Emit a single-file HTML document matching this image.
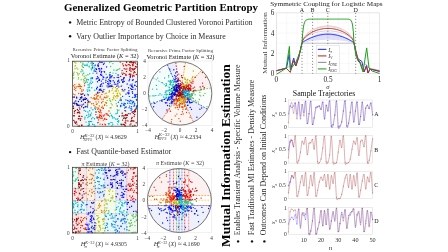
<!DOCTYPE html>
<html><head><meta charset="utf-8"><title>Generalized Geometric Partition Entropy</title>
<style>
html,body{margin:0;padding:0;background:#fff;}
body{width:448px;height:252px;overflow:hidden;}
svg{display:block;font-family:"Liberation Serif","DejaVu Serif",serif;}
</style></head><body>
<svg width="448" height="252" viewBox="0 0 448 252">
<rect width="448" height="252" fill="#fff"/>
<text x="64.00" y="10.60" font-size="9.6" text-anchor="start" font-weight="bold" font-style="normal" fill="#050505" textLength="194" lengthAdjust="spacingAndGlyphs">Generalized Geometric Partition Entropy</text>
<circle cx="70.1" cy="22.4" r="1.2" fill="#111"/>
<text x="76.20" y="24.90" font-size="7.2" text-anchor="start" font-weight="normal" font-style="normal" fill="#2e2e2e" textLength="176.4" lengthAdjust="spacingAndGlyphs">Metric Entropy of Bounded Clustered Voronoi Partition</text>
<circle cx="70.1" cy="36.3" r="1.2" fill="#111"/>
<text x="76.20" y="38.90" font-size="7.2" text-anchor="start" font-weight="normal" font-style="normal" fill="#2e2e2e" textLength="149.5" lengthAdjust="spacingAndGlyphs">Vary Outlier Importance by Choice in Measure</text>
<circle cx="70.1" cy="152.1" r="1.2" fill="#111"/>
<text x="76.20" y="153.80" font-size="7.2" text-anchor="start" font-weight="normal" font-style="normal" fill="#2e2e2e" textLength="95" lengthAdjust="spacingAndGlyphs">Fast Quantile-based Estimator</text>
<path d="M72.50,61.20 L82.50,61.20 L80.26,70.72 L72.50,71.94 Z" fill="#f9fbf1"/>
<path d="M82.50,61.20 L94.90,61.20 L93.65,75.55 L93.30,75.83 L87.15,77.14 L80.26,70.72 Z" fill="#f0fbfa"/>
<path d="M72.50,82.97 L72.50,71.94 L80.26,70.72 L87.15,77.14 L83.36,82.97 Z" fill="#f7fbf3"/>
<path d="M72.50,95.79 L72.50,82.97 L83.36,82.97 L85.35,92.94 Z" fill="#fdf4ef"/>
<path d="M94.90,61.20 L106.62,61.20 L106.62,75.46 L104.97,77.02 L93.65,75.55 Z" fill="#efeffd"/>
<path d="M85.35,92.94 L83.36,82.97 L87.15,77.14 L93.30,75.83 L96.89,92.56 L89.74,96.13 Z" fill="#effafb"/>
<path d="M96.89,92.56 L93.30,75.82 L93.65,75.55 L104.97,77.02 L107.55,87.32 L104.52,93.12 Z" fill="#eff1fd"/>
<path d="M106.62,61.20 L119.75,61.20 L120.69,73.90 L106.62,75.46 Z" fill="#f3fbf7"/>
<path d="M107.55,87.32 L104.97,77.02 L106.62,75.46 L120.69,73.90 L123.18,77.02 L120.73,85.00 Z" fill="#eff1fd"/>
<path d="M119.75,61.20 L137.50,61.20 L137.50,76.51 L123.18,77.02 L120.69,73.90 Z" fill="#faefef"/>
<path d="M106.91,97.09 L104.52,93.12 L107.55,87.32 L120.73,85.00 L124.21,93.89 L118.01,99.74 Z" fill="#fbfaef"/>
<path d="M137.50,76.51 L137.50,96.84 L124.21,93.89 L120.73,85.00 L123.18,77.02 Z" fill="#eff1fd"/>
<path d="M72.50,107.09 L72.50,95.79 L85.35,92.94 L89.74,96.13 L89.03,106.07 L83.88,109.37 Z" fill="#efeff9"/>
<path d="M89.03,106.07 L89.74,96.13 L96.89,92.56 L104.52,93.12 L106.91,97.09 L103.48,108.51 L97.21,110.34 Z" fill="#fdf5ef"/>
<path d="M83.88,126.20 L72.50,126.20 L72.50,107.09 L83.88,109.36 Z" fill="#f8efef"/>
<path d="M96.38,126.20 L83.88,126.20 L83.88,109.36 L89.03,106.07 L97.21,110.34 Z" fill="#eff9fb"/>
<path d="M105.85,126.20 L96.38,126.20 L97.21,110.34 L103.48,108.51 L109.42,112.80 Z" fill="#fdf1ef"/>
<path d="M109.42,112.80 L103.48,108.51 L106.91,97.09 L118.01,99.74 L119.66,111.87 Z" fill="#f7fbf3"/>
<path d="M121.25,126.20 L105.85,126.20 L109.42,112.80 L119.66,111.87 L121.25,113.14 Z" fill="#effafb"/>
<path d="M137.50,96.84 L137.50,109.24 L121.25,113.14 L119.66,111.87 L118.01,99.74 L124.21,93.89 Z" fill="#eff4fd"/>
<path d="M137.50,109.23 L137.50,126.20 L121.25,126.20 L121.25,113.14 Z" fill="#f8efef"/>
<circle cx="80.9" cy="93.7" r="0.68" fill="#e25600"/>
<circle cx="132.8" cy="65.8" r="0.68" fill="#b80000"/>
<circle cx="96.5" cy="94.4" r="0.68" fill="#de6600"/>
<circle cx="123.7" cy="104.8" r="0.68" fill="#0056e2"/>
<circle cx="136.3" cy="74.5" r="0.68" fill="#b80000"/>
<circle cx="111.0" cy="76.5" r="0.68" fill="#39bf85"/>
<circle cx="102.9" cy="79.2" r="0.68" fill="#0017ed"/>
<circle cx="82.1" cy="105.0" r="0.68" fill="#0000a6"/>
<circle cx="117.8" cy="83.3" r="0.68" fill="#0017ed"/>
<circle cx="102.4" cy="106.1" r="0.68" fill="#de6600"/>
<circle cx="110.7" cy="81.3" r="0.68" fill="#0017ed"/>
<circle cx="74.1" cy="115.7" r="0.68" fill="#930000"/>
<circle cx="85.2" cy="65.2" r="0.68" fill="#13bfac"/>
<circle cx="124.8" cy="73.6" r="0.68" fill="#b80000"/>
<circle cx="119.8" cy="93.3" r="0.68" fill="#c4b100"/>
<circle cx="89.3" cy="124.8" r="0.68" fill="#00a5c9"/>
<circle cx="92.9" cy="109.7" r="0.68" fill="#00a5c9"/>
<circle cx="88.4" cy="116.1" r="0.68" fill="#00a5c9"/>
<circle cx="117.5" cy="112.0" r="0.68" fill="#00b7c2"/>
<circle cx="81.8" cy="90.0" r="0.68" fill="#e25600"/>
<circle cx="74.8" cy="84.6" r="0.68" fill="#e25600"/>
<circle cx="82.9" cy="93.6" r="0.68" fill="#0000a6"/>
<circle cx="75.0" cy="68.7" r="0.68" fill="#9cbf22"/>
<circle cx="114.3" cy="84.1" r="0.68" fill="#0017ed"/>
<circle cx="131.8" cy="68.7" r="0.68" fill="#b80000"/>
<circle cx="131.5" cy="106.7" r="0.68" fill="#0056e2"/>
<circle cx="81.9" cy="91.4" r="0.68" fill="#e25600"/>
<circle cx="124.8" cy="110.6" r="0.68" fill="#0056e2"/>
<circle cx="81.5" cy="86.6" r="0.68" fill="#e25600"/>
<circle cx="111.7" cy="76.8" r="0.68" fill="#0017ed"/>
<circle cx="91.4" cy="113.1" r="0.68" fill="#00a5c9"/>
<circle cx="106.2" cy="77.9" r="0.68" fill="#0017ed"/>
<circle cx="131.1" cy="110.3" r="0.68" fill="#0056e2"/>
<circle cx="121.2" cy="86.2" r="0.68" fill="#0017ed"/>
<circle cx="120.9" cy="97.6" r="0.68" fill="#c4b100"/>
<circle cx="76.6" cy="97.3" r="0.68" fill="#0000a6"/>
<circle cx="104.7" cy="118.5" r="0.68" fill="#ed2100"/>
<circle cx="78.4" cy="101.5" r="0.68" fill="#0000a6"/>
<circle cx="81.5" cy="101.3" r="0.68" fill="#0000a6"/>
<circle cx="81.2" cy="94.5" r="0.68" fill="#0000a6"/>
<circle cx="102.4" cy="124.5" r="0.68" fill="#ed2100"/>
<circle cx="80.3" cy="88.4" r="0.68" fill="#e25600"/>
<circle cx="91.2" cy="77.8" r="0.68" fill="#00b1c4"/>
<circle cx="98.9" cy="109.1" r="0.68" fill="#de6600"/>
<circle cx="96.1" cy="94.2" r="0.68" fill="#de6600"/>
<circle cx="97.6" cy="109.3" r="0.68" fill="#de6600"/>
<circle cx="101.9" cy="118.1" r="0.68" fill="#ed2100"/>
<circle cx="132.9" cy="87.6" r="0.68" fill="#0017ed"/>
<circle cx="101.6" cy="68.8" r="0.68" fill="#0004ed"/>
<circle cx="96.8" cy="73.1" r="0.68" fill="#0004ed"/>
<circle cx="117.5" cy="93.8" r="0.68" fill="#c4b100"/>
<circle cx="104.2" cy="71.6" r="0.68" fill="#0004ed"/>
<circle cx="83.4" cy="99.8" r="0.68" fill="#0000a6"/>
<circle cx="97.9" cy="99.1" r="0.68" fill="#de6600"/>
<circle cx="133.4" cy="113.2" r="0.68" fill="#930000"/>
<circle cx="98.5" cy="63.9" r="0.68" fill="#0004ed"/>
<circle cx="102.8" cy="107.9" r="0.68" fill="#de6600"/>
<circle cx="99.5" cy="112.3" r="0.68" fill="#ed2100"/>
<circle cx="87.2" cy="65.6" r="0.68" fill="#13bfac"/>
<circle cx="130.2" cy="85.0" r="0.68" fill="#0017ed"/>
<circle cx="97.5" cy="81.8" r="0.68" fill="#0017ed"/>
<circle cx="101.2" cy="75.2" r="0.68" fill="#0017ed"/>
<circle cx="125.9" cy="120.8" r="0.68" fill="#930000"/>
<circle cx="99.3" cy="105.9" r="0.68" fill="#de6600"/>
<circle cx="77.1" cy="105.3" r="0.68" fill="#0000a6"/>
<circle cx="98.8" cy="80.3" r="0.68" fill="#0017ed"/>
<circle cx="86.3" cy="81.1" r="0.68" fill="#85bf39"/>
<circle cx="79.3" cy="86.5" r="0.68" fill="#e25600"/>
<circle cx="90.8" cy="78.8" r="0.68" fill="#00b1c4"/>
<circle cx="97.0" cy="107.7" r="0.68" fill="#de6600"/>
<circle cx="84.2" cy="110.5" r="0.68" fill="#00a5c9"/>
<circle cx="99.9" cy="69.9" r="0.68" fill="#0004ed"/>
<circle cx="116.8" cy="86.2" r="0.68" fill="#0017ed"/>
<circle cx="118.6" cy="122.0" r="0.68" fill="#00b7c2"/>
<circle cx="132.7" cy="86.9" r="0.68" fill="#0017ed"/>
<circle cx="106.1" cy="113.8" r="0.68" fill="#ed2100"/>
<circle cx="84.6" cy="95.3" r="0.68" fill="#0000a6"/>
<circle cx="105.8" cy="82.3" r="0.68" fill="#0017ed"/>
<circle cx="102.5" cy="92.1" r="0.68" fill="#0017ed"/>
<circle cx="92.9" cy="117.6" r="0.68" fill="#00a5c9"/>
<circle cx="133.7" cy="111.4" r="0.68" fill="#930000"/>
<circle cx="101.6" cy="102.4" r="0.68" fill="#de6600"/>
<circle cx="103.3" cy="120.1" r="0.68" fill="#ed2100"/>
<circle cx="130.9" cy="123.9" r="0.68" fill="#930000"/>
<circle cx="96.0" cy="68.7" r="0.68" fill="#0004ed"/>
<circle cx="96.0" cy="101.9" r="0.68" fill="#de6600"/>
<circle cx="97.4" cy="96.0" r="0.68" fill="#de6600"/>
<circle cx="92.6" cy="82.3" r="0.68" fill="#00b1c4"/>
<circle cx="126.5" cy="62.0" r="0.68" fill="#b80000"/>
<circle cx="88.3" cy="94.9" r="0.68" fill="#0000a6"/>
<circle cx="103.5" cy="64.2" r="0.68" fill="#0004ed"/>
<circle cx="101.7" cy="71.5" r="0.68" fill="#0004ed"/>
<circle cx="135.9" cy="94.4" r="0.68" fill="#0017ed"/>
<circle cx="100.9" cy="118.2" r="0.68" fill="#ed2100"/>
<circle cx="112.8" cy="124.3" r="0.68" fill="#00b7c2"/>
<circle cx="134.6" cy="105.8" r="0.68" fill="#0056e2"/>
<circle cx="103.7" cy="91.6" r="0.68" fill="#c4b100"/>
<circle cx="91.2" cy="68.2" r="0.68" fill="#13bfac"/>
<circle cx="90.5" cy="121.4" r="0.68" fill="#00a5c9"/>
<circle cx="130.3" cy="76.6" r="0.68" fill="#0017ed"/>
<circle cx="134.9" cy="110.1" r="0.68" fill="#930000"/>
<circle cx="81.9" cy="116.4" r="0.68" fill="#930000"/>
<circle cx="74.8" cy="62.4" r="0.68" fill="#9cbf22"/>
<circle cx="134.7" cy="114.4" r="0.68" fill="#930000"/>
<circle cx="110.7" cy="66.5" r="0.68" fill="#39bf85"/>
<circle cx="123.8" cy="91.4" r="0.68" fill="#c4b100"/>
<circle cx="83.4" cy="90.0" r="0.68" fill="#e25600"/>
<circle cx="77.7" cy="73.7" r="0.68" fill="#85bf39"/>
<circle cx="86.1" cy="75.7" r="0.68" fill="#85bf39"/>
<circle cx="83.4" cy="67.4" r="0.68" fill="#13bfac"/>
<circle cx="129.1" cy="107.8" r="0.68" fill="#0056e2"/>
<circle cx="100.8" cy="84.8" r="0.68" fill="#0017ed"/>
<circle cx="117.1" cy="98.1" r="0.68" fill="#c4b100"/>
<circle cx="85.2" cy="98.0" r="0.68" fill="#0000a6"/>
<circle cx="119.1" cy="110.1" r="0.68" fill="#85bf39"/>
<circle cx="111.6" cy="115.7" r="0.68" fill="#00b7c2"/>
<circle cx="118.1" cy="69.4" r="0.68" fill="#39bf85"/>
<circle cx="107.7" cy="83.8" r="0.68" fill="#0017ed"/>
<circle cx="99.0" cy="68.5" r="0.68" fill="#0004ed"/>
<circle cx="96.8" cy="117.8" r="0.68" fill="#00a5c9"/>
<circle cx="117.7" cy="81.1" r="0.68" fill="#0017ed"/>
<circle cx="118.5" cy="75.1" r="0.68" fill="#39bf85"/>
<circle cx="75.8" cy="90.6" r="0.68" fill="#e25600"/>
<circle cx="89.9" cy="116.3" r="0.68" fill="#00a5c9"/>
<circle cx="101.6" cy="84.0" r="0.68" fill="#0017ed"/>
<circle cx="111.9" cy="86.6" r="0.68" fill="#0017ed"/>
<circle cx="131.9" cy="101.0" r="0.68" fill="#0056e2"/>
<circle cx="122.2" cy="113.2" r="0.68" fill="#930000"/>
<circle cx="88.5" cy="114.1" r="0.68" fill="#00a5c9"/>
<circle cx="77.5" cy="104.9" r="0.68" fill="#0000a6"/>
<circle cx="122.5" cy="74.2" r="0.68" fill="#b80000"/>
<circle cx="80.4" cy="120.3" r="0.68" fill="#930000"/>
<circle cx="110.4" cy="86.6" r="0.68" fill="#c4b100"/>
<circle cx="88.5" cy="102.5" r="0.68" fill="#de6600"/>
<circle cx="78.7" cy="86.5" r="0.68" fill="#e25600"/>
<circle cx="76.8" cy="68.0" r="0.68" fill="#9cbf22"/>
<circle cx="120.7" cy="76.4" r="0.68" fill="#b80000"/>
<circle cx="101.7" cy="99.1" r="0.68" fill="#de6600"/>
<circle cx="109.5" cy="98.8" r="0.68" fill="#85bf39"/>
<circle cx="108.0" cy="96.2" r="0.68" fill="#c4b100"/>
<circle cx="87.6" cy="104.2" r="0.68" fill="#de6600"/>
<circle cx="108.3" cy="83.1" r="0.68" fill="#0017ed"/>
<circle cx="101.9" cy="75.1" r="0.68" fill="#0004ed"/>
<circle cx="91.8" cy="65.2" r="0.68" fill="#13bfac"/>
<circle cx="101.6" cy="90.6" r="0.68" fill="#0017ed"/>
<circle cx="112.1" cy="75.6" r="0.68" fill="#0017ed"/>
<circle cx="103.3" cy="99.3" r="0.68" fill="#de6600"/>
<circle cx="78.5" cy="77.7" r="0.68" fill="#85bf39"/>
<circle cx="92.7" cy="67.6" r="0.68" fill="#0004ed"/>
<circle cx="78.4" cy="105.3" r="0.68" fill="#0000a6"/>
<circle cx="80.5" cy="97.8" r="0.68" fill="#0000a6"/>
<circle cx="96.8" cy="96.1" r="0.68" fill="#de6600"/>
<circle cx="91.8" cy="87.7" r="0.68" fill="#00b1c4"/>
<circle cx="73.3" cy="103.3" r="0.68" fill="#0000a6"/>
<circle cx="101.4" cy="81.1" r="0.68" fill="#0017ed"/>
<circle cx="98.1" cy="122.4" r="0.68" fill="#ed2100"/>
<circle cx="132.1" cy="117.5" r="0.68" fill="#930000"/>
<circle cx="116.7" cy="89.0" r="0.68" fill="#c4b100"/>
<circle cx="135.4" cy="82.1" r="0.68" fill="#0017ed"/>
<circle cx="137.2" cy="64.3" r="0.68" fill="#b80000"/>
<circle cx="100.4" cy="110.7" r="0.68" fill="#ed2100"/>
<circle cx="74.1" cy="96.7" r="0.68" fill="#e25600"/>
<circle cx="120.7" cy="105.5" r="0.68" fill="#0056e2"/>
<circle cx="128.6" cy="87.8" r="0.68" fill="#0017ed"/>
<circle cx="79.0" cy="84.2" r="0.68" fill="#e25600"/>
<circle cx="80.5" cy="86.2" r="0.68" fill="#e25600"/>
<circle cx="117.9" cy="118.6" r="0.68" fill="#00b7c2"/>
<circle cx="94.9" cy="98.4" r="0.68" fill="#de6600"/>
<circle cx="133.9" cy="62.4" r="0.68" fill="#b80000"/>
<circle cx="121.7" cy="73.0" r="0.68" fill="#39bf85"/>
<circle cx="89.6" cy="121.7" r="0.68" fill="#00a5c9"/>
<circle cx="132.9" cy="75.3" r="0.68" fill="#b80000"/>
<circle cx="117.1" cy="105.7" r="0.68" fill="#85bf39"/>
<circle cx="124.7" cy="108.1" r="0.68" fill="#0056e2"/>
<circle cx="77.8" cy="69.1" r="0.68" fill="#9cbf22"/>
<circle cx="85.7" cy="111.2" r="0.68" fill="#00a5c9"/>
<circle cx="127.7" cy="103.2" r="0.68" fill="#0056e2"/>
<circle cx="95.5" cy="109.3" r="0.68" fill="#00a5c9"/>
<circle cx="121.8" cy="124.2" r="0.68" fill="#930000"/>
<circle cx="87.7" cy="91.3" r="0.68" fill="#00b1c4"/>
<circle cx="112.0" cy="125.9" r="0.68" fill="#00b7c2"/>
<circle cx="98.5" cy="77.9" r="0.68" fill="#0017ed"/>
<circle cx="105.4" cy="102.5" r="0.68" fill="#85bf39"/>
<circle cx="135.0" cy="72.4" r="0.68" fill="#b80000"/>
<circle cx="91.4" cy="69.8" r="0.68" fill="#13bfac"/>
<circle cx="95.9" cy="111.7" r="0.68" fill="#00a5c9"/>
<circle cx="89.7" cy="84.0" r="0.68" fill="#00b1c4"/>
<circle cx="84.7" cy="78.3" r="0.68" fill="#85bf39"/>
<circle cx="95.2" cy="108.1" r="0.68" fill="#de6600"/>
<circle cx="87.9" cy="112.0" r="0.68" fill="#00a5c9"/>
<circle cx="74.7" cy="102.1" r="0.68" fill="#0000a6"/>
<circle cx="133.5" cy="63.1" r="0.68" fill="#b80000"/>
<circle cx="97.5" cy="117.8" r="0.68" fill="#ed2100"/>
<circle cx="73.7" cy="78.0" r="0.68" fill="#85bf39"/>
<circle cx="74.7" cy="103.8" r="0.68" fill="#0000a6"/>
<circle cx="87.9" cy="117.6" r="0.68" fill="#00a5c9"/>
<circle cx="122.0" cy="116.6" r="0.68" fill="#00b7c2"/>
<circle cx="73.6" cy="73.6" r="0.68" fill="#85bf39"/>
<circle cx="132.1" cy="103.7" r="0.68" fill="#0056e2"/>
<circle cx="133.7" cy="73.0" r="0.68" fill="#b80000"/>
<circle cx="122.2" cy="115.4" r="0.68" fill="#930000"/>
<circle cx="129.7" cy="68.9" r="0.68" fill="#b80000"/>
<circle cx="99.7" cy="71.3" r="0.68" fill="#0004ed"/>
<circle cx="124.7" cy="103.6" r="0.68" fill="#0056e2"/>
<circle cx="76.3" cy="86.9" r="0.68" fill="#e25600"/>
<circle cx="135.7" cy="109.3" r="0.68" fill="#930000"/>
<circle cx="132.5" cy="76.7" r="0.68" fill="#b80000"/>
<circle cx="74.4" cy="113.1" r="0.68" fill="#930000"/>
<circle cx="117.4" cy="88.8" r="0.68" fill="#c4b100"/>
<circle cx="129.7" cy="101.7" r="0.68" fill="#0056e2"/>
<circle cx="91.6" cy="118.8" r="0.68" fill="#00a5c9"/>
<circle cx="94.5" cy="118.7" r="0.68" fill="#00a5c9"/>
<circle cx="79.2" cy="107.1" r="0.68" fill="#930000"/>
<circle cx="88.4" cy="79.7" r="0.68" fill="#00b1c4"/>
<circle cx="107.8" cy="81.4" r="0.68" fill="#0017ed"/>
<circle cx="117.2" cy="109.8" r="0.68" fill="#85bf39"/>
<circle cx="122.1" cy="79.8" r="0.68" fill="#0017ed"/>
<circle cx="86.6" cy="115.4" r="0.68" fill="#00a5c9"/>
<circle cx="101.6" cy="107.5" r="0.68" fill="#de6600"/>
<circle cx="120.6" cy="106.5" r="0.68" fill="#0056e2"/>
<circle cx="137.2" cy="94.8" r="0.68" fill="#0017ed"/>
<circle cx="134.8" cy="110.2" r="0.68" fill="#930000"/>
<circle cx="132.2" cy="112.6" r="0.68" fill="#930000"/>
<circle cx="128.8" cy="92.2" r="0.68" fill="#0017ed"/>
<circle cx="74.6" cy="122.0" r="0.68" fill="#930000"/>
<circle cx="116.1" cy="91.3" r="0.68" fill="#c4b100"/>
<circle cx="110.3" cy="80.8" r="0.68" fill="#0017ed"/>
<circle cx="133.0" cy="75.6" r="0.68" fill="#b80000"/>
<circle cx="104.7" cy="97.1" r="0.68" fill="#de6600"/>
<circle cx="82.0" cy="125.1" r="0.68" fill="#930000"/>
<circle cx="89.2" cy="85.9" r="0.68" fill="#00b1c4"/>
<circle cx="99.5" cy="89.5" r="0.68" fill="#0017ed"/>
<circle cx="126.7" cy="65.7" r="0.68" fill="#b80000"/>
<circle cx="84.8" cy="118.9" r="0.68" fill="#00a5c9"/>
<circle cx="83.3" cy="99.3" r="0.68" fill="#0000a6"/>
<circle cx="100.0" cy="124.1" r="0.68" fill="#ed2100"/>
<circle cx="89.2" cy="87.4" r="0.68" fill="#00b1c4"/>
<circle cx="81.8" cy="97.3" r="0.68" fill="#0000a6"/>
<circle cx="99.0" cy="68.8" r="0.68" fill="#0004ed"/>
<circle cx="136.2" cy="122.7" r="0.68" fill="#930000"/>
<circle cx="116.3" cy="103.7" r="0.68" fill="#85bf39"/>
<circle cx="124.8" cy="89.8" r="0.68" fill="#0017ed"/>
<circle cx="136.8" cy="86.4" r="0.68" fill="#0017ed"/>
<circle cx="100.3" cy="86.1" r="0.68" fill="#0017ed"/>
<circle cx="131.9" cy="109.1" r="0.68" fill="#0056e2"/>
<circle cx="130.8" cy="88.5" r="0.68" fill="#0017ed"/>
<circle cx="128.4" cy="113.6" r="0.68" fill="#0056e2"/>
<circle cx="77.4" cy="109.5" r="0.68" fill="#930000"/>
<circle cx="127.9" cy="120.9" r="0.68" fill="#930000"/>
<circle cx="118.7" cy="77.5" r="0.68" fill="#0017ed"/>
<circle cx="85.4" cy="99.4" r="0.68" fill="#0000a6"/>
<circle cx="89.2" cy="66.2" r="0.68" fill="#13bfac"/>
<circle cx="119.7" cy="68.7" r="0.68" fill="#39bf85"/>
<circle cx="103.9" cy="89.6" r="0.68" fill="#0017ed"/>
<circle cx="131.1" cy="61.8" r="0.68" fill="#b80000"/>
<circle cx="88.9" cy="125.4" r="0.68" fill="#00a5c9"/>
<circle cx="75.9" cy="63.0" r="0.68" fill="#9cbf22"/>
<circle cx="135.4" cy="111.6" r="0.68" fill="#930000"/>
<circle cx="118.6" cy="80.2" r="0.68" fill="#0017ed"/>
<circle cx="126.0" cy="75.5" r="0.68" fill="#b80000"/>
<circle cx="83.8" cy="81.9" r="0.68" fill="#85bf39"/>
<circle cx="132.3" cy="91.8" r="0.68" fill="#0017ed"/>
<circle cx="123.6" cy="79.9" r="0.68" fill="#0017ed"/>
<circle cx="102.9" cy="101.5" r="0.68" fill="#de6600"/>
<circle cx="128.8" cy="93.5" r="0.68" fill="#0017ed"/>
<circle cx="92.0" cy="61.7" r="0.68" fill="#13bfac"/>
<circle cx="111.2" cy="103.8" r="0.68" fill="#85bf39"/>
<circle cx="120.4" cy="94.8" r="0.68" fill="#c4b100"/>
<circle cx="128.2" cy="64.6" r="0.68" fill="#b80000"/>
<circle cx="103.6" cy="116.0" r="0.68" fill="#ed2100"/>
<circle cx="117.7" cy="124.1" r="0.68" fill="#00b7c2"/>
<circle cx="97.4" cy="87.2" r="0.68" fill="#0017ed"/>
<circle cx="97.1" cy="103.8" r="0.68" fill="#de6600"/>
<circle cx="112.0" cy="86.4" r="0.68" fill="#0017ed"/>
<circle cx="126.0" cy="94.3" r="0.68" fill="#0056e2"/>
<circle cx="91.2" cy="97.7" r="0.68" fill="#de6600"/>
<circle cx="113.5" cy="97.8" r="0.68" fill="#c4b100"/>
<circle cx="110.8" cy="85.7" r="0.68" fill="#0017ed"/>
<circle cx="132.1" cy="84.1" r="0.68" fill="#0017ed"/>
<circle cx="130.0" cy="124.9" r="0.68" fill="#930000"/>
<circle cx="115.6" cy="96.7" r="0.68" fill="#c4b100"/>
<circle cx="101.9" cy="94.4" r="0.68" fill="#de6600"/>
<circle cx="87.0" cy="79.2" r="0.68" fill="#00b1c4"/>
<circle cx="125.7" cy="69.1" r="0.68" fill="#b80000"/>
<circle cx="125.6" cy="110.9" r="0.68" fill="#930000"/>
<circle cx="98.1" cy="66.0" r="0.68" fill="#0004ed"/>
<circle cx="125.6" cy="65.0" r="0.68" fill="#b80000"/>
<circle cx="106.7" cy="96.0" r="0.68" fill="#c4b100"/>
<circle cx="110.1" cy="83.3" r="0.68" fill="#0017ed"/>
<circle cx="91.3" cy="83.6" r="0.68" fill="#00b1c4"/>
<circle cx="96.6" cy="89.3" r="0.68" fill="#00b1c4"/>
<circle cx="131.6" cy="89.4" r="0.68" fill="#0017ed"/>
<circle cx="109.4" cy="90.4" r="0.68" fill="#c4b100"/>
<circle cx="78.4" cy="118.8" r="0.68" fill="#930000"/>
<circle cx="115.4" cy="87.5" r="0.68" fill="#c4b100"/>
<circle cx="117.2" cy="113.2" r="0.68" fill="#00b7c2"/>
<circle cx="109.0" cy="111.0" r="0.68" fill="#ed2100"/>
<circle cx="90.2" cy="114.4" r="0.68" fill="#00a5c9"/>
<circle cx="81.2" cy="79.8" r="0.68" fill="#85bf39"/>
<circle cx="94.0" cy="97.6" r="0.68" fill="#de6600"/>
<circle cx="73.5" cy="94.1" r="0.68" fill="#e25600"/>
<circle cx="106.6" cy="103.1" r="0.68" fill="#de6600"/>
<circle cx="94.8" cy="90.2" r="0.68" fill="#00b1c4"/>
<circle cx="130.9" cy="62.2" r="0.68" fill="#b80000"/>
<circle cx="121.6" cy="80.0" r="0.68" fill="#0017ed"/>
<circle cx="122.2" cy="89.5" r="0.68" fill="#0017ed"/>
<circle cx="112.9" cy="63.6" r="0.68" fill="#39bf85"/>
<circle cx="73.6" cy="108.2" r="0.68" fill="#930000"/>
<circle cx="131.0" cy="71.3" r="0.68" fill="#b80000"/>
<circle cx="86.6" cy="80.0" r="0.68" fill="#00b1c4"/>
<circle cx="131.6" cy="118.8" r="0.68" fill="#930000"/>
<circle cx="99.4" cy="62.0" r="0.68" fill="#0004ed"/>
<circle cx="130.2" cy="65.6" r="0.68" fill="#b80000"/>
<circle cx="99.4" cy="80.4" r="0.68" fill="#0017ed"/>
<circle cx="111.4" cy="115.2" r="0.68" fill="#00b7c2"/>
<circle cx="125.7" cy="107.4" r="0.68" fill="#0056e2"/>
<circle cx="124.9" cy="115.6" r="0.68" fill="#930000"/>
<circle cx="89.7" cy="73.7" r="0.68" fill="#13bfac"/>
<circle cx="100.4" cy="86.1" r="0.68" fill="#0017ed"/>
<circle cx="133.4" cy="101.4" r="0.68" fill="#0056e2"/>
<circle cx="73.6" cy="75.0" r="0.68" fill="#85bf39"/>
<circle cx="114.4" cy="82.2" r="0.68" fill="#0017ed"/>
<circle cx="83.7" cy="79.9" r="0.68" fill="#85bf39"/>
<circle cx="82.0" cy="65.6" r="0.68" fill="#9cbf22"/>
<circle cx="125.3" cy="125.9" r="0.68" fill="#930000"/>
<circle cx="78.3" cy="110.6" r="0.68" fill="#930000"/>
<circle cx="110.3" cy="113.3" r="0.68" fill="#85bf39"/>
<circle cx="106.9" cy="97.5" r="0.68" fill="#de6600"/>
<circle cx="100.1" cy="97.7" r="0.68" fill="#de6600"/>
<circle cx="109.7" cy="62.5" r="0.68" fill="#39bf85"/>
<circle cx="106.2" cy="74.2" r="0.68" fill="#39bf85"/>
<circle cx="98.5" cy="119.9" r="0.68" fill="#ed2100"/>
<circle cx="97.0" cy="116.7" r="0.68" fill="#00a5c9"/>
<circle cx="79.9" cy="105.2" r="0.68" fill="#0000a6"/>
<circle cx="117.1" cy="84.6" r="0.68" fill="#c4b100"/>
<circle cx="107.2" cy="100.5" r="0.68" fill="#85bf39"/>
<circle cx="135.4" cy="95.7" r="0.68" fill="#0056e2"/>
<circle cx="93.2" cy="98.5" r="0.68" fill="#de6600"/>
<circle cx="113.5" cy="97.2" r="0.68" fill="#c4b100"/>
<circle cx="117.3" cy="69.9" r="0.68" fill="#39bf85"/>
<circle cx="116.0" cy="113.7" r="0.68" fill="#00b7c2"/>
<circle cx="136.7" cy="100.3" r="0.68" fill="#0056e2"/>
<circle cx="135.5" cy="66.5" r="0.68" fill="#b80000"/>
<circle cx="109.5" cy="75.0" r="0.68" fill="#0017ed"/>
<circle cx="73.3" cy="106.2" r="0.68" fill="#930000"/>
<circle cx="132.0" cy="62.7" r="0.68" fill="#b80000"/>
<circle cx="136.7" cy="67.0" r="0.68" fill="#b80000"/>
<circle cx="126.9" cy="68.9" r="0.68" fill="#b80000"/>
<circle cx="82.5" cy="66.8" r="0.68" fill="#9cbf22"/>
<circle cx="123.0" cy="90.6" r="0.68" fill="#0017ed"/>
<circle cx="101.6" cy="102.9" r="0.68" fill="#de6600"/>
<circle cx="74.4" cy="111.2" r="0.68" fill="#930000"/>
<circle cx="130.1" cy="67.5" r="0.68" fill="#b80000"/>
<circle cx="76.9" cy="124.1" r="0.68" fill="#930000"/>
<circle cx="109.7" cy="72.8" r="0.68" fill="#39bf85"/>
<circle cx="101.4" cy="68.4" r="0.68" fill="#0004ed"/>
<circle cx="86.8" cy="65.5" r="0.68" fill="#13bfac"/>
<circle cx="123.8" cy="77.9" r="0.68" fill="#0017ed"/>
<circle cx="75.8" cy="101.0" r="0.68" fill="#0000a6"/>
<circle cx="74.9" cy="94.7" r="0.68" fill="#e25600"/>
<circle cx="122.8" cy="82.3" r="0.68" fill="#0017ed"/>
<circle cx="130.9" cy="74.1" r="0.68" fill="#b80000"/>
<circle cx="93.3" cy="103.4" r="0.68" fill="#de6600"/>
<circle cx="84.6" cy="65.2" r="0.68" fill="#13bfac"/>
<circle cx="123.4" cy="124.6" r="0.68" fill="#930000"/>
<circle cx="92.6" cy="66.2" r="0.68" fill="#13bfac"/>
<circle cx="109.6" cy="80.8" r="0.68" fill="#0017ed"/>
<circle cx="84.6" cy="80.6" r="0.68" fill="#85bf39"/>
<circle cx="115.8" cy="84.3" r="0.68" fill="#0017ed"/>
<circle cx="120.4" cy="98.2" r="0.68" fill="#c4b100"/>
<circle cx="100.2" cy="89.5" r="0.68" fill="#0017ed"/>
<circle cx="81.2" cy="98.0" r="0.68" fill="#0000a6"/>
<circle cx="98.2" cy="95.8" r="0.68" fill="#de6600"/>
<circle cx="94.1" cy="65.5" r="0.68" fill="#13bfac"/>
<circle cx="81.6" cy="125.6" r="0.68" fill="#930000"/>
<circle cx="133.8" cy="102.3" r="0.68" fill="#0056e2"/>
<circle cx="103.0" cy="91.2" r="0.68" fill="#0017ed"/>
<circle cx="131.5" cy="120.8" r="0.68" fill="#930000"/>
<circle cx="81.6" cy="106.8" r="0.68" fill="#930000"/>
<circle cx="93.9" cy="105.2" r="0.68" fill="#de6600"/>
<circle cx="83.6" cy="107.7" r="0.68" fill="#0000a6"/>
<circle cx="123.3" cy="105.1" r="0.68" fill="#0056e2"/>
<circle cx="84.5" cy="85.8" r="0.68" fill="#e25600"/>
<circle cx="97.9" cy="117.7" r="0.68" fill="#ed2100"/>
<circle cx="123.2" cy="81.9" r="0.68" fill="#0017ed"/>
<circle cx="133.8" cy="62.4" r="0.68" fill="#b80000"/>
<circle cx="130.9" cy="121.5" r="0.68" fill="#930000"/>
<circle cx="115.7" cy="119.0" r="0.68" fill="#00b7c2"/>
<circle cx="73.9" cy="115.8" r="0.68" fill="#930000"/>
<circle cx="125.1" cy="107.1" r="0.68" fill="#0056e2"/>
<circle cx="107.1" cy="113.9" r="0.68" fill="#ed2100"/>
<circle cx="109.0" cy="86.0" r="0.68" fill="#0017ed"/>
<circle cx="77.4" cy="112.7" r="0.68" fill="#930000"/>
<circle cx="98.4" cy="111.6" r="0.68" fill="#ed2100"/>
<circle cx="90.3" cy="82.6" r="0.68" fill="#00b1c4"/>
<circle cx="95.1" cy="99.2" r="0.68" fill="#de6600"/>
<circle cx="112.5" cy="88.7" r="0.68" fill="#c4b100"/>
<circle cx="108.9" cy="123.9" r="0.68" fill="#00b7c2"/>
<circle cx="114.2" cy="95.7" r="0.68" fill="#c4b100"/>
<circle cx="95.0" cy="126.2" r="0.68" fill="#00a5c9"/>
<circle cx="108.4" cy="123.8" r="0.68" fill="#00b7c2"/>
<circle cx="77.9" cy="112.4" r="0.68" fill="#930000"/>
<circle cx="118.0" cy="85.1" r="0.68" fill="#0017ed"/>
<circle cx="136.7" cy="106.5" r="0.68" fill="#0056e2"/>
<circle cx="74.9" cy="66.1" r="0.68" fill="#9cbf22"/>
<circle cx="132.5" cy="80.3" r="0.68" fill="#0017ed"/>
<circle cx="135.4" cy="96.2" r="0.68" fill="#0017ed"/>
<circle cx="79.2" cy="112.0" r="0.68" fill="#930000"/>
<circle cx="101.3" cy="72.7" r="0.68" fill="#0004ed"/>
<circle cx="129.8" cy="70.4" r="0.68" fill="#b80000"/>
<circle cx="110.9" cy="122.4" r="0.68" fill="#00b7c2"/>
<circle cx="129.4" cy="96.4" r="0.68" fill="#0056e2"/>
<circle cx="78.1" cy="75.0" r="0.68" fill="#85bf39"/>
<circle cx="118.8" cy="86.9" r="0.68" fill="#0017ed"/>
<circle cx="94.3" cy="69.2" r="0.68" fill="#13bfac"/>
<circle cx="92.6" cy="68.5" r="0.68" fill="#13bfac"/>
<circle cx="136.3" cy="108.6" r="0.68" fill="#0056e2"/>
<circle cx="134.4" cy="68.9" r="0.68" fill="#b80000"/>
<circle cx="134.3" cy="97.4" r="0.68" fill="#0056e2"/>
<circle cx="134.9" cy="85.5" r="0.68" fill="#0017ed"/>
<circle cx="100.7" cy="110.8" r="0.68" fill="#ed2100"/>
<circle cx="110.0" cy="100.4" r="0.68" fill="#85bf39"/>
<circle cx="134.4" cy="71.7" r="0.68" fill="#b80000"/>
<circle cx="87.4" cy="106.9" r="0.68" fill="#0000a6"/>
<circle cx="130.7" cy="100.4" r="0.68" fill="#0056e2"/>
<circle cx="128.3" cy="100.9" r="0.68" fill="#0056e2"/>
<circle cx="98.3" cy="93.0" r="0.68" fill="#de6600"/>
<circle cx="85.3" cy="102.5" r="0.68" fill="#0000a6"/>
<circle cx="133.2" cy="79.7" r="0.68" fill="#0017ed"/>
<circle cx="125.9" cy="74.5" r="0.68" fill="#b80000"/>
<circle cx="75.7" cy="88.6" r="0.68" fill="#e25600"/>
<circle cx="96.6" cy="88.5" r="0.68" fill="#0017ed"/>
<circle cx="107.3" cy="77.2" r="0.68" fill="#0017ed"/>
<circle cx="113.8" cy="98.9" r="0.68" fill="#c4b100"/>
<circle cx="106.8" cy="105.6" r="0.68" fill="#85bf39"/>
<circle cx="130.3" cy="77.3" r="0.68" fill="#0017ed"/>
<circle cx="119.3" cy="116.3" r="0.68" fill="#930000"/>
<circle cx="87.1" cy="64.2" r="0.68" fill="#13bfac"/>
<circle cx="85.1" cy="106.9" r="0.68" fill="#0000a6"/>
<circle cx="100.6" cy="74.5" r="0.68" fill="#0004ed"/>
<circle cx="120.2" cy="62.1" r="0.68" fill="#b80000"/>
<circle cx="73.8" cy="120.4" r="0.68" fill="#930000"/>
<circle cx="123.6" cy="78.5" r="0.68" fill="#0017ed"/>
<circle cx="97.6" cy="65.1" r="0.68" fill="#0004ed"/>
<circle cx="112.8" cy="118.0" r="0.68" fill="#00b7c2"/>
<circle cx="109.7" cy="78.0" r="0.68" fill="#0017ed"/>
<circle cx="88.1" cy="84.8" r="0.68" fill="#00b1c4"/>
<circle cx="120.8" cy="105.9" r="0.68" fill="#0056e2"/>
<circle cx="96.4" cy="98.8" r="0.68" fill="#de6600"/>
<circle cx="94.7" cy="67.1" r="0.68" fill="#13bfac"/>
<circle cx="82.6" cy="75.0" r="0.68" fill="#85bf39"/>
<circle cx="92.0" cy="78.8" r="0.68" fill="#00b1c4"/>
<circle cx="109.2" cy="86.1" r="0.68" fill="#0017ed"/>
<circle cx="113.3" cy="93.2" r="0.68" fill="#c4b100"/>
<circle cx="86.5" cy="98.7" r="0.68" fill="#0000a6"/>
<circle cx="105.5" cy="124.7" r="0.68" fill="#ed2100"/>
<circle cx="88.3" cy="101.6" r="0.68" fill="#0000a6"/>
<circle cx="115.9" cy="73.4" r="0.68" fill="#39bf85"/>
<circle cx="122.1" cy="70.6" r="0.68" fill="#b80000"/>
<circle cx="127.2" cy="84.0" r="0.68" fill="#0017ed"/>
<circle cx="79.6" cy="116.2" r="0.68" fill="#930000"/>
<circle cx="80.8" cy="118.7" r="0.68" fill="#930000"/>
<circle cx="89.7" cy="90.8" r="0.68" fill="#00b1c4"/>
<circle cx="106.6" cy="66.9" r="0.68" fill="#0004ed"/>
<circle cx="124.3" cy="105.3" r="0.68" fill="#0056e2"/>
<circle cx="80.7" cy="62.4" r="0.68" fill="#9cbf22"/>
<circle cx="91.1" cy="63.4" r="0.68" fill="#13bfac"/>
<circle cx="134.6" cy="112.1" r="0.68" fill="#930000"/>
<circle cx="124.2" cy="68.8" r="0.68" fill="#b80000"/>
<circle cx="129.2" cy="64.7" r="0.68" fill="#b80000"/>
<circle cx="126.6" cy="62.2" r="0.68" fill="#b80000"/>
<circle cx="134.4" cy="104.1" r="0.68" fill="#0056e2"/>
<circle cx="97.5" cy="76.7" r="0.68" fill="#0017ed"/>
<circle cx="109.5" cy="91.4" r="0.68" fill="#c4b100"/>
<circle cx="79.8" cy="109.0" r="0.68" fill="#0000a6"/>
<circle cx="132.5" cy="97.4" r="0.68" fill="#0056e2"/>
<circle cx="117.4" cy="95.8" r="0.68" fill="#c4b100"/>
<circle cx="114.1" cy="77.8" r="0.68" fill="#0017ed"/>
<circle cx="121.8" cy="103.5" r="0.68" fill="#0056e2"/>
<circle cx="74.3" cy="89.2" r="0.68" fill="#e25600"/>
<circle cx="75.6" cy="65.6" r="0.68" fill="#9cbf22"/>
<circle cx="84.2" cy="76.3" r="0.68" fill="#85bf39"/>
<circle cx="76.0" cy="122.3" r="0.68" fill="#930000"/>
<circle cx="104.5" cy="72.1" r="0.68" fill="#0004ed"/>
<circle cx="131.9" cy="86.5" r="0.68" fill="#0017ed"/>
<circle cx="87.5" cy="94.2" r="0.68" fill="#00b1c4"/>
<circle cx="89.1" cy="123.6" r="0.68" fill="#00a5c9"/>
<circle cx="133.2" cy="64.9" r="0.68" fill="#b80000"/>
<circle cx="137.2" cy="105.8" r="0.68" fill="#0056e2"/>
<circle cx="131.8" cy="85.4" r="0.68" fill="#0017ed"/>
<circle cx="102.2" cy="118.1" r="0.68" fill="#ed2100"/>
<circle cx="84.4" cy="99.3" r="0.68" fill="#0000a6"/>
<circle cx="132.5" cy="64.8" r="0.68" fill="#b80000"/>
<circle cx="116.3" cy="90.8" r="0.68" fill="#c4b100"/>
<circle cx="130.0" cy="100.1" r="0.68" fill="#0056e2"/>
<circle cx="98.4" cy="66.0" r="0.68" fill="#0004ed"/>
<circle cx="125.7" cy="123.1" r="0.68" fill="#930000"/>
<circle cx="118.5" cy="96.1" r="0.68" fill="#c4b100"/>
<circle cx="105.1" cy="93.7" r="0.68" fill="#c4b100"/>
<circle cx="124.6" cy="117.9" r="0.68" fill="#930000"/>
<circle cx="75.4" cy="123.2" r="0.68" fill="#930000"/>
<circle cx="127.3" cy="115.4" r="0.68" fill="#930000"/>
<circle cx="117.7" cy="95.8" r="0.68" fill="#c4b100"/>
<circle cx="123.7" cy="115.9" r="0.68" fill="#930000"/>
<circle cx="110.9" cy="107.9" r="0.68" fill="#85bf39"/>
<circle cx="124.0" cy="124.2" r="0.68" fill="#930000"/>
<circle cx="129.7" cy="62.2" r="0.68" fill="#b80000"/>
<circle cx="99.6" cy="92.5" r="0.68" fill="#de6600"/>
<circle cx="130.2" cy="69.0" r="0.68" fill="#b80000"/>
<circle cx="79.2" cy="73.7" r="0.68" fill="#9cbf22"/>
<circle cx="100.2" cy="109.7" r="0.68" fill="#de6600"/>
<circle cx="130.1" cy="113.7" r="0.68" fill="#930000"/>
<circle cx="133.0" cy="62.8" r="0.68" fill="#b80000"/>
<circle cx="118.4" cy="90.9" r="0.68" fill="#c4b100"/>
<circle cx="92.6" cy="124.3" r="0.68" fill="#00a5c9"/>
<circle cx="110.1" cy="76.7" r="0.68" fill="#0017ed"/>
<circle cx="94.6" cy="95.3" r="0.68" fill="#de6600"/>
<circle cx="100.8" cy="90.2" r="0.68" fill="#0017ed"/>
<circle cx="128.7" cy="93.8" r="0.68" fill="#0017ed"/>
<circle cx="104.8" cy="124.1" r="0.68" fill="#ed2100"/>
<circle cx="97.8" cy="92.3" r="0.68" fill="#0017ed"/>
<circle cx="122.6" cy="120.1" r="0.68" fill="#930000"/>
<circle cx="113.2" cy="80.8" r="0.68" fill="#0017ed"/>
<circle cx="133.1" cy="70.1" r="0.68" fill="#b80000"/>
<circle cx="95.3" cy="65.1" r="0.68" fill="#0004ed"/>
<circle cx="136.4" cy="107.8" r="0.68" fill="#0056e2"/>
<circle cx="134.9" cy="125.5" r="0.68" fill="#930000"/>
<circle cx="98.1" cy="99.6" r="0.68" fill="#de6600"/>
<circle cx="116.8" cy="95.5" r="0.68" fill="#c4b100"/>
<circle cx="96.1" cy="112.3" r="0.68" fill="#ed2100"/>
<circle cx="104.3" cy="97.5" r="0.68" fill="#de6600"/>
<circle cx="79.7" cy="113.0" r="0.68" fill="#930000"/>
<circle cx="109.5" cy="116.3" r="0.68" fill="#00b7c2"/>
<circle cx="89.1" cy="89.9" r="0.68" fill="#00b1c4"/>
<circle cx="104.7" cy="104.6" r="0.68" fill="#de6600"/>
<circle cx="125.1" cy="122.2" r="0.68" fill="#930000"/>
<circle cx="111.3" cy="86.4" r="0.68" fill="#0017ed"/>
<circle cx="74.1" cy="97.3" r="0.68" fill="#0000a6"/>
<circle cx="96.5" cy="69.4" r="0.68" fill="#0004ed"/>
<circle cx="95.8" cy="114.6" r="0.68" fill="#ed2100"/>
<circle cx="104.6" cy="105.4" r="0.68" fill="#de6600"/>
<circle cx="135.1" cy="97.3" r="0.68" fill="#0056e2"/>
<circle cx="122.6" cy="96.4" r="0.68" fill="#0056e2"/>
<circle cx="73.7" cy="85.7" r="0.68" fill="#e25600"/>
<circle cx="107.5" cy="87.6" r="0.68" fill="#c4b100"/>
<circle cx="112.4" cy="116.7" r="0.68" fill="#00b7c2"/>
<circle cx="82.9" cy="63.3" r="0.68" fill="#13bfac"/>
<circle cx="76.8" cy="104.0" r="0.68" fill="#0000a6"/>
<circle cx="130.1" cy="103.5" r="0.68" fill="#0056e2"/>
<circle cx="123.3" cy="73.1" r="0.68" fill="#b80000"/>
<circle cx="108.8" cy="86.9" r="0.68" fill="#0017ed"/>
<circle cx="122.7" cy="81.8" r="0.68" fill="#0017ed"/>
<circle cx="99.7" cy="114.9" r="0.68" fill="#ed2100"/>
<circle cx="130.2" cy="76.1" r="0.68" fill="#b80000"/>
<circle cx="127.5" cy="100.4" r="0.68" fill="#0056e2"/>
<circle cx="110.3" cy="74.9" r="0.68" fill="#0017ed"/>
<circle cx="79.1" cy="118.8" r="0.68" fill="#930000"/>
<circle cx="116.3" cy="70.5" r="0.68" fill="#39bf85"/>
<circle cx="134.6" cy="95.0" r="0.68" fill="#0017ed"/>
<circle cx="89.9" cy="101.9" r="0.68" fill="#0000a6"/>
<circle cx="85.0" cy="117.2" r="0.68" fill="#00a5c9"/>
<circle cx="91.1" cy="107.9" r="0.68" fill="#00a5c9"/>
<circle cx="104.3" cy="63.1" r="0.68" fill="#0004ed"/>
<circle cx="129.7" cy="106.1" r="0.68" fill="#0056e2"/>
<circle cx="121.2" cy="100.5" r="0.68" fill="#0056e2"/>
<circle cx="115.1" cy="91.1" r="0.68" fill="#c4b100"/>
<circle cx="82.6" cy="94.4" r="0.68" fill="#e25600"/>
<circle cx="73.4" cy="108.4" r="0.68" fill="#930000"/>
<circle cx="103.0" cy="76.8" r="0.68" fill="#0017ed"/>
<circle cx="124.2" cy="81.4" r="0.68" fill="#0017ed"/>
<circle cx="93.2" cy="63.4" r="0.68" fill="#0004ed"/>
<circle cx="87.2" cy="82.3" r="0.68" fill="#00b1c4"/>
<circle cx="117.2" cy="77.4" r="0.68" fill="#0017ed"/>
<circle cx="100.2" cy="96.3" r="0.68" fill="#de6600"/>
<circle cx="127.4" cy="92.9" r="0.68" fill="#0017ed"/>
<circle cx="81.6" cy="69.8" r="0.68" fill="#9cbf22"/>
<circle cx="81.7" cy="96.9" r="0.68" fill="#0000a6"/>
<circle cx="126.2" cy="107.0" r="0.68" fill="#0056e2"/>
<circle cx="97.4" cy="93.0" r="0.68" fill="#0017ed"/>
<circle cx="118.7" cy="120.7" r="0.68" fill="#00b7c2"/>
<circle cx="117.3" cy="93.2" r="0.68" fill="#c4b100"/>
<circle cx="126.8" cy="117.4" r="0.68" fill="#930000"/>
<circle cx="110.4" cy="72.4" r="0.68" fill="#39bf85"/>
<circle cx="106.6" cy="119.4" r="0.68" fill="#ed2100"/>
<circle cx="113.9" cy="70.0" r="0.68" fill="#39bf85"/>
<circle cx="96.4" cy="78.9" r="0.68" fill="#0017ed"/>
<circle cx="78.3" cy="112.6" r="0.68" fill="#930000"/>
<circle cx="82.0" cy="69.6" r="0.68" fill="#9cbf22"/>
<circle cx="92.5" cy="64.6" r="0.68" fill="#13bfac"/>
<circle cx="103.2" cy="83.2" r="0.68" fill="#0017ed"/>
<circle cx="128.9" cy="90.6" r="0.68" fill="#0017ed"/>
<circle cx="124.1" cy="103.2" r="0.68" fill="#0056e2"/>
<circle cx="74.6" cy="87.3" r="0.68" fill="#e25600"/>
<circle cx="122.3" cy="90.9" r="0.68" fill="#c4b100"/>
<circle cx="101.9" cy="115.1" r="0.68" fill="#ed2100"/>
<circle cx="102.8" cy="92.2" r="0.68" fill="#de6600"/>
<circle cx="88.1" cy="87.7" r="0.68" fill="#00b1c4"/>
<circle cx="82.9" cy="64.5" r="0.68" fill="#13bfac"/>
<circle cx="102.1" cy="86.1" r="0.68" fill="#0017ed"/>
<circle cx="106.2" cy="93.1" r="0.68" fill="#de6600"/>
<circle cx="74.1" cy="72.2" r="0.68" fill="#85bf39"/>
<circle cx="130.3" cy="74.8" r="0.68" fill="#b80000"/>
<circle cx="75.5" cy="110.6" r="0.68" fill="#930000"/>
<circle cx="121.8" cy="124.8" r="0.68" fill="#930000"/>
<circle cx="134.2" cy="116.3" r="0.68" fill="#930000"/>
<circle cx="94.2" cy="70.9" r="0.68" fill="#0004ed"/>
<circle cx="129.8" cy="73.9" r="0.68" fill="#b80000"/>
<circle cx="123.6" cy="118.3" r="0.68" fill="#930000"/>
<circle cx="79.9" cy="99.5" r="0.68" fill="#0000a6"/>
<circle cx="117.9" cy="110.5" r="0.68" fill="#00b7c2"/>
<circle cx="110.0" cy="86.6" r="0.68" fill="#0017ed"/>
<circle cx="117.1" cy="96.1" r="0.68" fill="#c4b100"/>
<circle cx="88.7" cy="121.7" r="0.68" fill="#00a5c9"/>
<circle cx="100.3" cy="115.4" r="0.68" fill="#ed2100"/>
<circle cx="96.4" cy="104.5" r="0.68" fill="#de6600"/>
<circle cx="135.6" cy="63.0" r="0.68" fill="#b80000"/>
<circle cx="132.9" cy="69.0" r="0.68" fill="#b80000"/>
<circle cx="88.4" cy="62.1" r="0.68" fill="#13bfac"/>
<circle cx="112.4" cy="99.8" r="0.68" fill="#85bf39"/>
<circle cx="130.6" cy="75.6" r="0.68" fill="#b80000"/>
<circle cx="97.6" cy="122.8" r="0.68" fill="#00a5c9"/>
<circle cx="81.6" cy="125.3" r="0.68" fill="#930000"/>
<circle cx="90.8" cy="115.2" r="0.68" fill="#00a5c9"/>
<circle cx="83.6" cy="104.1" r="0.68" fill="#0000a6"/>
<circle cx="89.2" cy="66.9" r="0.68" fill="#13bfac"/>
<circle cx="112.3" cy="104.9" r="0.68" fill="#85bf39"/>
<circle cx="82.6" cy="74.1" r="0.68" fill="#85bf39"/>
<circle cx="120.6" cy="124.2" r="0.68" fill="#00b7c2"/>
<circle cx="102.1" cy="62.4" r="0.68" fill="#0004ed"/>
<circle cx="100.8" cy="89.1" r="0.68" fill="#0017ed"/>
<circle cx="91.0" cy="80.9" r="0.68" fill="#00b1c4"/>
<circle cx="106.1" cy="102.8" r="0.68" fill="#de6600"/>
<circle cx="117.2" cy="119.4" r="0.68" fill="#00b7c2"/>
<circle cx="114.2" cy="117.7" r="0.68" fill="#00b7c2"/>
<circle cx="121.0" cy="99.5" r="0.68" fill="#0056e2"/>
<circle cx="110.2" cy="107.7" r="0.68" fill="#85bf39"/>
<circle cx="110.8" cy="107.6" r="0.68" fill="#85bf39"/>
<circle cx="94.1" cy="124.8" r="0.68" fill="#00a5c9"/>
<circle cx="108.8" cy="79.6" r="0.68" fill="#0017ed"/>
<circle cx="87.9" cy="74.8" r="0.68" fill="#13bfac"/>
<circle cx="103.7" cy="77.5" r="0.68" fill="#0017ed"/>
<circle cx="96.7" cy="97.7" r="0.68" fill="#de6600"/>
<circle cx="99.2" cy="90.3" r="0.68" fill="#0017ed"/>
<circle cx="132.5" cy="102.4" r="0.68" fill="#0056e2"/>
<circle cx="94.3" cy="71.0" r="0.68" fill="#13bfac"/>
<circle cx="91.7" cy="121.6" r="0.68" fill="#00a5c9"/>
<circle cx="110.8" cy="77.8" r="0.68" fill="#0017ed"/>
<circle cx="78.0" cy="86.5" r="0.68" fill="#e25600"/>
<circle cx="135.3" cy="89.1" r="0.68" fill="#0017ed"/>
<circle cx="125.7" cy="118.3" r="0.68" fill="#930000"/>
<circle cx="76.3" cy="103.5" r="0.68" fill="#0000a6"/>
<circle cx="88.2" cy="125.4" r="0.68" fill="#00a5c9"/>
<circle cx="83.7" cy="73.2" r="0.68" fill="#13bfac"/>
<circle cx="78.7" cy="93.5" r="0.68" fill="#e25600"/>
<circle cx="84.7" cy="83.7" r="0.68" fill="#e25600"/>
<circle cx="126.5" cy="71.5" r="0.68" fill="#b80000"/>
<circle cx="94.6" cy="108.1" r="0.68" fill="#00a5c9"/>
<circle cx="132.6" cy="93.2" r="0.68" fill="#0017ed"/>
<circle cx="129.2" cy="74.4" r="0.68" fill="#b80000"/>
<circle cx="81.0" cy="71.8" r="0.68" fill="#13bfac"/>
<circle cx="100.3" cy="86.2" r="0.68" fill="#0017ed"/>
<circle cx="105.9" cy="80.3" r="0.68" fill="#0017ed"/>
<circle cx="125.9" cy="99.9" r="0.68" fill="#0056e2"/>
<circle cx="78.3" cy="79.1" r="0.68" fill="#85bf39"/>
<circle cx="80.3" cy="86.5" r="0.68" fill="#e25600"/>
<circle cx="111.2" cy="61.6" r="0.68" fill="#39bf85"/>
<circle cx="78.1" cy="126.1" r="0.68" fill="#930000"/>
<circle cx="100.1" cy="115.9" r="0.68" fill="#ed2100"/>
<circle cx="95.8" cy="71.2" r="0.68" fill="#0004ed"/>
<circle cx="85.4" cy="82.2" r="0.68" fill="#00b1c4"/>
<circle cx="112.1" cy="122.6" r="0.68" fill="#00b7c2"/>
<circle cx="117.3" cy="106.1" r="0.68" fill="#0056e2"/>
<circle cx="105.7" cy="97.7" r="0.68" fill="#de6600"/>
<circle cx="118.0" cy="74.9" r="0.68" fill="#0017ed"/>
<circle cx="112.0" cy="90.6" r="0.68" fill="#c4b100"/>
<circle cx="109.0" cy="92.2" r="0.68" fill="#c4b100"/>
<circle cx="99.3" cy="116.6" r="0.68" fill="#ed2100"/>
<circle cx="125.3" cy="103.8" r="0.68" fill="#0056e2"/>
<circle cx="87.6" cy="102.8" r="0.68" fill="#de6600"/>
<circle cx="92.4" cy="62.7" r="0.68" fill="#13bfac"/>
<circle cx="99.5" cy="79.4" r="0.68" fill="#0017ed"/>
<circle cx="133.2" cy="121.0" r="0.68" fill="#930000"/>
<circle cx="101.0" cy="112.7" r="0.68" fill="#ed2100"/>
<circle cx="132.9" cy="69.2" r="0.68" fill="#b80000"/>
<circle cx="127.0" cy="114.6" r="0.68" fill="#930000"/>
<circle cx="86.0" cy="122.1" r="0.68" fill="#00a5c9"/>
<circle cx="72.6" cy="97.1" r="0.68" fill="#0000a6"/>
<circle cx="103.4" cy="108.2" r="0.68" fill="#ed2100"/>
<circle cx="77.0" cy="72.6" r="0.68" fill="#85bf39"/>
<circle cx="129.1" cy="80.8" r="0.68" fill="#0017ed"/>
<circle cx="98.7" cy="101.9" r="0.68" fill="#de6600"/>
<circle cx="91.2" cy="61.9" r="0.68" fill="#13bfac"/>
<circle cx="122.7" cy="63.9" r="0.68" fill="#b80000"/>
<circle cx="97.2" cy="78.4" r="0.68" fill="#0017ed"/>
<circle cx="79.3" cy="126.0" r="0.68" fill="#930000"/>
<circle cx="132.3" cy="111.7" r="0.68" fill="#0056e2"/>
<circle cx="99.6" cy="117.8" r="0.68" fill="#ed2100"/>
<circle cx="107.1" cy="86.0" r="0.68" fill="#0017ed"/>
<circle cx="137.1" cy="96.8" r="0.68" fill="#0056e2"/>
<circle cx="91.6" cy="103.7" r="0.68" fill="#de6600"/>
<circle cx="76.9" cy="104.1" r="0.68" fill="#0000a6"/>
<circle cx="98.6" cy="108.1" r="0.68" fill="#ed2100"/>
<circle cx="73.8" cy="61.4" r="0.68" fill="#9cbf22"/>
<circle cx="117.6" cy="121.4" r="0.68" fill="#00b7c2"/>
<circle cx="113.0" cy="73.1" r="0.68" fill="#39bf85"/>
<circle cx="135.2" cy="68.2" r="0.68" fill="#b80000"/>
<circle cx="79.7" cy="84.9" r="0.68" fill="#e25600"/>
<circle cx="93.0" cy="73.3" r="0.68" fill="#13bfac"/>
<circle cx="131.7" cy="86.2" r="0.68" fill="#0017ed"/>
<circle cx="94.7" cy="99.2" r="0.68" fill="#de6600"/>
<circle cx="76.5" cy="121.9" r="0.68" fill="#930000"/>
<circle cx="115.6" cy="100.4" r="0.68" fill="#85bf39"/>
<circle cx="132.8" cy="89.4" r="0.68" fill="#0017ed"/>
<circle cx="104.9" cy="119.4" r="0.68" fill="#ed2100"/>
<circle cx="78.9" cy="116.2" r="0.68" fill="#930000"/>
<circle cx="119.2" cy="82.2" r="0.68" fill="#0017ed"/>
<circle cx="132.2" cy="120.8" r="0.68" fill="#930000"/>
<circle cx="108.8" cy="84.3" r="0.68" fill="#0017ed"/>
<circle cx="113.3" cy="86.9" r="0.68" fill="#c4b100"/>
<circle cx="130.9" cy="61.8" r="0.68" fill="#b80000"/>
<circle cx="136.4" cy="81.6" r="0.68" fill="#0017ed"/>
<circle cx="95.2" cy="106.8" r="0.68" fill="#de6600"/>
<circle cx="121.6" cy="85.5" r="0.68" fill="#c4b100"/>
<circle cx="134.1" cy="76.0" r="0.68" fill="#b80000"/>
<circle cx="89.7" cy="110.8" r="0.68" fill="#00a5c9"/>
<circle cx="132.8" cy="126.0" r="0.68" fill="#930000"/>
<circle cx="87.2" cy="89.9" r="0.68" fill="#00b1c4"/>
<circle cx="129.6" cy="79.2" r="0.68" fill="#0017ed"/>
<circle cx="134.7" cy="103.7" r="0.68" fill="#0056e2"/>
<circle cx="94.3" cy="98.1" r="0.68" fill="#de6600"/>
<circle cx="125.7" cy="118.7" r="0.68" fill="#930000"/>
<circle cx="85.3" cy="78.0" r="0.68" fill="#85bf39"/>
<circle cx="101.5" cy="116.4" r="0.68" fill="#ed2100"/>
<circle cx="110.6" cy="101.4" r="0.68" fill="#85bf39"/>
<circle cx="107.2" cy="114.9" r="0.68" fill="#ed2100"/>
<circle cx="104.3" cy="115.0" r="0.68" fill="#ed2100"/>
<circle cx="108.5" cy="115.2" r="0.68" fill="#ed2100"/>
<circle cx="134.2" cy="69.3" r="0.68" fill="#b80000"/>
<circle cx="133.8" cy="106.1" r="0.68" fill="#0056e2"/>
<circle cx="126.1" cy="115.4" r="0.68" fill="#930000"/>
<circle cx="85.9" cy="106.5" r="0.68" fill="#0000a6"/>
<circle cx="98.8" cy="117.6" r="0.68" fill="#ed2100"/>
<circle cx="135.0" cy="111.3" r="0.68" fill="#930000"/>
<circle cx="72.8" cy="75.5" r="0.68" fill="#85bf39"/>
<circle cx="134.8" cy="85.2" r="0.68" fill="#0017ed"/>
<circle cx="125.6" cy="114.8" r="0.68" fill="#930000"/>
<circle cx="83.4" cy="79.6" r="0.68" fill="#85bf39"/>
<circle cx="109.1" cy="123.7" r="0.68" fill="#00b7c2"/>
<circle cx="76.8" cy="98.1" r="0.68" fill="#0000a6"/>
<circle cx="111.9" cy="85.1" r="0.68" fill="#0017ed"/>
<circle cx="87.8" cy="100.3" r="0.68" fill="#0000a6"/>
<circle cx="123.5" cy="65.8" r="0.68" fill="#b80000"/>
<circle cx="87.6" cy="105.7" r="0.68" fill="#00a5c9"/>
<circle cx="136.4" cy="99.5" r="0.68" fill="#0056e2"/>
<circle cx="117.9" cy="81.4" r="0.68" fill="#0017ed"/>
<circle cx="131.0" cy="108.5" r="0.68" fill="#0056e2"/>
<circle cx="120.0" cy="100.2" r="0.68" fill="#0056e2"/>
<circle cx="124.3" cy="77.6" r="0.68" fill="#0017ed"/>
<circle cx="137.0" cy="106.1" r="0.68" fill="#0056e2"/>
<circle cx="134.0" cy="121.1" r="0.68" fill="#930000"/>
<circle cx="83.3" cy="100.1" r="0.68" fill="#0000a6"/>
<circle cx="100.9" cy="62.3" r="0.68" fill="#0004ed"/>
<circle cx="124.6" cy="125.0" r="0.68" fill="#930000"/>
<circle cx="92.5" cy="78.0" r="0.68" fill="#0017ed"/>
<circle cx="82.8" cy="71.0" r="0.68" fill="#13bfac"/>
<circle cx="118.3" cy="102.3" r="0.68" fill="#0056e2"/>
<rect x="72.5" y="61.2" width="65" height="65" fill="none" stroke="#333" stroke-width="0.7"/>
<text x="68.50" y="62.40" font-size="5.2" text-anchor="middle" font-weight="normal" font-style="normal" fill="#333" >1</text>
<text x="68.20" y="127.80" font-size="5.2" text-anchor="middle" font-weight="normal" font-style="normal" fill="#333" >0</text>
<text x="72.50" y="132.70" font-size="5.2" text-anchor="middle" font-weight="normal" font-style="normal" fill="#333" >0</text>
<text x="137.50" y="132.70" font-size="5.2" text-anchor="middle" font-weight="normal" font-style="normal" fill="#333" >1</text>
<text x="105.00" y="51.40" font-size="4.0" text-anchor="middle" font-weight="normal" font-style="normal" fill="#444" textLength="65" lengthAdjust="spacingAndGlyphs">Recursive Prime Factor Splitting</text>
<text x="104.70" y="58.20" font-size="6.6" text-anchor="middle" font-weight="normal" font-style="normal" fill="#222" textLength="68" lengthAdjust="spacingAndGlyphs">Voronoi Estimate (<tspan font-style="italic">K</tspan> = 32)</text>
<rect x="72.50" y="167.30" width="5.85" height="21.35" fill="#edf9f4" stroke="#a5e2c8" stroke-width="0.5" stroke-dasharray="1.5,1.2"/>
<rect x="78.35" y="167.30" width="8.32" height="21.35" fill="#f4e8e8" stroke="#c98c8c" stroke-width="0.5" stroke-dasharray="1.5,1.2"/>
<rect x="86.67" y="167.30" width="8.32" height="21.35" fill="#fbf1e8" stroke="#eebd8c" stroke-width="0.5" stroke-dasharray="1.5,1.2"/>
<rect x="94.99" y="167.30" width="9.75" height="21.35" fill="#e8f5fa" stroke="#8ccde9" stroke-width="0.5" stroke-dasharray="1.5,1.2"/>
<rect x="104.74" y="167.30" width="11.12" height="21.35" fill="#e8e8fc" stroke="#8c8cf4" stroke-width="0.5" stroke-dasharray="1.5,1.2"/>
<rect x="115.86" y="167.30" width="11.11" height="21.35" fill="#e8e8f9" stroke="#8c8ce3" stroke-width="0.5" stroke-dasharray="1.5,1.2"/>
<rect x="126.97" y="167.30" width="10.53" height="21.35" fill="#fbe8e8" stroke="#ec8c8c" stroke-width="0.5" stroke-dasharray="1.5,1.2"/>
<rect x="72.50" y="188.65" width="5.85" height="11.89" fill="#fce8e8" stroke="#f48c8c" stroke-width="0.5" stroke-dasharray="1.5,1.2"/>
<rect x="78.35" y="188.65" width="8.32" height="11.89" fill="#f6e8e8" stroke="#d28c8c" stroke-width="0.5" stroke-dasharray="1.5,1.2"/>
<rect x="86.67" y="188.65" width="8.32" height="11.89" fill="#fbf1e8" stroke="#eebd8c" stroke-width="0.5" stroke-dasharray="1.5,1.2"/>
<rect x="94.99" y="188.65" width="9.75" height="11.89" fill="#e8eefc" stroke="#8cabf4" stroke-width="0.5" stroke-dasharray="1.5,1.2"/>
<rect x="104.74" y="188.65" width="11.12" height="11.89" fill="#f7f9e9" stroke="#d9e294" stroke-width="0.5" stroke-dasharray="1.5,1.2"/>
<rect x="115.86" y="188.65" width="11.11" height="11.89" fill="#e8e8fc" stroke="#8c8cf4" stroke-width="0.5" stroke-dasharray="1.5,1.2"/>
<rect x="126.97" y="188.65" width="10.53" height="11.89" fill="#fce8e8" stroke="#f48c8c" stroke-width="0.5" stroke-dasharray="1.5,1.2"/>
<rect x="72.50" y="200.54" width="5.85" height="13.07" fill="#e8f7f9" stroke="#8cdbe4" stroke-width="0.5" stroke-dasharray="1.5,1.2"/>
<rect x="78.35" y="200.54" width="8.32" height="13.07" fill="#e8f5fa" stroke="#8ccde9" stroke-width="0.5" stroke-dasharray="1.5,1.2"/>
<rect x="86.67" y="200.54" width="8.32" height="13.07" fill="#e8e8f7" stroke="#8c8cdb" stroke-width="0.5" stroke-dasharray="1.5,1.2"/>
<rect x="94.99" y="200.54" width="9.75" height="13.07" fill="#faf5e8" stroke="#e9cd8c" stroke-width="0.5" stroke-dasharray="1.5,1.2"/>
<rect x="104.74" y="200.54" width="11.12" height="13.07" fill="#f4f9ed" stroke="#c8e2a5" stroke-width="0.5" stroke-dasharray="1.5,1.2"/>
<rect x="115.86" y="200.54" width="11.11" height="13.07" fill="#e8f7f9" stroke="#8cdbe4" stroke-width="0.5" stroke-dasharray="1.5,1.2"/>
<rect x="126.97" y="200.54" width="10.53" height="13.07" fill="#e8e8fc" stroke="#8c8cf4" stroke-width="0.5" stroke-dasharray="1.5,1.2"/>
<rect x="72.50" y="213.62" width="5.85" height="19.38" fill="#f6e8e8" stroke="#d68c8c" stroke-width="0.5" stroke-dasharray="1.5,1.2"/>
<rect x="78.35" y="213.62" width="8.32" height="19.38" fill="#fdeae8" stroke="#f6968c" stroke-width="0.5" stroke-dasharray="1.5,1.2"/>
<rect x="86.67" y="213.62" width="8.32" height="19.38" fill="#e8e8fc" stroke="#8c8cf4" stroke-width="0.5" stroke-dasharray="1.5,1.2"/>
<rect x="94.99" y="213.62" width="9.75" height="19.38" fill="#f7f9e9" stroke="#d9e294" stroke-width="0.5" stroke-dasharray="1.5,1.2"/>
<rect x="104.74" y="213.62" width="11.12" height="19.38" fill="#e8f5fa" stroke="#8ccde9" stroke-width="0.5" stroke-dasharray="1.5,1.2"/>
<rect x="115.86" y="213.62" width="11.11" height="19.38" fill="#e8f1fb" stroke="#8cbdee" stroke-width="0.5" stroke-dasharray="1.5,1.2"/>
<rect x="126.97" y="213.62" width="10.53" height="19.38" fill="#f0f9f0" stroke="#b7e2b7" stroke-width="0.5" stroke-dasharray="1.5,1.2"/>
<circle cx="88.8" cy="229.5" r="0.68" fill="#0000e8"/>
<circle cx="84.8" cy="179.1" r="0.68" fill="#890000"/>
<circle cx="95.2" cy="182.4" r="0.68" fill="#0091d0"/>
<circle cx="116.1" cy="174.9" r="0.68" fill="#0000c2"/>
<circle cx="130.8" cy="223.7" r="0.68" fill="#5fbf5f"/>
<circle cx="72.7" cy="202.9" r="0.68" fill="#00b1c4"/>
<circle cx="79.4" cy="184.2" r="0.68" fill="#890000"/>
<circle cx="99.6" cy="197.1" r="0.68" fill="#0045e7"/>
<circle cx="102.9" cy="228.2" r="0.68" fill="#acbf13"/>
<circle cx="89.3" cy="179.6" r="0.68" fill="#db6d00"/>
<circle cx="116.1" cy="229.5" r="0.68" fill="#006ddb"/>
<circle cx="132.5" cy="225.1" r="0.68" fill="#5fbf5f"/>
<circle cx="76.7" cy="228.8" r="0.68" fill="#a60000"/>
<circle cx="114.7" cy="224.6" r="0.68" fill="#0091d0"/>
<circle cx="99.0" cy="181.7" r="0.68" fill="#0091d0"/>
<circle cx="124.0" cy="210.8" r="0.68" fill="#00b1c4"/>
<circle cx="123.1" cy="180.5" r="0.68" fill="#0000c2"/>
<circle cx="81.2" cy="217.5" r="0.68" fill="#ed1700"/>
<circle cx="73.8" cy="229.4" r="0.68" fill="#a60000"/>
<circle cx="81.3" cy="206.7" r="0.68" fill="#0091d0"/>
<circle cx="99.7" cy="188.6" r="0.68" fill="#0091d0"/>
<circle cx="83.6" cy="218.6" r="0.68" fill="#ed1700"/>
<circle cx="131.9" cy="215.2" r="0.68" fill="#5fbf5f"/>
<circle cx="111.5" cy="214.0" r="0.68" fill="#0091d0"/>
<circle cx="107.3" cy="204.0" r="0.68" fill="#85bf39"/>
<circle cx="131.4" cy="185.9" r="0.68" fill="#d50000"/>
<circle cx="86.9" cy="229.5" r="0.68" fill="#0000e8"/>
<circle cx="133.8" cy="198.6" r="0.68" fill="#e80000"/>
<circle cx="124.6" cy="216.1" r="0.68" fill="#006ddb"/>
<circle cx="134.2" cy="172.7" r="0.68" fill="#d50000"/>
<circle cx="130.9" cy="200.2" r="0.68" fill="#e80000"/>
<circle cx="101.7" cy="212.4" r="0.68" fill="#d09100"/>
<circle cx="112.6" cy="196.0" r="0.68" fill="#acbf13"/>
<circle cx="91.4" cy="227.7" r="0.68" fill="#0000e8"/>
<circle cx="125.7" cy="174.0" r="0.68" fill="#0000c2"/>
<circle cx="98.8" cy="217.5" r="0.68" fill="#acbf13"/>
<circle cx="129.6" cy="230.5" r="0.68" fill="#5fbf5f"/>
<circle cx="88.1" cy="225.9" r="0.68" fill="#0000e8"/>
<circle cx="117.7" cy="171.8" r="0.68" fill="#0000c2"/>
<circle cx="86.2" cy="179.7" r="0.68" fill="#890000"/>
<circle cx="77.5" cy="212.5" r="0.68" fill="#00b1c4"/>
<circle cx="92.7" cy="212.7" r="0.68" fill="#0000af"/>
<circle cx="77.8" cy="224.5" r="0.68" fill="#a60000"/>
<circle cx="117.7" cy="218.7" r="0.68" fill="#006ddb"/>
<circle cx="111.9" cy="197.4" r="0.68" fill="#acbf13"/>
<circle cx="85.0" cy="229.2" r="0.68" fill="#ed1700"/>
<circle cx="82.0" cy="201.6" r="0.68" fill="#0091d0"/>
<circle cx="80.4" cy="174.4" r="0.68" fill="#890000"/>
<circle cx="117.8" cy="225.7" r="0.68" fill="#006ddb"/>
<circle cx="102.5" cy="219.5" r="0.68" fill="#acbf13"/>
<circle cx="128.4" cy="202.5" r="0.68" fill="#0000e8"/>
<circle cx="122.9" cy="186.5" r="0.68" fill="#0000c2"/>
<circle cx="82.3" cy="179.7" r="0.68" fill="#890000"/>
<circle cx="73.0" cy="172.0" r="0.68" fill="#39bf85"/>
<circle cx="121.3" cy="226.6" r="0.68" fill="#006ddb"/>
<circle cx="76.2" cy="214.7" r="0.68" fill="#a60000"/>
<circle cx="123.0" cy="212.1" r="0.68" fill="#00b1c4"/>
<circle cx="104.9" cy="199.2" r="0.68" fill="#acbf13"/>
<circle cx="117.7" cy="183.4" r="0.68" fill="#0000c2"/>
<circle cx="121.4" cy="179.9" r="0.68" fill="#0000c2"/>
<circle cx="74.8" cy="228.6" r="0.68" fill="#a60000"/>
<circle cx="78.4" cy="180.2" r="0.68" fill="#890000"/>
<circle cx="76.1" cy="168.0" r="0.68" fill="#39bf85"/>
<circle cx="80.6" cy="227.8" r="0.68" fill="#ed1700"/>
<circle cx="117.7" cy="193.9" r="0.68" fill="#0000e8"/>
<circle cx="72.9" cy="221.7" r="0.68" fill="#a60000"/>
<circle cx="104.0" cy="223.4" r="0.68" fill="#acbf13"/>
<circle cx="105.3" cy="172.4" r="0.68" fill="#0000e8"/>
<circle cx="77.3" cy="219.2" r="0.68" fill="#a60000"/>
<circle cx="87.0" cy="177.2" r="0.68" fill="#db6d00"/>
<circle cx="99.1" cy="184.5" r="0.68" fill="#0091d0"/>
<circle cx="90.5" cy="219.4" r="0.68" fill="#0000e8"/>
<circle cx="103.0" cy="232.7" r="0.68" fill="#acbf13"/>
<circle cx="78.9" cy="186.6" r="0.68" fill="#890000"/>
<circle cx="129.8" cy="195.9" r="0.68" fill="#e80000"/>
<circle cx="122.5" cy="195.8" r="0.68" fill="#0000e8"/>
<circle cx="98.9" cy="225.5" r="0.68" fill="#acbf13"/>
<circle cx="92.9" cy="203.2" r="0.68" fill="#0000af"/>
<circle cx="109.2" cy="170.1" r="0.68" fill="#0000e8"/>
<circle cx="78.9" cy="182.8" r="0.68" fill="#890000"/>
<circle cx="72.7" cy="212.2" r="0.68" fill="#00b1c4"/>
<circle cx="110.1" cy="189.8" r="0.68" fill="#acbf13"/>
<circle cx="99.7" cy="170.0" r="0.68" fill="#0091d0"/>
<circle cx="98.6" cy="222.6" r="0.68" fill="#acbf13"/>
<circle cx="75.0" cy="210.2" r="0.68" fill="#00b1c4"/>
<circle cx="117.4" cy="181.7" r="0.68" fill="#0000c2"/>
<circle cx="91.7" cy="179.1" r="0.68" fill="#db6d00"/>
<circle cx="109.3" cy="191.6" r="0.68" fill="#acbf13"/>
<circle cx="81.0" cy="186.3" r="0.68" fill="#890000"/>
<circle cx="88.4" cy="232.1" r="0.68" fill="#0000e8"/>
<circle cx="112.2" cy="198.7" r="0.68" fill="#acbf13"/>
<circle cx="104.3" cy="205.1" r="0.68" fill="#d09100"/>
<circle cx="136.3" cy="192.6" r="0.68" fill="#e80000"/>
<circle cx="76.2" cy="179.4" r="0.68" fill="#39bf85"/>
<circle cx="73.0" cy="180.6" r="0.68" fill="#39bf85"/>
<circle cx="111.7" cy="184.2" r="0.68" fill="#0000e8"/>
<circle cx="126.9" cy="229.8" r="0.68" fill="#006ddb"/>
<circle cx="80.5" cy="220.3" r="0.68" fill="#ed1700"/>
<circle cx="115.5" cy="232.5" r="0.68" fill="#0091d0"/>
<circle cx="84.8" cy="217.6" r="0.68" fill="#ed1700"/>
<circle cx="94.1" cy="180.4" r="0.68" fill="#db6d00"/>
<circle cx="89.4" cy="228.9" r="0.68" fill="#0000e8"/>
<circle cx="103.6" cy="195.9" r="0.68" fill="#0045e7"/>
<circle cx="129.2" cy="223.6" r="0.68" fill="#5fbf5f"/>
<circle cx="130.8" cy="168.8" r="0.68" fill="#d50000"/>
<circle cx="137.2" cy="212.4" r="0.68" fill="#0000e8"/>
<circle cx="131.2" cy="220.1" r="0.68" fill="#5fbf5f"/>
<circle cx="130.9" cy="225.5" r="0.68" fill="#5fbf5f"/>
<circle cx="114.6" cy="175.7" r="0.68" fill="#0000e8"/>
<circle cx="116.7" cy="169.6" r="0.68" fill="#0000c2"/>
<circle cx="95.3" cy="185.9" r="0.68" fill="#0091d0"/>
<circle cx="91.7" cy="220.3" r="0.68" fill="#0000e8"/>
<circle cx="129.8" cy="226.5" r="0.68" fill="#5fbf5f"/>
<circle cx="112.8" cy="218.0" r="0.68" fill="#0091d0"/>
<circle cx="80.7" cy="190.1" r="0.68" fill="#9c0000"/>
<circle cx="123.6" cy="197.2" r="0.68" fill="#0000e8"/>
<circle cx="104.6" cy="218.9" r="0.68" fill="#acbf13"/>
<circle cx="87.0" cy="224.2" r="0.68" fill="#0000e8"/>
<circle cx="120.6" cy="172.3" r="0.68" fill="#0000c2"/>
<circle cx="100.1" cy="227.5" r="0.68" fill="#acbf13"/>
<circle cx="90.1" cy="168.1" r="0.68" fill="#db6d00"/>
<circle cx="83.6" cy="203.0" r="0.68" fill="#0091d0"/>
<circle cx="79.1" cy="170.8" r="0.68" fill="#890000"/>
<circle cx="81.4" cy="221.5" r="0.68" fill="#ed1700"/>
<circle cx="135.4" cy="176.2" r="0.68" fill="#d50000"/>
<circle cx="108.8" cy="212.0" r="0.68" fill="#85bf39"/>
<circle cx="77.1" cy="225.1" r="0.68" fill="#a60000"/>
<circle cx="121.1" cy="212.0" r="0.68" fill="#00b1c4"/>
<circle cx="103.7" cy="219.2" r="0.68" fill="#acbf13"/>
<circle cx="126.1" cy="186.1" r="0.68" fill="#0000c2"/>
<circle cx="87.9" cy="231.9" r="0.68" fill="#0000e8"/>
<circle cx="104.0" cy="194.4" r="0.68" fill="#0045e7"/>
<circle cx="133.3" cy="214.7" r="0.68" fill="#5fbf5f"/>
<circle cx="121.0" cy="220.1" r="0.68" fill="#006ddb"/>
<circle cx="126.8" cy="212.2" r="0.68" fill="#00b1c4"/>
<circle cx="137.2" cy="219.3" r="0.68" fill="#5fbf5f"/>
<circle cx="126.3" cy="221.9" r="0.68" fill="#006ddb"/>
<circle cx="75.5" cy="232.3" r="0.68" fill="#a60000"/>
<circle cx="122.2" cy="172.9" r="0.68" fill="#0000c2"/>
<circle cx="119.4" cy="213.9" r="0.68" fill="#006ddb"/>
<circle cx="104.9" cy="187.2" r="0.68" fill="#0000e8"/>
<circle cx="107.5" cy="178.0" r="0.68" fill="#0000e8"/>
<circle cx="98.1" cy="208.3" r="0.68" fill="#d09100"/>
<circle cx="119.0" cy="203.0" r="0.68" fill="#00b1c4"/>
<circle cx="130.3" cy="226.0" r="0.68" fill="#5fbf5f"/>
<circle cx="131.6" cy="206.2" r="0.68" fill="#0000e8"/>
<circle cx="88.7" cy="170.3" r="0.68" fill="#db6d00"/>
<circle cx="110.2" cy="201.2" r="0.68" fill="#85bf39"/>
<circle cx="72.6" cy="176.7" r="0.68" fill="#39bf85"/>
<circle cx="135.4" cy="216.7" r="0.68" fill="#5fbf5f"/>
<circle cx="131.3" cy="188.6" r="0.68" fill="#d50000"/>
<circle cx="100.6" cy="205.7" r="0.68" fill="#d09100"/>
<circle cx="98.6" cy="169.4" r="0.68" fill="#0091d0"/>
<circle cx="103.0" cy="211.1" r="0.68" fill="#d09100"/>
<circle cx="95.8" cy="228.0" r="0.68" fill="#acbf13"/>
<circle cx="133.1" cy="169.2" r="0.68" fill="#d50000"/>
<circle cx="99.5" cy="207.0" r="0.68" fill="#d09100"/>
<circle cx="99.0" cy="231.6" r="0.68" fill="#acbf13"/>
<circle cx="92.1" cy="226.3" r="0.68" fill="#0000e8"/>
<circle cx="94.9" cy="225.6" r="0.68" fill="#0000e8"/>
<circle cx="79.1" cy="223.2" r="0.68" fill="#ed1700"/>
<circle cx="127.2" cy="204.3" r="0.68" fill="#0000e8"/>
<circle cx="92.3" cy="192.9" r="0.68" fill="#db6d00"/>
<circle cx="80.8" cy="185.7" r="0.68" fill="#890000"/>
<circle cx="106.0" cy="201.6" r="0.68" fill="#85bf39"/>
<circle cx="103.1" cy="224.6" r="0.68" fill="#acbf13"/>
<circle cx="86.4" cy="218.8" r="0.68" fill="#ed1700"/>
<circle cx="128.6" cy="190.6" r="0.68" fill="#e80000"/>
<circle cx="76.2" cy="221.2" r="0.68" fill="#a60000"/>
<circle cx="119.9" cy="199.1" r="0.68" fill="#0000e8"/>
<circle cx="132.7" cy="184.4" r="0.68" fill="#d50000"/>
<circle cx="119.7" cy="209.9" r="0.68" fill="#00b1c4"/>
<circle cx="97.7" cy="218.5" r="0.68" fill="#acbf13"/>
<circle cx="79.4" cy="187.6" r="0.68" fill="#890000"/>
<circle cx="104.6" cy="230.7" r="0.68" fill="#acbf13"/>
<circle cx="122.1" cy="171.0" r="0.68" fill="#0000c2"/>
<circle cx="113.2" cy="176.3" r="0.68" fill="#0000e8"/>
<circle cx="97.9" cy="230.6" r="0.68" fill="#acbf13"/>
<circle cx="90.3" cy="174.1" r="0.68" fill="#db6d00"/>
<circle cx="132.8" cy="181.3" r="0.68" fill="#d50000"/>
<circle cx="110.8" cy="184.5" r="0.68" fill="#0000e8"/>
<circle cx="133.9" cy="216.7" r="0.68" fill="#5fbf5f"/>
<circle cx="124.5" cy="174.0" r="0.68" fill="#0000c2"/>
<circle cx="96.0" cy="223.5" r="0.68" fill="#acbf13"/>
<circle cx="91.6" cy="174.4" r="0.68" fill="#db6d00"/>
<circle cx="128.1" cy="185.0" r="0.68" fill="#d50000"/>
<circle cx="110.9" cy="179.8" r="0.68" fill="#0000e8"/>
<circle cx="80.4" cy="199.7" r="0.68" fill="#9c0000"/>
<circle cx="114.0" cy="217.9" r="0.68" fill="#0091d0"/>
<circle cx="133.1" cy="201.5" r="0.68" fill="#0000e8"/>
<circle cx="117.2" cy="187.8" r="0.68" fill="#0000c2"/>
<circle cx="130.5" cy="189.9" r="0.68" fill="#e80000"/>
<circle cx="74.9" cy="181.1" r="0.68" fill="#39bf85"/>
<circle cx="81.9" cy="209.3" r="0.68" fill="#0091d0"/>
<circle cx="82.8" cy="197.2" r="0.68" fill="#9c0000"/>
<circle cx="93.9" cy="219.5" r="0.68" fill="#0000e8"/>
<circle cx="91.4" cy="182.9" r="0.68" fill="#db6d00"/>
<circle cx="91.2" cy="179.8" r="0.68" fill="#db6d00"/>
<circle cx="115.1" cy="201.6" r="0.68" fill="#85bf39"/>
<circle cx="117.7" cy="175.0" r="0.68" fill="#0000c2"/>
<circle cx="124.6" cy="203.0" r="0.68" fill="#00b1c4"/>
<circle cx="135.8" cy="232.2" r="0.68" fill="#5fbf5f"/>
<circle cx="73.5" cy="206.8" r="0.68" fill="#00b1c4"/>
<circle cx="89.0" cy="212.9" r="0.68" fill="#0000af"/>
<circle cx="81.4" cy="204.6" r="0.68" fill="#0091d0"/>
<circle cx="122.0" cy="204.7" r="0.68" fill="#00b1c4"/>
<circle cx="92.1" cy="216.2" r="0.68" fill="#0000e8"/>
<circle cx="133.2" cy="185.4" r="0.68" fill="#d50000"/>
<circle cx="79.6" cy="193.2" r="0.68" fill="#9c0000"/>
<circle cx="99.1" cy="193.1" r="0.68" fill="#0045e7"/>
<circle cx="134.2" cy="183.1" r="0.68" fill="#d50000"/>
<circle cx="76.2" cy="168.3" r="0.68" fill="#39bf85"/>
<circle cx="103.8" cy="185.0" r="0.68" fill="#0091d0"/>
<circle cx="104.3" cy="212.8" r="0.68" fill="#d09100"/>
<circle cx="93.4" cy="175.8" r="0.68" fill="#db6d00"/>
<circle cx="131.8" cy="179.5" r="0.68" fill="#d50000"/>
<circle cx="92.7" cy="168.8" r="0.68" fill="#db6d00"/>
<circle cx="112.2" cy="183.0" r="0.68" fill="#0000e8"/>
<circle cx="121.1" cy="195.5" r="0.68" fill="#0000e8"/>
<circle cx="126.3" cy="189.3" r="0.68" fill="#0000e8"/>
<circle cx="123.2" cy="172.0" r="0.68" fill="#0000c2"/>
<circle cx="95.5" cy="188.5" r="0.68" fill="#0091d0"/>
<circle cx="99.0" cy="181.6" r="0.68" fill="#0091d0"/>
<circle cx="91.5" cy="231.2" r="0.68" fill="#0000e8"/>
<circle cx="77.8" cy="199.9" r="0.68" fill="#e80000"/>
<circle cx="131.3" cy="197.7" r="0.68" fill="#e80000"/>
<circle cx="101.5" cy="201.6" r="0.68" fill="#d09100"/>
<circle cx="81.2" cy="180.4" r="0.68" fill="#890000"/>
<circle cx="118.1" cy="206.6" r="0.68" fill="#00b1c4"/>
<circle cx="87.4" cy="198.9" r="0.68" fill="#db6d00"/>
<circle cx="136.6" cy="180.7" r="0.68" fill="#d50000"/>
<circle cx="124.5" cy="228.9" r="0.68" fill="#006ddb"/>
<circle cx="107.7" cy="177.9" r="0.68" fill="#0000e8"/>
<circle cx="103.2" cy="218.8" r="0.68" fill="#acbf13"/>
<circle cx="115.4" cy="222.6" r="0.68" fill="#0091d0"/>
<circle cx="105.2" cy="167.7" r="0.68" fill="#0000e8"/>
<circle cx="74.6" cy="219.7" r="0.68" fill="#a60000"/>
<circle cx="107.4" cy="227.1" r="0.68" fill="#0091d0"/>
<circle cx="127.5" cy="209.5" r="0.68" fill="#0000e8"/>
<circle cx="111.1" cy="218.2" r="0.68" fill="#0091d0"/>
<circle cx="83.6" cy="191.6" r="0.68" fill="#9c0000"/>
<circle cx="114.2" cy="201.6" r="0.68" fill="#85bf39"/>
<circle cx="83.3" cy="188.6" r="0.68" fill="#890000"/>
<circle cx="81.4" cy="222.2" r="0.68" fill="#ed1700"/>
<circle cx="84.3" cy="209.9" r="0.68" fill="#0091d0"/>
<circle cx="83.5" cy="175.7" r="0.68" fill="#890000"/>
<circle cx="75.2" cy="191.0" r="0.68" fill="#e80000"/>
<circle cx="126.9" cy="227.0" r="0.68" fill="#006ddb"/>
<circle cx="107.5" cy="224.1" r="0.68" fill="#0091d0"/>
<circle cx="115.0" cy="230.2" r="0.68" fill="#0091d0"/>
<circle cx="86.1" cy="184.1" r="0.68" fill="#890000"/>
<circle cx="90.0" cy="221.1" r="0.68" fill="#0000e8"/>
<circle cx="133.3" cy="218.2" r="0.68" fill="#5fbf5f"/>
<circle cx="135.0" cy="167.8" r="0.68" fill="#d50000"/>
<circle cx="83.0" cy="177.3" r="0.68" fill="#890000"/>
<circle cx="93.9" cy="191.5" r="0.68" fill="#db6d00"/>
<circle cx="98.6" cy="177.6" r="0.68" fill="#0091d0"/>
<circle cx="106.6" cy="210.5" r="0.68" fill="#85bf39"/>
<circle cx="125.4" cy="177.2" r="0.68" fill="#0000c2"/>
<circle cx="136.5" cy="184.3" r="0.68" fill="#d50000"/>
<circle cx="99.7" cy="226.5" r="0.68" fill="#acbf13"/>
<circle cx="82.2" cy="195.1" r="0.68" fill="#9c0000"/>
<circle cx="95.4" cy="173.1" r="0.68" fill="#0091d0"/>
<circle cx="75.4" cy="180.9" r="0.68" fill="#39bf85"/>
<circle cx="105.9" cy="170.3" r="0.68" fill="#0000e8"/>
<circle cx="85.5" cy="229.3" r="0.68" fill="#ed1700"/>
<circle cx="104.0" cy="185.4" r="0.68" fill="#0091d0"/>
<circle cx="136.2" cy="214.3" r="0.68" fill="#5fbf5f"/>
<circle cx="95.0" cy="222.8" r="0.68" fill="#0000e8"/>
<circle cx="74.9" cy="188.2" r="0.68" fill="#39bf85"/>
<circle cx="134.4" cy="201.9" r="0.68" fill="#0000e8"/>
<circle cx="78.7" cy="173.1" r="0.68" fill="#890000"/>
<circle cx="133.7" cy="192.3" r="0.68" fill="#e80000"/>
<circle cx="130.2" cy="184.0" r="0.68" fill="#d50000"/>
<circle cx="110.5" cy="182.9" r="0.68" fill="#0000e8"/>
<circle cx="127.7" cy="219.5" r="0.68" fill="#5fbf5f"/>
<circle cx="135.7" cy="199.6" r="0.68" fill="#e80000"/>
<circle cx="122.1" cy="173.4" r="0.68" fill="#0000c2"/>
<circle cx="112.3" cy="216.1" r="0.68" fill="#0091d0"/>
<circle cx="121.0" cy="185.5" r="0.68" fill="#0000c2"/>
<circle cx="73.6" cy="207.8" r="0.68" fill="#00b1c4"/>
<circle cx="121.8" cy="202.6" r="0.68" fill="#00b1c4"/>
<circle cx="84.1" cy="193.9" r="0.68" fill="#9c0000"/>
<circle cx="87.1" cy="225.0" r="0.68" fill="#0000e8"/>
<circle cx="116.7" cy="207.4" r="0.68" fill="#00b1c4"/>
<circle cx="119.3" cy="231.9" r="0.68" fill="#006ddb"/>
<circle cx="135.0" cy="168.2" r="0.68" fill="#d50000"/>
<circle cx="75.5" cy="232.7" r="0.68" fill="#a60000"/>
<circle cx="96.7" cy="215.6" r="0.68" fill="#acbf13"/>
<circle cx="97.1" cy="219.6" r="0.68" fill="#acbf13"/>
<circle cx="121.3" cy="186.7" r="0.68" fill="#0000c2"/>
<circle cx="119.7" cy="168.9" r="0.68" fill="#0000c2"/>
<circle cx="75.5" cy="201.0" r="0.68" fill="#00b1c4"/>
<circle cx="132.2" cy="232.7" r="0.68" fill="#5fbf5f"/>
<circle cx="75.6" cy="188.8" r="0.68" fill="#e80000"/>
<circle cx="81.1" cy="225.5" r="0.68" fill="#ed1700"/>
<circle cx="98.3" cy="188.1" r="0.68" fill="#0091d0"/>
<circle cx="100.9" cy="192.6" r="0.68" fill="#0045e7"/>
<circle cx="106.6" cy="172.7" r="0.68" fill="#0000e8"/>
<circle cx="78.7" cy="184.8" r="0.68" fill="#890000"/>
<circle cx="80.4" cy="230.9" r="0.68" fill="#ed1700"/>
<circle cx="82.5" cy="225.8" r="0.68" fill="#ed1700"/>
<circle cx="92.1" cy="232.5" r="0.68" fill="#0000e8"/>
<circle cx="82.1" cy="205.2" r="0.68" fill="#0091d0"/>
<circle cx="118.2" cy="169.1" r="0.68" fill="#0000c2"/>
<circle cx="108.2" cy="200.0" r="0.68" fill="#acbf13"/>
<circle cx="124.8" cy="191.4" r="0.68" fill="#0000e8"/>
<circle cx="104.6" cy="169.0" r="0.68" fill="#0091d0"/>
<circle cx="117.5" cy="230.8" r="0.68" fill="#006ddb"/>
<circle cx="123.2" cy="219.8" r="0.68" fill="#006ddb"/>
<circle cx="121.5" cy="182.5" r="0.68" fill="#0000c2"/>
<circle cx="133.7" cy="172.7" r="0.68" fill="#d50000"/>
<circle cx="103.3" cy="221.3" r="0.68" fill="#acbf13"/>
<circle cx="120.0" cy="183.3" r="0.68" fill="#0000c2"/>
<circle cx="91.6" cy="202.8" r="0.68" fill="#0000af"/>
<circle cx="97.3" cy="176.8" r="0.68" fill="#0091d0"/>
<circle cx="90.4" cy="216.1" r="0.68" fill="#0000e8"/>
<circle cx="102.2" cy="200.8" r="0.68" fill="#d09100"/>
<circle cx="80.3" cy="168.9" r="0.68" fill="#890000"/>
<circle cx="131.6" cy="222.8" r="0.68" fill="#5fbf5f"/>
<circle cx="104.5" cy="210.2" r="0.68" fill="#d09100"/>
<circle cx="116.2" cy="196.8" r="0.68" fill="#0000e8"/>
<circle cx="79.0" cy="168.8" r="0.68" fill="#890000"/>
<circle cx="120.9" cy="221.2" r="0.68" fill="#006ddb"/>
<circle cx="76.8" cy="220.7" r="0.68" fill="#a60000"/>
<circle cx="73.7" cy="225.1" r="0.68" fill="#a60000"/>
<circle cx="105.2" cy="199.9" r="0.68" fill="#acbf13"/>
<circle cx="137.2" cy="215.9" r="0.68" fill="#5fbf5f"/>
<circle cx="106.9" cy="223.1" r="0.68" fill="#0091d0"/>
<circle cx="101.7" cy="185.9" r="0.68" fill="#0091d0"/>
<circle cx="124.7" cy="221.2" r="0.68" fill="#006ddb"/>
<circle cx="112.5" cy="185.3" r="0.68" fill="#0000e8"/>
<circle cx="136.5" cy="220.6" r="0.68" fill="#5fbf5f"/>
<circle cx="83.5" cy="210.1" r="0.68" fill="#0091d0"/>
<circle cx="110.3" cy="170.2" r="0.68" fill="#0000e8"/>
<circle cx="116.6" cy="172.8" r="0.68" fill="#0000c2"/>
<circle cx="116.4" cy="209.3" r="0.68" fill="#00b1c4"/>
<circle cx="129.9" cy="186.3" r="0.68" fill="#d50000"/>
<circle cx="110.0" cy="215.3" r="0.68" fill="#0091d0"/>
<circle cx="75.6" cy="180.2" r="0.68" fill="#39bf85"/>
<circle cx="111.6" cy="223.8" r="0.68" fill="#0091d0"/>
<circle cx="100.2" cy="230.1" r="0.68" fill="#acbf13"/>
<circle cx="137.2" cy="193.2" r="0.68" fill="#e80000"/>
<circle cx="96.3" cy="210.3" r="0.68" fill="#d09100"/>
<circle cx="114.8" cy="227.3" r="0.68" fill="#0091d0"/>
<circle cx="85.5" cy="227.9" r="0.68" fill="#ed1700"/>
<circle cx="103.3" cy="186.9" r="0.68" fill="#0091d0"/>
<circle cx="97.7" cy="181.4" r="0.68" fill="#0091d0"/>
<circle cx="91.6" cy="217.6" r="0.68" fill="#0000e8"/>
<circle cx="95.9" cy="225.7" r="0.68" fill="#acbf13"/>
<circle cx="115.9" cy="193.8" r="0.68" fill="#acbf13"/>
<circle cx="98.5" cy="205.6" r="0.68" fill="#d09100"/>
<circle cx="111.8" cy="187.5" r="0.68" fill="#0000e8"/>
<circle cx="73.9" cy="204.6" r="0.68" fill="#00b1c4"/>
<circle cx="93.5" cy="218.3" r="0.68" fill="#0000e8"/>
<circle cx="130.2" cy="190.0" r="0.68" fill="#e80000"/>
<circle cx="95.8" cy="232.1" r="0.68" fill="#acbf13"/>
<circle cx="123.8" cy="218.8" r="0.68" fill="#006ddb"/>
<circle cx="88.2" cy="228.0" r="0.68" fill="#0000e8"/>
<circle cx="110.9" cy="198.1" r="0.68" fill="#acbf13"/>
<circle cx="88.3" cy="213.1" r="0.68" fill="#0000af"/>
<circle cx="124.0" cy="194.5" r="0.68" fill="#0000e8"/>
<circle cx="122.1" cy="212.9" r="0.68" fill="#00b1c4"/>
<circle cx="90.6" cy="212.2" r="0.68" fill="#0000af"/>
<circle cx="79.9" cy="200.2" r="0.68" fill="#9c0000"/>
<circle cx="105.8" cy="216.2" r="0.68" fill="#0091d0"/>
<circle cx="121.8" cy="205.2" r="0.68" fill="#00b1c4"/>
<circle cx="73.6" cy="175.8" r="0.68" fill="#39bf85"/>
<circle cx="112.8" cy="224.4" r="0.68" fill="#0091d0"/>
<circle cx="76.5" cy="219.8" r="0.68" fill="#a60000"/>
<circle cx="105.2" cy="211.7" r="0.68" fill="#85bf39"/>
<circle cx="74.2" cy="193.8" r="0.68" fill="#e80000"/>
<circle cx="133.0" cy="176.7" r="0.68" fill="#d50000"/>
<circle cx="86.0" cy="193.1" r="0.68" fill="#9c0000"/>
<circle cx="103.8" cy="170.2" r="0.68" fill="#0091d0"/>
<circle cx="77.5" cy="206.5" r="0.68" fill="#00b1c4"/>
<circle cx="72.8" cy="183.1" r="0.68" fill="#39bf85"/>
<circle cx="89.8" cy="183.4" r="0.68" fill="#db6d00"/>
<circle cx="132.6" cy="181.1" r="0.68" fill="#d50000"/>
<circle cx="114.8" cy="179.8" r="0.68" fill="#0000e8"/>
<circle cx="132.5" cy="216.0" r="0.68" fill="#5fbf5f"/>
<circle cx="86.0" cy="204.9" r="0.68" fill="#0091d0"/>
<circle cx="108.6" cy="167.7" r="0.68" fill="#0000e8"/>
<circle cx="128.8" cy="184.0" r="0.68" fill="#d50000"/>
<circle cx="117.9" cy="173.4" r="0.68" fill="#0000c2"/>
<circle cx="102.7" cy="191.8" r="0.68" fill="#0045e7"/>
<circle cx="118.9" cy="185.4" r="0.68" fill="#0000c2"/>
<circle cx="79.3" cy="184.6" r="0.68" fill="#890000"/>
<circle cx="76.1" cy="232.3" r="0.68" fill="#a60000"/>
<circle cx="94.8" cy="225.8" r="0.68" fill="#0000e8"/>
<circle cx="105.3" cy="228.6" r="0.68" fill="#0091d0"/>
<circle cx="104.1" cy="179.1" r="0.68" fill="#0091d0"/>
<circle cx="88.2" cy="194.5" r="0.68" fill="#db6d00"/>
<circle cx="80.0" cy="210.1" r="0.68" fill="#0091d0"/>
<circle cx="76.7" cy="198.4" r="0.68" fill="#e80000"/>
<circle cx="107.9" cy="230.4" r="0.68" fill="#0091d0"/>
<circle cx="99.9" cy="225.4" r="0.68" fill="#acbf13"/>
<circle cx="105.0" cy="207.9" r="0.68" fill="#85bf39"/>
<circle cx="127.2" cy="202.8" r="0.68" fill="#0000e8"/>
<circle cx="135.0" cy="225.6" r="0.68" fill="#5fbf5f"/>
<circle cx="97.9" cy="215.7" r="0.68" fill="#acbf13"/>
<circle cx="83.0" cy="182.9" r="0.68" fill="#890000"/>
<circle cx="129.5" cy="186.2" r="0.68" fill="#d50000"/>
<circle cx="133.0" cy="178.3" r="0.68" fill="#d50000"/>
<circle cx="103.7" cy="179.5" r="0.68" fill="#0091d0"/>
<circle cx="119.8" cy="211.4" r="0.68" fill="#00b1c4"/>
<circle cx="92.5" cy="178.3" r="0.68" fill="#db6d00"/>
<circle cx="133.7" cy="211.4" r="0.68" fill="#0000e8"/>
<circle cx="111.7" cy="213.8" r="0.68" fill="#0091d0"/>
<circle cx="73.1" cy="174.1" r="0.68" fill="#39bf85"/>
<circle cx="127.9" cy="190.1" r="0.68" fill="#e80000"/>
<circle cx="121.1" cy="226.1" r="0.68" fill="#006ddb"/>
<circle cx="133.9" cy="232.2" r="0.68" fill="#5fbf5f"/>
<circle cx="130.0" cy="186.2" r="0.68" fill="#d50000"/>
<circle cx="123.2" cy="215.0" r="0.68" fill="#006ddb"/>
<circle cx="99.3" cy="221.8" r="0.68" fill="#acbf13"/>
<circle cx="100.5" cy="178.3" r="0.68" fill="#0091d0"/>
<circle cx="110.7" cy="175.8" r="0.68" fill="#0000e8"/>
<circle cx="133.8" cy="173.6" r="0.68" fill="#d50000"/>
<circle cx="92.0" cy="192.2" r="0.68" fill="#db6d00"/>
<circle cx="79.9" cy="193.9" r="0.68" fill="#9c0000"/>
<circle cx="102.1" cy="168.7" r="0.68" fill="#0091d0"/>
<circle cx="77.6" cy="200.2" r="0.68" fill="#e80000"/>
<circle cx="92.0" cy="222.8" r="0.68" fill="#0000e8"/>
<circle cx="74.9" cy="228.1" r="0.68" fill="#a60000"/>
<circle cx="80.1" cy="170.5" r="0.68" fill="#890000"/>
<circle cx="105.7" cy="227.5" r="0.68" fill="#0091d0"/>
<circle cx="112.0" cy="179.8" r="0.68" fill="#0000e8"/>
<circle cx="110.6" cy="200.7" r="0.68" fill="#85bf39"/>
<circle cx="75.8" cy="203.3" r="0.68" fill="#00b1c4"/>
<circle cx="124.7" cy="218.4" r="0.68" fill="#006ddb"/>
<circle cx="93.8" cy="186.5" r="0.68" fill="#db6d00"/>
<circle cx="99.4" cy="203.6" r="0.68" fill="#d09100"/>
<circle cx="77.5" cy="177.8" r="0.68" fill="#39bf85"/>
<circle cx="80.7" cy="209.5" r="0.68" fill="#0091d0"/>
<circle cx="111.9" cy="225.9" r="0.68" fill="#0091d0"/>
<circle cx="89.6" cy="191.0" r="0.68" fill="#db6d00"/>
<circle cx="137.0" cy="188.3" r="0.68" fill="#d50000"/>
<circle cx="113.7" cy="179.4" r="0.68" fill="#0000e8"/>
<circle cx="123.0" cy="175.3" r="0.68" fill="#0000c2"/>
<circle cx="125.9" cy="189.4" r="0.68" fill="#0000e8"/>
<circle cx="116.3" cy="215.4" r="0.68" fill="#006ddb"/>
<circle cx="87.4" cy="185.3" r="0.68" fill="#db6d00"/>
<circle cx="74.8" cy="195.1" r="0.68" fill="#e80000"/>
<circle cx="99.4" cy="204.9" r="0.68" fill="#d09100"/>
<circle cx="81.0" cy="184.5" r="0.68" fill="#890000"/>
<circle cx="94.3" cy="210.1" r="0.68" fill="#0000af"/>
<circle cx="91.7" cy="215.7" r="0.68" fill="#0000e8"/>
<circle cx="106.3" cy="216.5" r="0.68" fill="#0091d0"/>
<circle cx="121.4" cy="183.4" r="0.68" fill="#0000c2"/>
<circle cx="123.6" cy="193.7" r="0.68" fill="#0000e8"/>
<circle cx="125.8" cy="202.0" r="0.68" fill="#00b1c4"/>
<circle cx="124.9" cy="202.5" r="0.68" fill="#00b1c4"/>
<circle cx="78.6" cy="199.0" r="0.68" fill="#9c0000"/>
<circle cx="76.6" cy="218.5" r="0.68" fill="#a60000"/>
<circle cx="127.1" cy="172.6" r="0.68" fill="#d50000"/>
<circle cx="122.1" cy="197.4" r="0.68" fill="#0000e8"/>
<circle cx="115.1" cy="210.1" r="0.68" fill="#85bf39"/>
<circle cx="90.9" cy="221.5" r="0.68" fill="#0000e8"/>
<circle cx="73.4" cy="232.4" r="0.68" fill="#a60000"/>
<circle cx="100.5" cy="229.0" r="0.68" fill="#acbf13"/>
<circle cx="85.5" cy="224.3" r="0.68" fill="#ed1700"/>
<circle cx="89.0" cy="224.1" r="0.68" fill="#0000e8"/>
<circle cx="120.9" cy="226.3" r="0.68" fill="#006ddb"/>
<circle cx="116.7" cy="174.4" r="0.68" fill="#0000c2"/>
<circle cx="77.9" cy="211.6" r="0.68" fill="#00b1c4"/>
<circle cx="122.7" cy="223.5" r="0.68" fill="#006ddb"/>
<circle cx="117.3" cy="231.2" r="0.68" fill="#006ddb"/>
<circle cx="91.8" cy="189.7" r="0.68" fill="#db6d00"/>
<circle cx="76.2" cy="223.1" r="0.68" fill="#a60000"/>
<circle cx="88.1" cy="214.6" r="0.68" fill="#0000e8"/>
<circle cx="115.1" cy="215.9" r="0.68" fill="#0091d0"/>
<circle cx="105.9" cy="173.2" r="0.68" fill="#0000e8"/>
<circle cx="128.8" cy="230.5" r="0.68" fill="#5fbf5f"/>
<circle cx="79.3" cy="232.0" r="0.68" fill="#ed1700"/>
<circle cx="113.3" cy="221.1" r="0.68" fill="#0091d0"/>
<circle cx="130.6" cy="220.4" r="0.68" fill="#5fbf5f"/>
<circle cx="101.7" cy="212.1" r="0.68" fill="#d09100"/>
<circle cx="76.1" cy="192.5" r="0.68" fill="#e80000"/>
<circle cx="101.2" cy="167.9" r="0.68" fill="#0091d0"/>
<circle cx="125.2" cy="219.0" r="0.68" fill="#006ddb"/>
<circle cx="101.8" cy="185.6" r="0.68" fill="#0091d0"/>
<circle cx="78.2" cy="231.2" r="0.68" fill="#a60000"/>
<circle cx="79.6" cy="170.5" r="0.68" fill="#890000"/>
<circle cx="95.1" cy="230.0" r="0.68" fill="#acbf13"/>
<circle cx="75.2" cy="171.8" r="0.68" fill="#39bf85"/>
<circle cx="91.4" cy="196.0" r="0.68" fill="#db6d00"/>
<circle cx="121.4" cy="184.0" r="0.68" fill="#0000c2"/>
<circle cx="98.5" cy="221.2" r="0.68" fill="#acbf13"/>
<circle cx="87.3" cy="182.5" r="0.68" fill="#db6d00"/>
<circle cx="126.7" cy="215.2" r="0.68" fill="#006ddb"/>
<circle cx="134.8" cy="221.8" r="0.68" fill="#5fbf5f"/>
<circle cx="116.6" cy="172.0" r="0.68" fill="#0000c2"/>
<circle cx="79.1" cy="183.4" r="0.68" fill="#890000"/>
<circle cx="123.3" cy="189.6" r="0.68" fill="#0000e8"/>
<circle cx="76.0" cy="231.9" r="0.68" fill="#a60000"/>
<circle cx="97.0" cy="170.3" r="0.68" fill="#0091d0"/>
<circle cx="122.6" cy="214.7" r="0.68" fill="#006ddb"/>
<circle cx="92.5" cy="174.9" r="0.68" fill="#db6d00"/>
<circle cx="121.2" cy="171.3" r="0.68" fill="#0000c2"/>
<circle cx="120.5" cy="201.1" r="0.68" fill="#00b1c4"/>
<circle cx="132.2" cy="190.1" r="0.68" fill="#e80000"/>
<circle cx="129.7" cy="207.2" r="0.68" fill="#0000e8"/>
<circle cx="93.4" cy="211.7" r="0.68" fill="#0000af"/>
<circle cx="97.6" cy="192.0" r="0.68" fill="#0045e7"/>
<circle cx="87.0" cy="204.5" r="0.68" fill="#0000af"/>
<circle cx="100.2" cy="191.9" r="0.68" fill="#0045e7"/>
<circle cx="74.7" cy="227.1" r="0.68" fill="#a60000"/>
<circle cx="90.0" cy="231.7" r="0.68" fill="#0000e8"/>
<circle cx="86.2" cy="167.8" r="0.68" fill="#890000"/>
<circle cx="136.0" cy="211.2" r="0.68" fill="#0000e8"/>
<circle cx="122.9" cy="194.1" r="0.68" fill="#0000e8"/>
<circle cx="72.5" cy="219.0" r="0.68" fill="#a60000"/>
<circle cx="132.6" cy="196.2" r="0.68" fill="#e80000"/>
<circle cx="78.2" cy="188.3" r="0.68" fill="#39bf85"/>
<circle cx="134.0" cy="168.0" r="0.68" fill="#d50000"/>
<circle cx="97.1" cy="177.9" r="0.68" fill="#0091d0"/>
<circle cx="121.7" cy="220.3" r="0.68" fill="#006ddb"/>
<circle cx="105.2" cy="215.1" r="0.68" fill="#0091d0"/>
<circle cx="136.2" cy="186.6" r="0.68" fill="#d50000"/>
<circle cx="107.3" cy="223.6" r="0.68" fill="#0091d0"/>
<circle cx="78.3" cy="218.3" r="0.68" fill="#a60000"/>
<circle cx="91.5" cy="183.0" r="0.68" fill="#db6d00"/>
<circle cx="82.0" cy="198.3" r="0.68" fill="#9c0000"/>
<circle cx="112.6" cy="186.7" r="0.68" fill="#0000e8"/>
<circle cx="106.9" cy="175.7" r="0.68" fill="#0000e8"/>
<circle cx="113.0" cy="197.6" r="0.68" fill="#acbf13"/>
<circle cx="77.2" cy="202.4" r="0.68" fill="#00b1c4"/>
<circle cx="112.7" cy="191.1" r="0.68" fill="#acbf13"/>
<circle cx="106.1" cy="203.7" r="0.68" fill="#85bf39"/>
<circle cx="103.1" cy="173.9" r="0.68" fill="#0091d0"/>
<circle cx="74.6" cy="191.4" r="0.68" fill="#e80000"/>
<circle cx="116.2" cy="221.4" r="0.68" fill="#006ddb"/>
<circle cx="106.1" cy="200.1" r="0.68" fill="#acbf13"/>
<circle cx="117.4" cy="188.2" r="0.68" fill="#0000c2"/>
<circle cx="132.7" cy="199.3" r="0.68" fill="#e80000"/>
<circle cx="94.0" cy="227.5" r="0.68" fill="#0000e8"/>
<circle cx="90.7" cy="206.9" r="0.68" fill="#0000af"/>
<circle cx="94.7" cy="229.3" r="0.68" fill="#0000e8"/>
<circle cx="115.6" cy="170.4" r="0.68" fill="#0000e8"/>
<circle cx="119.8" cy="180.4" r="0.68" fill="#0000c2"/>
<circle cx="108.8" cy="210.7" r="0.68" fill="#85bf39"/>
<circle cx="118.1" cy="219.0" r="0.68" fill="#006ddb"/>
<circle cx="108.0" cy="213.6" r="0.68" fill="#0091d0"/>
<circle cx="73.8" cy="205.1" r="0.68" fill="#00b1c4"/>
<circle cx="113.3" cy="226.9" r="0.68" fill="#0091d0"/>
<circle cx="98.9" cy="173.0" r="0.68" fill="#0091d0"/>
<circle cx="109.3" cy="194.4" r="0.68" fill="#acbf13"/>
<circle cx="109.3" cy="170.9" r="0.68" fill="#0000e8"/>
<circle cx="77.9" cy="205.0" r="0.68" fill="#00b1c4"/>
<circle cx="120.6" cy="207.8" r="0.68" fill="#00b1c4"/>
<circle cx="93.0" cy="208.6" r="0.68" fill="#0000af"/>
<circle cx="129.1" cy="222.7" r="0.68" fill="#5fbf5f"/>
<circle cx="127.4" cy="199.8" r="0.68" fill="#e80000"/>
<circle cx="134.4" cy="190.6" r="0.68" fill="#e80000"/>
<circle cx="136.9" cy="176.0" r="0.68" fill="#d50000"/>
<circle cx="76.1" cy="178.9" r="0.68" fill="#39bf85"/>
<circle cx="112.0" cy="224.8" r="0.68" fill="#0091d0"/>
<circle cx="82.6" cy="202.6" r="0.68" fill="#0091d0"/>
<circle cx="74.5" cy="193.4" r="0.68" fill="#e80000"/>
<circle cx="122.0" cy="219.0" r="0.68" fill="#006ddb"/>
<circle cx="122.8" cy="203.3" r="0.68" fill="#00b1c4"/>
<circle cx="75.0" cy="212.5" r="0.68" fill="#00b1c4"/>
<circle cx="121.9" cy="192.4" r="0.68" fill="#0000e8"/>
<circle cx="136.2" cy="215.6" r="0.68" fill="#5fbf5f"/>
<circle cx="108.6" cy="170.6" r="0.68" fill="#0000e8"/>
<circle cx="74.0" cy="201.0" r="0.68" fill="#00b1c4"/>
<circle cx="106.9" cy="208.0" r="0.68" fill="#85bf39"/>
<circle cx="114.8" cy="221.6" r="0.68" fill="#0091d0"/>
<circle cx="116.3" cy="182.4" r="0.68" fill="#0000c2"/>
<circle cx="94.7" cy="193.6" r="0.68" fill="#db6d00"/>
<circle cx="93.1" cy="228.8" r="0.68" fill="#0000e8"/>
<circle cx="83.3" cy="180.4" r="0.68" fill="#890000"/>
<circle cx="111.0" cy="184.6" r="0.68" fill="#0000e8"/>
<circle cx="93.8" cy="202.4" r="0.68" fill="#0000af"/>
<circle cx="125.1" cy="222.9" r="0.68" fill="#006ddb"/>
<circle cx="106.4" cy="225.4" r="0.68" fill="#0091d0"/>
<circle cx="97.0" cy="178.3" r="0.68" fill="#0091d0"/>
<circle cx="108.3" cy="219.3" r="0.68" fill="#0091d0"/>
<circle cx="73.6" cy="203.7" r="0.68" fill="#00b1c4"/>
<circle cx="81.4" cy="212.3" r="0.68" fill="#0091d0"/>
<circle cx="136.3" cy="220.1" r="0.68" fill="#5fbf5f"/>
<circle cx="120.3" cy="208.6" r="0.68" fill="#00b1c4"/>
<circle cx="128.2" cy="214.4" r="0.68" fill="#5fbf5f"/>
<circle cx="104.9" cy="190.6" r="0.68" fill="#acbf13"/>
<circle cx="91.1" cy="218.6" r="0.68" fill="#0000e8"/>
<circle cx="77.9" cy="197.9" r="0.68" fill="#e80000"/>
<circle cx="94.5" cy="199.5" r="0.68" fill="#db6d00"/>
<circle cx="101.1" cy="185.6" r="0.68" fill="#0091d0"/>
<circle cx="83.9" cy="228.4" r="0.68" fill="#ed1700"/>
<circle cx="82.0" cy="189.1" r="0.68" fill="#9c0000"/>
<circle cx="80.9" cy="180.8" r="0.68" fill="#890000"/>
<circle cx="107.9" cy="185.3" r="0.68" fill="#0000e8"/>
<circle cx="82.7" cy="220.3" r="0.68" fill="#ed1700"/>
<circle cx="101.4" cy="210.5" r="0.68" fill="#d09100"/>
<circle cx="108.8" cy="190.6" r="0.68" fill="#acbf13"/>
<circle cx="128.4" cy="170.1" r="0.68" fill="#d50000"/>
<circle cx="101.7" cy="170.4" r="0.68" fill="#0091d0"/>
<circle cx="122.8" cy="205.9" r="0.68" fill="#00b1c4"/>
<circle cx="119.3" cy="228.2" r="0.68" fill="#006ddb"/>
<rect x="72.5" y="167.3" width="65" height="65.7" fill="none" stroke="#333" stroke-width="0.7"/>
<text x="68.50" y="168.50" font-size="5.2" text-anchor="middle" font-weight="normal" font-style="normal" fill="#333" >1</text>
<text x="68.20" y="234.60" font-size="5.2" text-anchor="middle" font-weight="normal" font-style="normal" fill="#333" >0</text>
<text x="72.50" y="239.50" font-size="5.2" text-anchor="middle" font-weight="normal" font-style="normal" fill="#333" >0</text>
<text x="137.50" y="239.50" font-size="5.2" text-anchor="middle" font-weight="normal" font-style="normal" fill="#333" >1</text>
<text x="105.50" y="165.90" font-size="5.2" text-anchor="middle" font-weight="normal" font-style="normal" fill="#444" textLength="48" lengthAdjust="spacingAndGlyphs"><tspan font-style="italic">π</tspan> Estimate (<tspan font-style="italic">K</tspan> = 32)</text>
<rect x="148" y="61" width="64" height="64.3" fill="none" stroke="#e0e0e0" stroke-width="0.5"/>
<clipPath id="clipc21"><circle cx="180.1" cy="93.4" r="31.7"/></clipPath>
<g clip-path="url(#clipc21)">
<path d="M180.10,93.40 L142.51,107.08 L143.42,109.35 L144.46,111.56 L145.63,113.70 L146.94,115.77 L148.37,117.75 L149.91,119.64 L151.57,121.44 L153.33,123.13 L155.20,124.70 L157.16,126.17 Z" fill="#edeefd"/>
<path d="M180.10,93.40 L157.16,126.17 L160.71,128.38 L164.47,130.22 L168.41,131.65 L172.47,132.67 L176.61,133.25 L180.80,133.39 L184.97,133.10 L189.10,132.37 L193.12,131.22 L197.00,129.65 Z" fill="#fdf5f2"/>
<path d="M180.10,93.40 L197.00,129.65 L199.19,128.55 L201.30,127.32 L203.33,125.96 L205.27,124.49 L207.12,122.89 L208.87,121.19 L210.52,119.38 L212.05,117.47 L213.46,115.48 L214.74,113.40 Z" fill="#edeefd"/>
<path d="M180.10,93.40 L214.74,113.40 L216.05,110.93 L217.19,108.38 L218.14,105.76 L218.91,103.08 L219.49,100.35 L219.88,97.58 L220.08,94.80 L220.08,92.00 L219.88,89.22 L219.49,86.45 Z" fill="#fafdfa"/>
<path d="M180.10,93.40 L219.49,86.45 L218.96,83.93 L218.27,81.44 L217.42,79.00 L216.41,76.62 L215.25,74.31 L213.95,72.08 L212.50,69.95 L210.92,67.90 L209.21,65.97 L207.38,64.15 Z" fill="#fcefef"/>
<path d="M180.10,93.40 L207.38,64.15 L205.65,62.62 L203.84,61.20 L201.94,59.89 L199.98,58.69 L197.95,57.60 L195.86,56.63 L193.72,55.79 L191.53,55.07 L189.30,54.47 L187.05,54.01 Z" fill="#fcfbf4"/>
<path d="M180.10,93.40 L187.05,54.01 L185.81,53.81 L184.56,53.65 L183.31,53.53 L182.05,53.45 L180.80,53.41 L179.54,53.40 L178.29,53.44 L177.03,53.52 L175.78,53.63 L174.53,53.79 Z" fill="#fef7f7"/>
<path d="M180.10,93.40 L174.53,53.79 L173.43,53.96 L172.33,54.16 L171.24,54.39 L170.15,54.66 L169.07,54.95 L168.01,55.27 L166.95,55.62 L165.90,56.01 L164.86,56.42 L163.83,56.86 Z" fill="#edeefd"/>
<path d="M180.10,93.40 L163.83,56.86 L161.57,57.95 L159.38,59.19 L157.27,60.55 L155.25,62.05 L153.33,63.67 L151.52,65.41 L149.82,67.26 L148.24,69.22 L146.78,71.26 L145.46,73.40 Z" fill="#f5fcfb"/>
<path d="M180.10,93.40 L145.46,73.40 L143.85,76.50 L142.51,79.72 L141.46,83.05 L140.71,86.45 L140.25,89.91 L140.10,93.40 L140.25,96.89 L140.71,100.35 L141.46,103.75 L142.51,107.08 Z" fill="#f3fcfb"/>
<line x1="174.84" y1="95.32" x2="148.53" y2="104.89" stroke="#0045e7" stroke-width="0.8" stroke-dasharray="1.8,1.2" opacity="0.95"/>
<line x1="176.89" y1="97.99" x2="160.83" y2="120.92" stroke="#e74500" stroke-width="0.8" stroke-dasharray="1.8,1.2" opacity="0.95"/>
<line x1="182.47" y1="98.48" x2="194.30" y2="123.85" stroke="#e25600" stroke-width="0.8" stroke-dasharray="1.8,1.2" opacity="0.95"/>
<line x1="184.95" y1="96.20" x2="209.20" y2="110.20" stroke="#0017ed" stroke-width="0.8" stroke-dasharray="1.8,1.2" opacity="0.95"/>
<line x1="185.61" y1="92.43" x2="213.19" y2="87.57" stroke="#5fbf5f" stroke-width="0.8" stroke-dasharray="1.8,1.2" opacity="0.95"/>
<line x1="183.92" y1="89.30" x2="203.02" y2="68.83" stroke="#db6d00" stroke-width="0.8" stroke-dasharray="1.8,1.2" opacity="0.95"/>
<line x1="181.07" y1="87.89" x2="185.93" y2="60.31" stroke="#cb9f00" stroke-width="0.8" stroke-dasharray="1.8,1.2" opacity="0.95"/>
<line x1="179.32" y1="87.85" x2="175.42" y2="60.13" stroke="#d50000" stroke-width="0.8" stroke-dasharray="1.8,1.2" opacity="0.95"/>
<line x1="177.82" y1="88.28" x2="166.43" y2="62.70" stroke="#0017ed" stroke-width="0.8" stroke-dasharray="1.8,1.2" opacity="0.95"/>
<line x1="175.25" y1="90.60" x2="151.00" y2="76.60" stroke="#22bf9c" stroke-width="0.8" stroke-dasharray="1.8,1.2" opacity="0.95"/>
<line x1="174.52" y1="93.89" x2="146.63" y2="96.33" stroke="#00b7c2" stroke-width="0.8" stroke-dasharray="1.8,1.2" opacity="0.95"/>
<circle cx="186.3" cy="108.7" r="0.68" fill="#e74500"/>
<circle cx="177.4" cy="94.7" r="0.68" fill="#930000"/>
<circle cx="177.5" cy="100.4" r="0.68" fill="#ed1700"/>
<circle cx="185.2" cy="101.0" r="0.68" fill="#00a5c9"/>
<circle cx="175.8" cy="93.1" r="0.68" fill="#0000d5"/>
<circle cx="167.3" cy="100.4" r="0.68" fill="#0017ed"/>
<circle cx="185.7" cy="92.4" r="0.68" fill="#00a5c9"/>
<circle cx="182.0" cy="95.9" r="0.68" fill="#930000"/>
<circle cx="167.3" cy="111.9" r="0.68" fill="#e74500"/>
<circle cx="186.1" cy="85.8" r="0.68" fill="#cb9f00"/>
<circle cx="176.2" cy="89.4" r="0.68" fill="#0000a6"/>
<circle cx="188.8" cy="99.0" r="0.68" fill="#0017ed"/>
<circle cx="180.3" cy="121.2" r="0.68" fill="#e74500"/>
<circle cx="178.2" cy="109.6" r="0.68" fill="#e74500"/>
<circle cx="170.2" cy="111.1" r="0.68" fill="#e74500"/>
<circle cx="183.1" cy="88.6" r="0.68" fill="#d50000"/>
<circle cx="179.9" cy="88.8" r="0.68" fill="#930000"/>
<circle cx="193.9" cy="92.9" r="0.68" fill="#5fbf5f"/>
<circle cx="179.8" cy="92.5" r="0.68" fill="#0000a6"/>
<circle cx="170.5" cy="111.2" r="0.68" fill="#e74500"/>
<circle cx="195.1" cy="90.9" r="0.68" fill="#5fbf5f"/>
<circle cx="153.5" cy="102.3" r="0.68" fill="#03bfbb"/>
<circle cx="192.1" cy="95.4" r="0.68" fill="#0084d5"/>
<circle cx="174.0" cy="100.2" r="0.68" fill="#ed1700"/>
<circle cx="190.2" cy="107.5" r="0.68" fill="#0017ed"/>
<circle cx="178.9" cy="88.2" r="0.68" fill="#0000a6"/>
<circle cx="187.5" cy="88.7" r="0.68" fill="#d50000"/>
<circle cx="180.4" cy="101.0" r="0.68" fill="#c4b100"/>
<circle cx="179.4" cy="104.3" r="0.68" fill="#c4b100"/>
<circle cx="184.0" cy="97.9" r="0.68" fill="#930000"/>
<circle cx="171.8" cy="82.4" r="0.68" fill="#13bfac"/>
<circle cx="183.7" cy="89.7" r="0.68" fill="#c20000"/>
<circle cx="166.0" cy="92.9" r="0.68" fill="#03bfbb"/>
<circle cx="174.9" cy="87.1" r="0.68" fill="#0000a6"/>
<circle cx="176.5" cy="91.1" r="0.68" fill="#0000a6"/>
<circle cx="179.5" cy="100.2" r="0.68" fill="#c4b100"/>
<circle cx="188.9" cy="89.0" r="0.68" fill="#d50000"/>
<circle cx="174.2" cy="94.0" r="0.68" fill="#0000d5"/>
<circle cx="174.0" cy="99.3" r="0.68" fill="#ed1700"/>
<circle cx="172.1" cy="85.6" r="0.68" fill="#13bfac"/>
<circle cx="177.2" cy="90.5" r="0.68" fill="#d50000"/>
<circle cx="184.2" cy="103.6" r="0.68" fill="#e74500"/>
<circle cx="170.4" cy="83.8" r="0.68" fill="#13bfac"/>
<circle cx="176.3" cy="91.1" r="0.68" fill="#0000a6"/>
<circle cx="175.9" cy="96.1" r="0.68" fill="#ed1700"/>
<circle cx="180.8" cy="96.7" r="0.68" fill="#930000"/>
<circle cx="153.6" cy="106.8" r="0.68" fill="#0017ed"/>
<circle cx="184.4" cy="103.8" r="0.68" fill="#c4b100"/>
<circle cx="186.8" cy="91.6" r="0.68" fill="#d50000"/>
<circle cx="174.1" cy="90.2" r="0.68" fill="#0000a6"/>
<circle cx="179.6" cy="95.9" r="0.68" fill="#930000"/>
<circle cx="168.2" cy="90.3" r="0.68" fill="#03bfbb"/>
<circle cx="193.4" cy="98.5" r="0.68" fill="#5fbf5f"/>
<circle cx="184.7" cy="96.0" r="0.68" fill="#930000"/>
<circle cx="201.0" cy="90.0" r="0.68" fill="#5fbf5f"/>
<circle cx="178.7" cy="90.1" r="0.68" fill="#0000a6"/>
<circle cx="168.7" cy="75.4" r="0.68" fill="#13bfac"/>
<circle cx="176.7" cy="96.8" r="0.68" fill="#930000"/>
<circle cx="171.1" cy="91.1" r="0.68" fill="#22bf9c"/>
<circle cx="181.7" cy="94.7" r="0.68" fill="#930000"/>
<circle cx="182.4" cy="92.0" r="0.68" fill="#930000"/>
<circle cx="192.5" cy="77.6" r="0.68" fill="#cb9f00"/>
<circle cx="183.1" cy="90.7" r="0.68" fill="#00a5c9"/>
<circle cx="174.8" cy="103.6" r="0.68" fill="#e74500"/>
<circle cx="189.5" cy="96.7" r="0.68" fill="#0084d5"/>
<circle cx="184.4" cy="97.6" r="0.68" fill="#db6d00"/>
<circle cx="186.2" cy="95.3" r="0.68" fill="#00a5c9"/>
<circle cx="171.8" cy="98.1" r="0.68" fill="#0017ed"/>
<circle cx="169.3" cy="99.9" r="0.68" fill="#0000d5"/>
<circle cx="175.6" cy="94.7" r="0.68" fill="#930000"/>
<circle cx="177.4" cy="91.3" r="0.68" fill="#0000a6"/>
<circle cx="164.5" cy="99.4" r="0.68" fill="#0017ed"/>
<circle cx="188.9" cy="93.0" r="0.68" fill="#00a5c9"/>
<circle cx="178.8" cy="93.2" r="0.68" fill="#0000a6"/>
<circle cx="191.6" cy="82.9" r="0.68" fill="#d50000"/>
<circle cx="190.7" cy="90.4" r="0.68" fill="#d50000"/>
<circle cx="200.2" cy="87.0" r="0.68" fill="#d50000"/>
<circle cx="184.5" cy="91.6" r="0.68" fill="#00a5c9"/>
<circle cx="185.5" cy="79.1" r="0.68" fill="#cb9f00"/>
<circle cx="175.0" cy="94.4" r="0.68" fill="#0000a6"/>
<circle cx="181.3" cy="103.9" r="0.68" fill="#e74500"/>
<circle cx="203.8" cy="89.2" r="0.68" fill="#5fbf5f"/>
<circle cx="167.7" cy="100.3" r="0.68" fill="#0000d5"/>
<circle cx="171.4" cy="121.9" r="0.68" fill="#e74500"/>
<circle cx="184.4" cy="87.7" r="0.68" fill="#d50000"/>
<circle cx="192.1" cy="93.9" r="0.68" fill="#5fbf5f"/>
<circle cx="172.6" cy="92.3" r="0.68" fill="#0000a6"/>
<circle cx="174.9" cy="88.1" r="0.68" fill="#0000a6"/>
<circle cx="182.9" cy="96.1" r="0.68" fill="#00a5c9"/>
<circle cx="202.9" cy="86.2" r="0.68" fill="#d50000"/>
<circle cx="169.5" cy="93.1" r="0.68" fill="#22bf9c"/>
<circle cx="179.4" cy="95.8" r="0.68" fill="#930000"/>
<circle cx="185.9" cy="93.5" r="0.68" fill="#00a5c9"/>
<circle cx="171.7" cy="119.6" r="0.68" fill="#e74500"/>
<circle cx="186.1" cy="87.5" r="0.68" fill="#c20000"/>
<circle cx="186.5" cy="112.5" r="0.68" fill="#e74500"/>
<circle cx="176.3" cy="89.0" r="0.68" fill="#0000a6"/>
<circle cx="183.2" cy="94.6" r="0.68" fill="#930000"/>
<circle cx="193.1" cy="93.2" r="0.68" fill="#5fbf5f"/>
<circle cx="182.8" cy="104.2" r="0.68" fill="#c4b100"/>
<circle cx="175.6" cy="73.0" r="0.68" fill="#0017ed"/>
<circle cx="175.3" cy="107.7" r="0.68" fill="#e74500"/>
<circle cx="184.3" cy="95.7" r="0.68" fill="#00a5c9"/>
<circle cx="188.2" cy="99.9" r="0.68" fill="#0084d5"/>
<circle cx="183.2" cy="114.0" r="0.68" fill="#e74500"/>
<circle cx="183.0" cy="83.9" r="0.68" fill="#c20000"/>
<circle cx="199.8" cy="92.4" r="0.68" fill="#5fbf5f"/>
<circle cx="175.3" cy="77.1" r="0.68" fill="#0017ed"/>
<circle cx="173.0" cy="88.4" r="0.68" fill="#13bfac"/>
<circle cx="182.7" cy="90.3" r="0.68" fill="#d50000"/>
<circle cx="178.5" cy="86.9" r="0.68" fill="#d50000"/>
<circle cx="184.9" cy="102.5" r="0.68" fill="#db6d00"/>
<circle cx="189.7" cy="102.7" r="0.68" fill="#0017ed"/>
<circle cx="183.3" cy="83.9" r="0.68" fill="#cb9f00"/>
<circle cx="178.7" cy="83.7" r="0.68" fill="#d50000"/>
<circle cx="184.5" cy="98.7" r="0.68" fill="#db6d00"/>
<circle cx="184.3" cy="92.9" r="0.68" fill="#00a5c9"/>
<circle cx="180.1" cy="92.5" r="0.68" fill="#930000"/>
<circle cx="176.6" cy="85.3" r="0.68" fill="#0000a6"/>
<circle cx="190.1" cy="89.4" r="0.68" fill="#c20000"/>
<circle cx="179.3" cy="98.3" r="0.68" fill="#930000"/>
<circle cx="166.2" cy="83.5" r="0.68" fill="#13bfac"/>
<circle cx="185.7" cy="97.2" r="0.68" fill="#00a5c9"/>
<circle cx="177.0" cy="89.6" r="0.68" fill="#0000a6"/>
<circle cx="174.2" cy="100.9" r="0.68" fill="#ed1700"/>
<circle cx="170.9" cy="73.3" r="0.68" fill="#13bfac"/>
<circle cx="179.5" cy="99.8" r="0.68" fill="#c4b100"/>
<circle cx="168.3" cy="81.0" r="0.68" fill="#13bfac"/>
<circle cx="169.7" cy="89.1" r="0.68" fill="#22bf9c"/>
<circle cx="182.8" cy="97.0" r="0.68" fill="#db6d00"/>
<circle cx="201.7" cy="108.0" r="0.68" fill="#0017ed"/>
<circle cx="169.7" cy="69.3" r="0.68" fill="#0017ed"/>
<circle cx="189.0" cy="91.8" r="0.68" fill="#0084d5"/>
<circle cx="195.2" cy="77.2" r="0.68" fill="#d50000"/>
<circle cx="201.0" cy="89.1" r="0.68" fill="#d50000"/>
<circle cx="173.0" cy="86.9" r="0.68" fill="#13bfac"/>
<circle cx="176.0" cy="91.7" r="0.68" fill="#0000a6"/>
<circle cx="192.5" cy="102.1" r="0.68" fill="#0017ed"/>
<circle cx="180.3" cy="98.6" r="0.68" fill="#c4b100"/>
<circle cx="181.1" cy="88.4" r="0.68" fill="#d50000"/>
<circle cx="185.8" cy="101.4" r="0.68" fill="#db6d00"/>
<circle cx="189.3" cy="97.5" r="0.68" fill="#5fbf5f"/>
<circle cx="174.0" cy="94.5" r="0.68" fill="#0000d5"/>
<circle cx="179.2" cy="85.7" r="0.68" fill="#d50000"/>
<circle cx="185.3" cy="82.2" r="0.68" fill="#cb9f00"/>
<circle cx="182.7" cy="107.4" r="0.68" fill="#e74500"/>
<circle cx="175.5" cy="90.4" r="0.68" fill="#0000a6"/>
<circle cx="190.0" cy="80.9" r="0.68" fill="#cb9f00"/>
<circle cx="186.9" cy="102.6" r="0.68" fill="#0017ed"/>
<circle cx="178.5" cy="100.7" r="0.68" fill="#c4b100"/>
<circle cx="176.8" cy="85.2" r="0.68" fill="#0000c2"/>
<circle cx="193.5" cy="91.0" r="0.68" fill="#d50000"/>
<circle cx="163.5" cy="97.1" r="0.68" fill="#03bfbb"/>
<circle cx="181.6" cy="91.9" r="0.68" fill="#930000"/>
<circle cx="176.6" cy="88.3" r="0.68" fill="#0000a6"/>
<circle cx="172.5" cy="91.9" r="0.68" fill="#03bfbb"/>
<circle cx="193.1" cy="88.2" r="0.68" fill="#d50000"/>
<circle cx="183.0" cy="91.7" r="0.68" fill="#00a5c9"/>
<circle cx="179.3" cy="91.6" r="0.68" fill="#00a5c9"/>
<circle cx="186.4" cy="87.4" r="0.68" fill="#c20000"/>
<circle cx="170.9" cy="94.1" r="0.68" fill="#0000d5"/>
<circle cx="188.2" cy="85.3" r="0.68" fill="#d50000"/>
<circle cx="176.7" cy="95.0" r="0.68" fill="#ed1700"/>
<circle cx="182.5" cy="96.3" r="0.68" fill="#db6d00"/>
<circle cx="190.3" cy="102.7" r="0.68" fill="#0017ed"/>
<circle cx="189.5" cy="97.9" r="0.68" fill="#5fbf5f"/>
<circle cx="184.5" cy="91.8" r="0.68" fill="#0084d5"/>
<circle cx="190.2" cy="94.1" r="0.68" fill="#0084d5"/>
<circle cx="175.9" cy="84.8" r="0.68" fill="#d50000"/>
<circle cx="174.3" cy="100.8" r="0.68" fill="#c4b100"/>
<circle cx="161.7" cy="100.3" r="0.68" fill="#0017ed"/>
<circle cx="185.0" cy="106.3" r="0.68" fill="#e74500"/>
<circle cx="195.1" cy="94.7" r="0.68" fill="#5fbf5f"/>
<circle cx="178.7" cy="86.3" r="0.68" fill="#0000a6"/>
<circle cx="181.9" cy="86.6" r="0.68" fill="#d50000"/>
<circle cx="178.7" cy="95.6" r="0.68" fill="#930000"/>
<circle cx="188.1" cy="86.5" r="0.68" fill="#d50000"/>
<circle cx="167.9" cy="91.0" r="0.68" fill="#03bfbb"/>
<circle cx="187.1" cy="99.0" r="0.68" fill="#db6d00"/>
<circle cx="188.7" cy="99.9" r="0.68" fill="#0017ed"/>
<circle cx="176.1" cy="99.3" r="0.68" fill="#ed1700"/>
<circle cx="173.7" cy="89.9" r="0.68" fill="#0000a6"/>
<circle cx="174.6" cy="89.0" r="0.68" fill="#0000a6"/>
<circle cx="188.9" cy="87.6" r="0.68" fill="#c20000"/>
<circle cx="200.7" cy="95.9" r="0.68" fill="#5fbf5f"/>
<circle cx="173.8" cy="80.1" r="0.68" fill="#13bfac"/>
<circle cx="169.8" cy="94.4" r="0.68" fill="#0000d5"/>
<circle cx="183.0" cy="86.5" r="0.68" fill="#c20000"/>
<circle cx="185.1" cy="90.4" r="0.68" fill="#c20000"/>
<circle cx="186.0" cy="85.9" r="0.68" fill="#cb9f00"/>
<circle cx="175.9" cy="104.5" r="0.68" fill="#e74500"/>
<circle cx="191.2" cy="86.1" r="0.68" fill="#d50000"/>
<circle cx="188.8" cy="94.3" r="0.68" fill="#0084d5"/>
<circle cx="160.0" cy="93.7" r="0.68" fill="#03bfbb"/>
<circle cx="178.7" cy="100.1" r="0.68" fill="#ed1700"/>
<circle cx="189.6" cy="101.8" r="0.68" fill="#0017ed"/>
<circle cx="186.3" cy="84.7" r="0.68" fill="#d50000"/>
<circle cx="174.1" cy="81.7" r="0.68" fill="#13bfac"/>
<circle cx="166.8" cy="102.8" r="0.68" fill="#0017ed"/>
<circle cx="175.2" cy="91.3" r="0.68" fill="#0000a6"/>
<circle cx="170.5" cy="96.3" r="0.68" fill="#03bfbb"/>
<circle cx="177.0" cy="85.7" r="0.68" fill="#0000a6"/>
<circle cx="188.1" cy="89.9" r="0.68" fill="#d50000"/>
<circle cx="176.2" cy="87.8" r="0.68" fill="#d50000"/>
<circle cx="182.3" cy="93.4" r="0.68" fill="#930000"/>
<circle cx="172.0" cy="92.7" r="0.68" fill="#22bf9c"/>
<circle cx="187.4" cy="97.4" r="0.68" fill="#db6d00"/>
<circle cx="176.2" cy="103.2" r="0.68" fill="#e74500"/>
<circle cx="173.2" cy="96.9" r="0.68" fill="#ed1700"/>
<circle cx="205.7" cy="77.3" r="0.68" fill="#d50000"/>
<circle cx="183.1" cy="83.8" r="0.68" fill="#cb9f00"/>
<circle cx="185.6" cy="99.0" r="0.68" fill="#db6d00"/>
<circle cx="154.8" cy="103.4" r="0.68" fill="#0017ed"/>
<circle cx="190.9" cy="98.2" r="0.68" fill="#5fbf5f"/>
<circle cx="193.0" cy="98.4" r="0.68" fill="#5fbf5f"/>
<circle cx="179.3" cy="107.6" r="0.68" fill="#e74500"/>
<circle cx="177.1" cy="101.6" r="0.68" fill="#ed1700"/>
<circle cx="173.4" cy="84.8" r="0.68" fill="#13bfac"/>
<circle cx="188.4" cy="88.2" r="0.68" fill="#d50000"/>
<circle cx="169.3" cy="81.7" r="0.68" fill="#13bfac"/>
<circle cx="182.9" cy="94.4" r="0.68" fill="#930000"/>
<circle cx="181.6" cy="97.1" r="0.68" fill="#930000"/>
<circle cx="207.0" cy="106.6" r="0.68" fill="#5fbf5f"/>
<circle cx="180.8" cy="95.7" r="0.68" fill="#930000"/>
<circle cx="178.4" cy="98.4" r="0.68" fill="#ed1700"/>
<circle cx="193.0" cy="81.2" r="0.68" fill="#d50000"/>
<circle cx="180.0" cy="103.8" r="0.68" fill="#e74500"/>
<circle cx="181.3" cy="93.4" r="0.68" fill="#930000"/>
<circle cx="177.7" cy="81.1" r="0.68" fill="#0017ed"/>
<circle cx="171.9" cy="93.5" r="0.68" fill="#0000d5"/>
<circle cx="176.9" cy="114.1" r="0.68" fill="#e74500"/>
<circle cx="190.3" cy="82.2" r="0.68" fill="#cb9f00"/>
<circle cx="188.3" cy="90.2" r="0.68" fill="#c20000"/>
<circle cx="180.1" cy="89.7" r="0.68" fill="#d50000"/>
<circle cx="182.8" cy="88.7" r="0.68" fill="#00a5c9"/>
<circle cx="173.9" cy="99.9" r="0.68" fill="#0000d5"/>
<circle cx="179.3" cy="100.2" r="0.68" fill="#ed1700"/>
<circle cx="179.0" cy="91.6" r="0.68" fill="#930000"/>
<circle cx="179.6" cy="105.0" r="0.68" fill="#e74500"/>
<circle cx="181.0" cy="99.1" r="0.68" fill="#c4b100"/>
<circle cx="183.1" cy="85.6" r="0.68" fill="#cb9f00"/>
<circle cx="189.4" cy="102.1" r="0.68" fill="#0017ed"/>
<circle cx="186.1" cy="91.1" r="0.68" fill="#00a5c9"/>
<circle cx="184.3" cy="86.2" r="0.68" fill="#c20000"/>
<circle cx="171.9" cy="93.9" r="0.68" fill="#0000d5"/>
<circle cx="170.4" cy="99.1" r="0.68" fill="#0000d5"/>
<circle cx="181.7" cy="77.1" r="0.68" fill="#e80000"/>
<circle cx="181.4" cy="102.8" r="0.68" fill="#c4b100"/>
<circle cx="185.9" cy="82.1" r="0.68" fill="#cb9f00"/>
<circle cx="168.0" cy="99.5" r="0.68" fill="#0017ed"/>
<circle cx="181.9" cy="93.2" r="0.68" fill="#930000"/>
<circle cx="182.7" cy="107.2" r="0.68" fill="#e74500"/>
<circle cx="178.2" cy="100.8" r="0.68" fill="#e74500"/>
<circle cx="175.0" cy="86.7" r="0.68" fill="#0000a6"/>
<circle cx="184.1" cy="92.6" r="0.68" fill="#00a5c9"/>
<circle cx="179.5" cy="89.9" r="0.68" fill="#d50000"/>
<circle cx="184.0" cy="102.3" r="0.68" fill="#c4b100"/>
<circle cx="166.2" cy="95.9" r="0.68" fill="#03bfbb"/>
<circle cx="169.2" cy="109.0" r="0.68" fill="#e74500"/>
<circle cx="191.6" cy="93.7" r="0.68" fill="#5fbf5f"/>
<circle cx="182.3" cy="90.3" r="0.68" fill="#d50000"/>
<circle cx="175.1" cy="90.1" r="0.68" fill="#0000a6"/>
<circle cx="177.0" cy="87.1" r="0.68" fill="#0000a6"/>
<circle cx="171.4" cy="97.9" r="0.68" fill="#0000d5"/>
<circle cx="190.9" cy="89.6" r="0.68" fill="#d50000"/>
<circle cx="191.0" cy="96.4" r="0.68" fill="#0084d5"/>
<circle cx="192.8" cy="76.6" r="0.68" fill="#cb9f00"/>
<circle cx="189.3" cy="94.6" r="0.68" fill="#0084d5"/>
<circle cx="184.1" cy="85.3" r="0.68" fill="#cb9f00"/>
<circle cx="190.2" cy="95.9" r="0.68" fill="#5fbf5f"/>
<circle cx="185.3" cy="88.9" r="0.68" fill="#c20000"/>
<circle cx="199.8" cy="90.6" r="0.68" fill="#5fbf5f"/>
<circle cx="180.6" cy="103.5" r="0.68" fill="#e74500"/>
<circle cx="180.2" cy="85.1" r="0.68" fill="#d50000"/>
<circle cx="174.0" cy="105.0" r="0.68" fill="#e74500"/>
<circle cx="175.2" cy="115.9" r="0.68" fill="#e74500"/>
<circle cx="169.5" cy="92.5" r="0.68" fill="#03bfbb"/>
<circle cx="190.3" cy="85.7" r="0.68" fill="#d50000"/>
<circle cx="190.8" cy="88.4" r="0.68" fill="#d50000"/>
<circle cx="186.0" cy="99.2" r="0.68" fill="#c4b100"/>
<circle cx="188.0" cy="105.1" r="0.68" fill="#0017ed"/>
<circle cx="182.4" cy="111.8" r="0.68" fill="#e74500"/>
<circle cx="187.8" cy="101.6" r="0.68" fill="#0017ed"/>
<circle cx="171.2" cy="97.1" r="0.68" fill="#0000d5"/>
<circle cx="180.3" cy="94.6" r="0.68" fill="#930000"/>
<circle cx="157.7" cy="78.1" r="0.68" fill="#13bfac"/>
<circle cx="172.5" cy="96.0" r="0.68" fill="#0000d5"/>
<circle cx="178.8" cy="100.9" r="0.68" fill="#c4b100"/>
<circle cx="177.3" cy="107.6" r="0.68" fill="#e74500"/>
<circle cx="167.5" cy="105.5" r="0.68" fill="#0017ed"/>
<circle cx="198.2" cy="102.0" r="0.68" fill="#5fbf5f"/>
<circle cx="187.9" cy="91.3" r="0.68" fill="#0084d5"/>
<circle cx="177.1" cy="95.7" r="0.68" fill="#ed1700"/>
<circle cx="172.0" cy="94.0" r="0.68" fill="#0000d5"/>
<circle cx="175.0" cy="92.3" r="0.68" fill="#0000d5"/>
<circle cx="193.6" cy="91.0" r="0.68" fill="#d50000"/>
<circle cx="156.4" cy="85.4" r="0.68" fill="#03bfbb"/>
<circle cx="191.9" cy="78.9" r="0.68" fill="#cb9f00"/>
<circle cx="179.6" cy="106.0" r="0.68" fill="#e74500"/>
<circle cx="177.9" cy="95.5" r="0.68" fill="#930000"/>
<circle cx="188.0" cy="94.3" r="0.68" fill="#00a5c9"/>
<circle cx="180.9" cy="94.5" r="0.68" fill="#930000"/>
<circle cx="178.3" cy="87.9" r="0.68" fill="#0000a6"/>
<circle cx="189.6" cy="88.5" r="0.68" fill="#c20000"/>
<circle cx="169.4" cy="97.8" r="0.68" fill="#0017ed"/>
<circle cx="202.4" cy="72.6" r="0.68" fill="#d50000"/>
<circle cx="174.8" cy="89.9" r="0.68" fill="#22bf9c"/>
<circle cx="170.4" cy="84.8" r="0.68" fill="#13bfac"/>
<circle cx="192.1" cy="97.5" r="0.68" fill="#5fbf5f"/>
<circle cx="189.6" cy="95.6" r="0.68" fill="#5fbf5f"/>
<circle cx="174.8" cy="99.9" r="0.68" fill="#ed1700"/>
<circle cx="165.2" cy="92.6" r="0.68" fill="#03bfbb"/>
<circle cx="184.6" cy="106.2" r="0.68" fill="#e74500"/>
<circle cx="181.4" cy="107.0" r="0.68" fill="#e74500"/>
<circle cx="173.8" cy="87.7" r="0.68" fill="#0000a6"/>
<circle cx="179.9" cy="88.0" r="0.68" fill="#d50000"/>
<circle cx="176.0" cy="98.1" r="0.68" fill="#0000d5"/>
<circle cx="186.8" cy="86.8" r="0.68" fill="#d50000"/>
<circle cx="180.2" cy="85.4" r="0.68" fill="#d50000"/>
<circle cx="178.6" cy="78.9" r="0.68" fill="#e80000"/>
<circle cx="152.6" cy="89.1" r="0.68" fill="#03bfbb"/>
<circle cx="184.7" cy="97.1" r="0.68" fill="#db6d00"/>
<circle cx="170.4" cy="82.8" r="0.68" fill="#13bfac"/>
<circle cx="186.0" cy="95.9" r="0.68" fill="#00a5c9"/>
<circle cx="180.5" cy="90.1" r="0.68" fill="#00a5c9"/>
<circle cx="166.3" cy="85.6" r="0.68" fill="#03bfbb"/>
<circle cx="176.9" cy="71.8" r="0.68" fill="#0017ed"/>
<circle cx="172.2" cy="91.2" r="0.68" fill="#03bfbb"/>
<circle cx="188.5" cy="89.8" r="0.68" fill="#c20000"/>
<circle cx="183.9" cy="89.6" r="0.68" fill="#00a5c9"/>
<circle cx="195.0" cy="90.2" r="0.68" fill="#d50000"/>
<circle cx="175.2" cy="85.5" r="0.68" fill="#0000a6"/>
<circle cx="187.7" cy="79.5" r="0.68" fill="#cb9f00"/>
<circle cx="170.9" cy="81.3" r="0.68" fill="#13bfac"/>
<circle cx="183.0" cy="93.4" r="0.68" fill="#930000"/>
<circle cx="178.2" cy="83.5" r="0.68" fill="#0017ed"/>
<circle cx="182.4" cy="97.9" r="0.68" fill="#db6d00"/>
<circle cx="180.6" cy="95.8" r="0.68" fill="#930000"/>
<circle cx="187.9" cy="83.3" r="0.68" fill="#cb9f00"/>
<circle cx="178.2" cy="94.9" r="0.68" fill="#0000d5"/>
<circle cx="179.4" cy="106.0" r="0.68" fill="#e74500"/>
<circle cx="199.4" cy="99.5" r="0.68" fill="#5fbf5f"/>
<circle cx="180.2" cy="99.3" r="0.68" fill="#c4b100"/>
<circle cx="176.9" cy="105.5" r="0.68" fill="#e74500"/>
<circle cx="169.3" cy="90.3" r="0.68" fill="#03bfbb"/>
<circle cx="180.7" cy="87.3" r="0.68" fill="#0000c2"/>
<circle cx="180.4" cy="96.6" r="0.68" fill="#db6d00"/>
<circle cx="189.5" cy="80.6" r="0.68" fill="#cb9f00"/>
<circle cx="178.9" cy="118.6" r="0.68" fill="#e74500"/>
<circle cx="185.5" cy="88.0" r="0.68" fill="#c20000"/>
<circle cx="178.8" cy="93.1" r="0.68" fill="#d50000"/>
<circle cx="180.3" cy="92.9" r="0.68" fill="#930000"/>
<circle cx="185.5" cy="93.2" r="0.68" fill="#00a5c9"/>
<circle cx="183.4" cy="93.2" r="0.68" fill="#00a5c9"/>
<circle cx="163.9" cy="97.1" r="0.68" fill="#03bfbb"/>
<circle cx="188.0" cy="95.6" r="0.68" fill="#0084d5"/>
<circle cx="175.6" cy="84.1" r="0.68" fill="#13bfac"/>
<circle cx="187.2" cy="91.2" r="0.68" fill="#00a5c9"/>
<circle cx="166.4" cy="91.0" r="0.68" fill="#03bfbb"/>
<circle cx="156.8" cy="89.3" r="0.68" fill="#03bfbb"/>
<circle cx="166.4" cy="97.7" r="0.68" fill="#03bfbb"/>
<circle cx="177.8" cy="99.8" r="0.68" fill="#c4b100"/>
<circle cx="180.5" cy="81.1" r="0.68" fill="#e80000"/>
<circle cx="173.5" cy="94.2" r="0.68" fill="#0000a6"/>
<circle cx="178.1" cy="85.9" r="0.68" fill="#0000c2"/>
<circle cx="171.9" cy="95.5" r="0.68" fill="#0000d5"/>
<circle cx="185.8" cy="85.6" r="0.68" fill="#c20000"/>
<circle cx="185.6" cy="89.6" r="0.68" fill="#c20000"/>
<circle cx="184.7" cy="78.0" r="0.68" fill="#cb9f00"/>
<circle cx="185.1" cy="79.5" r="0.68" fill="#cb9f00"/>
<circle cx="192.7" cy="91.5" r="0.68" fill="#5fbf5f"/>
<circle cx="189.3" cy="90.6" r="0.68" fill="#d50000"/>
<circle cx="178.0" cy="92.2" r="0.68" fill="#930000"/>
<circle cx="178.3" cy="86.8" r="0.68" fill="#0000c2"/>
<circle cx="191.4" cy="95.6" r="0.68" fill="#5fbf5f"/>
<circle cx="183.9" cy="92.5" r="0.68" fill="#00a5c9"/>
<circle cx="192.0" cy="94.5" r="0.68" fill="#0084d5"/>
<circle cx="169.5" cy="105.9" r="0.68" fill="#0017ed"/>
<circle cx="190.4" cy="87.1" r="0.68" fill="#d50000"/>
<circle cx="179.4" cy="97.7" r="0.68" fill="#c4b100"/>
<circle cx="187.3" cy="102.1" r="0.68" fill="#0017ed"/>
<circle cx="187.0" cy="80.3" r="0.68" fill="#cb9f00"/>
<circle cx="169.2" cy="87.5" r="0.68" fill="#03bfbb"/>
<circle cx="174.6" cy="89.0" r="0.68" fill="#0000a6"/>
<circle cx="184.7" cy="92.0" r="0.68" fill="#00a5c9"/>
<circle cx="195.5" cy="100.5" r="0.68" fill="#5fbf5f"/>
<circle cx="173.9" cy="86.8" r="0.68" fill="#0000a6"/>
<circle cx="165.7" cy="103.1" r="0.68" fill="#0017ed"/>
<circle cx="165.7" cy="91.1" r="0.68" fill="#03bfbb"/>
<circle cx="173.7" cy="99.6" r="0.68" fill="#ed1700"/>
<circle cx="175.0" cy="100.3" r="0.68" fill="#ed1700"/>
<circle cx="178.2" cy="87.3" r="0.68" fill="#0000a6"/>
<circle cx="184.5" cy="98.1" r="0.68" fill="#0084d5"/>
<circle cx="176.7" cy="82.0" r="0.68" fill="#0017ed"/>
<circle cx="172.3" cy="101.6" r="0.68" fill="#0017ed"/>
<circle cx="175.3" cy="79.1" r="0.68" fill="#0017ed"/>
<circle cx="179.6" cy="94.8" r="0.68" fill="#930000"/>
<circle cx="182.1" cy="82.7" r="0.68" fill="#0000c2"/>
<circle cx="181.1" cy="88.1" r="0.68" fill="#d50000"/>
<circle cx="178.9" cy="105.0" r="0.68" fill="#e74500"/>
<circle cx="184.0" cy="88.7" r="0.68" fill="#c20000"/>
<circle cx="178.0" cy="94.9" r="0.68" fill="#ed1700"/>
<circle cx="172.7" cy="99.1" r="0.68" fill="#0000d5"/>
<circle cx="178.9" cy="85.7" r="0.68" fill="#0000c2"/>
<circle cx="204.3" cy="87.7" r="0.68" fill="#d50000"/>
<circle cx="174.3" cy="90.0" r="0.68" fill="#0000a6"/>
<circle cx="176.5" cy="85.9" r="0.68" fill="#0000c2"/>
<circle cx="185.2" cy="92.1" r="0.68" fill="#00a5c9"/>
<circle cx="168.6" cy="98.2" r="0.68" fill="#0017ed"/>
<circle cx="178.8" cy="74.1" r="0.68" fill="#e80000"/>
<circle cx="190.3" cy="97.1" r="0.68" fill="#5fbf5f"/>
<circle cx="171.8" cy="103.5" r="0.68" fill="#0017ed"/>
<circle cx="174.9" cy="79.8" r="0.68" fill="#0017ed"/>
<circle cx="184.2" cy="66.4" r="0.68" fill="#e80000"/>
<circle cx="182.6" cy="103.7" r="0.68" fill="#e74500"/>
<circle cx="169.6" cy="90.2" r="0.68" fill="#22bf9c"/>
<circle cx="171.2" cy="102.3" r="0.68" fill="#0017ed"/>
<circle cx="183.8" cy="84.3" r="0.68" fill="#cb9f00"/>
<circle cx="183.9" cy="97.7" r="0.68" fill="#db6d00"/>
<circle cx="185.3" cy="102.1" r="0.68" fill="#db6d00"/>
<circle cx="177.9" cy="80.4" r="0.68" fill="#0017ed"/>
<circle cx="184.5" cy="98.6" r="0.68" fill="#db6d00"/>
<circle cx="188.7" cy="90.0" r="0.68" fill="#c20000"/>
<circle cx="171.4" cy="97.2" r="0.68" fill="#0017ed"/>
<circle cx="193.3" cy="71.0" r="0.68" fill="#cb9f00"/>
<circle cx="185.5" cy="85.4" r="0.68" fill="#cb9f00"/>
<circle cx="189.2" cy="95.7" r="0.68" fill="#5fbf5f"/>
<circle cx="177.4" cy="107.2" r="0.68" fill="#e74500"/>
<circle cx="179.9" cy="90.2" r="0.68" fill="#930000"/>
<circle cx="180.7" cy="99.0" r="0.68" fill="#c4b100"/>
<circle cx="176.7" cy="84.7" r="0.68" fill="#0017ed"/>
<circle cx="187.3" cy="82.1" r="0.68" fill="#cb9f00"/>
<circle cx="183.1" cy="92.0" r="0.68" fill="#00a5c9"/>
<circle cx="173.1" cy="86.6" r="0.68" fill="#13bfac"/>
<circle cx="182.0" cy="101.6" r="0.68" fill="#db6d00"/>
<circle cx="166.4" cy="85.0" r="0.68" fill="#13bfac"/>
<circle cx="159.9" cy="71.9" r="0.68" fill="#13bfac"/>
<circle cx="172.8" cy="102.0" r="0.68" fill="#0017ed"/>
<circle cx="180.3" cy="87.8" r="0.68" fill="#d50000"/>
<circle cx="181.0" cy="91.2" r="0.68" fill="#d50000"/>
<circle cx="179.4" cy="87.0" r="0.68" fill="#0000a6"/>
<circle cx="184.0" cy="92.4" r="0.68" fill="#00a5c9"/>
<circle cx="205.0" cy="93.4" r="0.68" fill="#5fbf5f"/>
<circle cx="172.2" cy="84.8" r="0.68" fill="#13bfac"/>
<circle cx="185.7" cy="92.1" r="0.68" fill="#00a5c9"/>
<circle cx="183.7" cy="86.6" r="0.68" fill="#d50000"/>
<circle cx="171.7" cy="102.1" r="0.68" fill="#0000d5"/>
<circle cx="176.6" cy="90.3" r="0.68" fill="#0000a6"/>
<circle cx="181.6" cy="88.3" r="0.68" fill="#d50000"/>
<circle cx="180.6" cy="94.4" r="0.68" fill="#930000"/>
<circle cx="174.3" cy="93.3" r="0.68" fill="#0000a6"/>
<circle cx="190.1" cy="117.2" r="0.68" fill="#e74500"/>
<circle cx="181.8" cy="100.0" r="0.68" fill="#db6d00"/>
<circle cx="184.6" cy="94.8" r="0.68" fill="#00a5c9"/>
<circle cx="191.3" cy="95.1" r="0.68" fill="#5fbf5f"/>
<circle cx="192.9" cy="83.1" r="0.68" fill="#d50000"/>
<circle cx="183.5" cy="101.0" r="0.68" fill="#c4b100"/>
<circle cx="179.7" cy="102.4" r="0.68" fill="#c4b100"/>
<circle cx="177.2" cy="100.8" r="0.68" fill="#ed1700"/>
<circle cx="171.9" cy="99.0" r="0.68" fill="#0017ed"/>
<circle cx="185.8" cy="93.4" r="0.68" fill="#00a5c9"/>
<circle cx="174.7" cy="75.6" r="0.68" fill="#0017ed"/>
<circle cx="154.0" cy="95.9" r="0.68" fill="#03bfbb"/>
<circle cx="185.9" cy="89.3" r="0.68" fill="#c20000"/>
<circle cx="176.7" cy="102.9" r="0.68" fill="#e74500"/>
<circle cx="182.7" cy="96.0" r="0.68" fill="#00a5c9"/>
<circle cx="181.6" cy="75.6" r="0.68" fill="#e80000"/>
<circle cx="178.0" cy="84.1" r="0.68" fill="#d50000"/>
<circle cx="175.2" cy="81.2" r="0.68" fill="#0017ed"/>
<circle cx="162.4" cy="82.6" r="0.68" fill="#13bfac"/>
<circle cx="177.2" cy="89.1" r="0.68" fill="#0000a6"/>
<circle cx="165.5" cy="85.9" r="0.68" fill="#03bfbb"/>
<circle cx="183.6" cy="100.3" r="0.68" fill="#db6d00"/>
<circle cx="174.6" cy="103.2" r="0.68" fill="#e74500"/>
<circle cx="171.7" cy="100.9" r="0.68" fill="#0017ed"/>
<circle cx="180.8" cy="95.2" r="0.68" fill="#db6d00"/>
<circle cx="165.3" cy="102.6" r="0.68" fill="#0017ed"/>
<circle cx="175.1" cy="88.1" r="0.68" fill="#0000a6"/>
<circle cx="173.8" cy="69.7" r="0.68" fill="#0017ed"/>
<circle cx="185.2" cy="92.7" r="0.68" fill="#00a5c9"/>
<circle cx="169.9" cy="103.6" r="0.68" fill="#0017ed"/>
<circle cx="185.4" cy="101.4" r="0.68" fill="#db6d00"/>
<circle cx="178.2" cy="79.4" r="0.68" fill="#e80000"/>
<circle cx="176.6" cy="87.5" r="0.68" fill="#0000a6"/>
<circle cx="182.5" cy="91.3" r="0.68" fill="#00a5c9"/>
<circle cx="187.2" cy="88.5" r="0.68" fill="#c20000"/>
<circle cx="188.1" cy="85.2" r="0.68" fill="#d50000"/>
<circle cx="172.8" cy="92.6" r="0.68" fill="#0000d5"/>
<circle cx="189.5" cy="90.8" r="0.68" fill="#00a5c9"/>
<circle cx="180.3" cy="95.3" r="0.68" fill="#930000"/>
<circle cx="196.9" cy="117.3" r="0.68" fill="#0017ed"/>
<circle cx="172.7" cy="92.2" r="0.68" fill="#0000a6"/>
<circle cx="177.9" cy="93.0" r="0.68" fill="#930000"/>
<circle cx="178.6" cy="87.6" r="0.68" fill="#d50000"/>
<circle cx="171.2" cy="96.7" r="0.68" fill="#0017ed"/>
<circle cx="176.9" cy="90.2" r="0.68" fill="#0000a6"/>
<circle cx="186.4" cy="90.4" r="0.68" fill="#00a5c9"/>
<circle cx="187.9" cy="95.9" r="0.68" fill="#db6d00"/>
<circle cx="184.7" cy="99.9" r="0.68" fill="#db6d00"/>
<circle cx="182.0" cy="97.8" r="0.68" fill="#930000"/>
<circle cx="177.0" cy="90.7" r="0.68" fill="#0000a6"/>
<circle cx="194.5" cy="87.1" r="0.68" fill="#d50000"/>
<circle cx="170.6" cy="80.5" r="0.68" fill="#13bfac"/>
<circle cx="171.6" cy="93.7" r="0.68" fill="#0000d5"/>
<circle cx="174.6" cy="89.6" r="0.68" fill="#0000a6"/>
<circle cx="181.3" cy="84.7" r="0.68" fill="#e80000"/>
<circle cx="176.8" cy="99.9" r="0.68" fill="#ed1700"/>
<circle cx="189.9" cy="84.8" r="0.68" fill="#d50000"/>
<circle cx="169.0" cy="96.2" r="0.68" fill="#03bfbb"/>
<circle cx="185.8" cy="95.6" r="0.68" fill="#0084d5"/>
<circle cx="202.5" cy="83.1" r="0.68" fill="#d50000"/>
<circle cx="191.2" cy="95.7" r="0.68" fill="#5fbf5f"/>
<circle cx="177.9" cy="90.7" r="0.68" fill="#0000a6"/>
<circle cx="175.8" cy="100.7" r="0.68" fill="#c4b100"/>
<circle cx="187.6" cy="93.5" r="0.68" fill="#0084d5"/>
<circle cx="168.1" cy="99.1" r="0.68" fill="#0017ed"/>
<circle cx="174.4" cy="95.2" r="0.68" fill="#0000d5"/>
<circle cx="179.0" cy="92.9" r="0.68" fill="#930000"/>
<circle cx="203.5" cy="95.5" r="0.68" fill="#5fbf5f"/>
<circle cx="177.0" cy="95.8" r="0.68" fill="#930000"/>
<circle cx="187.5" cy="98.4" r="0.68" fill="#0084d5"/>
<circle cx="172.4" cy="80.5" r="0.68" fill="#13bfac"/>
<circle cx="172.8" cy="101.5" r="0.68" fill="#0017ed"/>
<circle cx="176.0" cy="76.3" r="0.68" fill="#0017ed"/>
<circle cx="187.4" cy="94.5" r="0.68" fill="#0084d5"/>
<circle cx="168.6" cy="76.9" r="0.68" fill="#13bfac"/>
<circle cx="171.2" cy="91.2" r="0.68" fill="#22bf9c"/>
<circle cx="180.0" cy="97.5" r="0.68" fill="#c4b100"/>
<circle cx="199.7" cy="95.1" r="0.68" fill="#5fbf5f"/>
<circle cx="180.4" cy="83.7" r="0.68" fill="#d50000"/>
<circle cx="192.4" cy="94.2" r="0.68" fill="#5fbf5f"/>
<circle cx="182.8" cy="106.6" r="0.68" fill="#e74500"/>
<circle cx="178.2" cy="79.8" r="0.68" fill="#e80000"/>
<circle cx="188.0" cy="97.9" r="0.68" fill="#0084d5"/>
<circle cx="172.4" cy="96.9" r="0.68" fill="#0000d5"/>
<circle cx="173.6" cy="82.7" r="0.68" fill="#13bfac"/>
<circle cx="181.3" cy="114.4" r="0.68" fill="#e74500"/>
<circle cx="169.2" cy="96.6" r="0.68" fill="#03bfbb"/>
<circle cx="171.7" cy="88.6" r="0.68" fill="#0000a6"/>
<circle cx="169.5" cy="84.6" r="0.68" fill="#13bfac"/>
<circle cx="180.3" cy="85.3" r="0.68" fill="#0000c2"/>
<circle cx="187.3" cy="99.8" r="0.68" fill="#db6d00"/>
<circle cx="188.0" cy="86.5" r="0.68" fill="#d50000"/>
<circle cx="178.6" cy="96.2" r="0.68" fill="#930000"/>
<circle cx="182.9" cy="90.3" r="0.68" fill="#930000"/>
<circle cx="177.8" cy="99.6" r="0.68" fill="#ed1700"/>
<circle cx="170.1" cy="80.8" r="0.68" fill="#13bfac"/>
<circle cx="182.8" cy="95.6" r="0.68" fill="#db6d00"/>
<circle cx="174.9" cy="93.5" r="0.68" fill="#0000d5"/>
<circle cx="189.5" cy="99.7" r="0.68" fill="#0017ed"/>
<circle cx="176.2" cy="90.2" r="0.68" fill="#0000a6"/>
<circle cx="166.9" cy="110.0" r="0.68" fill="#0017ed"/>
<circle cx="182.3" cy="93.7" r="0.68" fill="#00a5c9"/>
<circle cx="176.1" cy="94.6" r="0.68" fill="#0000d5"/>
<circle cx="170.8" cy="81.4" r="0.68" fill="#13bfac"/>
<circle cx="187.2" cy="95.3" r="0.68" fill="#0084d5"/>
<circle cx="182.2" cy="94.3" r="0.68" fill="#930000"/>
<circle cx="183.9" cy="90.7" r="0.68" fill="#00a5c9"/>
<circle cx="180.5" cy="85.6" r="0.68" fill="#d50000"/>
<circle cx="176.1" cy="78.5" r="0.68" fill="#0017ed"/>
<circle cx="176.0" cy="89.2" r="0.68" fill="#0000c2"/>
<circle cx="176.9" cy="81.2" r="0.68" fill="#0017ed"/>
<circle cx="182.9" cy="92.3" r="0.68" fill="#930000"/>
<circle cx="170.8" cy="89.7" r="0.68" fill="#22bf9c"/>
<circle cx="183.3" cy="97.0" r="0.68" fill="#930000"/>
<circle cx="180.2" cy="93.8" r="0.68" fill="#930000"/>
<circle cx="190.3" cy="98.3" r="0.68" fill="#5fbf5f"/>
<circle cx="180.1" cy="87.1" r="0.68" fill="#d50000"/>
<circle cx="181.7" cy="87.8" r="0.68" fill="#d50000"/>
<circle cx="187.5" cy="105.4" r="0.68" fill="#0017ed"/>
<circle cx="196.5" cy="90.7" r="0.68" fill="#5fbf5f"/>
<circle cx="183.3" cy="97.7" r="0.68" fill="#db6d00"/>
<circle cx="162.0" cy="101.3" r="0.68" fill="#0017ed"/>
<circle cx="191.6" cy="102.5" r="0.68" fill="#0017ed"/>
<circle cx="166.1" cy="97.5" r="0.68" fill="#03bfbb"/>
<circle cx="189.3" cy="97.1" r="0.68" fill="#5fbf5f"/>
<circle cx="175.3" cy="87.9" r="0.68" fill="#22bf9c"/>
<circle cx="179.7" cy="85.9" r="0.68" fill="#0000c2"/>
<circle cx="179.6" cy="89.4" r="0.68" fill="#0000a6"/>
<circle cx="172.3" cy="87.3" r="0.68" fill="#13bfac"/>
<circle cx="184.8" cy="105.3" r="0.68" fill="#e74500"/>
<circle cx="173.4" cy="81.6" r="0.68" fill="#13bfac"/>
<circle cx="182.4" cy="77.6" r="0.68" fill="#e80000"/>
<circle cx="184.3" cy="92.5" r="0.68" fill="#00a5c9"/>
<circle cx="194.1" cy="101.5" r="0.68" fill="#5fbf5f"/>
<circle cx="189.6" cy="98.7" r="0.68" fill="#5fbf5f"/>
<circle cx="183.1" cy="102.3" r="0.68" fill="#db6d00"/>
<circle cx="186.4" cy="84.2" r="0.68" fill="#cb9f00"/>
<circle cx="177.3" cy="81.2" r="0.68" fill="#0017ed"/>
<circle cx="179.7" cy="80.6" r="0.68" fill="#e80000"/>
<circle cx="191.5" cy="109.4" r="0.68" fill="#0017ed"/>
<circle cx="185.6" cy="86.7" r="0.68" fill="#cb9f00"/>
<circle cx="183.4" cy="87.8" r="0.68" fill="#d50000"/>
<circle cx="180.1" cy="94.7" r="0.68" fill="#930000"/>
<circle cx="187.4" cy="99.1" r="0.68" fill="#930000"/>
<circle cx="172.2" cy="90.7" r="0.68" fill="#22bf9c"/>
<circle cx="183.0" cy="109.2" r="0.68" fill="#e74500"/>
<circle cx="188.0" cy="97.1" r="0.68" fill="#0084d5"/>
<circle cx="164.3" cy="99.4" r="0.68" fill="#0017ed"/>
<circle cx="166.4" cy="94.4" r="0.68" fill="#03bfbb"/>
<circle cx="164.6" cy="78.0" r="0.68" fill="#13bfac"/>
<circle cx="185.2" cy="96.3" r="0.68" fill="#0084d5"/>
<circle cx="185.7" cy="109.3" r="0.68" fill="#e74500"/>
<circle cx="199.9" cy="109.2" r="0.68" fill="#0017ed"/>
<circle cx="196.1" cy="102.2" r="0.68" fill="#5fbf5f"/>
</g>
<circle cx="180.1" cy="93.4" r="31.7" fill="none" stroke="#666" stroke-width="0.9"/>
<text x="144.50" y="62.80" font-size="5.2" text-anchor="middle" font-weight="normal" font-style="normal" fill="#333" >4</text>
<text x="144.50" y="78.88" font-size="5.2" text-anchor="middle" font-weight="normal" font-style="normal" fill="#333" >2</text>
<text x="144.50" y="94.95" font-size="5.2" text-anchor="middle" font-weight="normal" font-style="normal" fill="#333" >0</text>
<text x="144.50" y="111.02" font-size="5.2" text-anchor="middle" font-weight="normal" font-style="normal" fill="#333" >−2</text>
<text x="144.50" y="127.10" font-size="5.2" text-anchor="middle" font-weight="normal" font-style="normal" fill="#333" >−4</text>
<text x="148.00" y="132.00" font-size="5.2" text-anchor="middle" font-weight="normal" font-style="normal" fill="#333" >−4</text>
<text x="164.00" y="132.00" font-size="5.2" text-anchor="middle" font-weight="normal" font-style="normal" fill="#333" >−2</text>
<text x="180.00" y="132.00" font-size="5.2" text-anchor="middle" font-weight="normal" font-style="normal" fill="#333" >0</text>
<text x="196.00" y="132.00" font-size="5.2" text-anchor="middle" font-weight="normal" font-style="normal" fill="#333" >2</text>
<text x="212.00" y="132.00" font-size="5.2" text-anchor="middle" font-weight="normal" font-style="normal" fill="#333" >4</text>
<text x="180.50" y="51.60" font-size="4.0" text-anchor="middle" font-weight="normal" font-style="normal" fill="#444" textLength="65" lengthAdjust="spacingAndGlyphs">Recursive Prime Factor Splitting</text>
<text x="180.50" y="59.00" font-size="6.6" text-anchor="middle" font-weight="normal" font-style="normal" fill="#222" textLength="68" lengthAdjust="spacingAndGlyphs">Voronoi Estimate (<tspan font-style="italic">K</tspan> = 32)</text>
<rect x="147.3" y="168.5" width="64.2" height="64.3" fill="none" stroke="#e0e0e0" stroke-width="0.5"/>
<clipPath id="clipc22"><circle cx="179.4" cy="200.5" r="32.0"/></clipPath>
<g clip-path="url(#clipc22)">
<rect x="139.40" y="160.50" width="80.00" height="35.12" fill="#fcf1f1"/>
<rect x="139.40" y="205.46" width="80.00" height="35.04" fill="#eef0fb"/>
<line x1="169.88" y1="168.5" x2="169.88" y2="232.5" stroke="#3030f0" stroke-width="0.8" stroke-dasharray="1.8,1.2" opacity="0.95"/>
<line x1="173.48" y1="168.5" x2="173.48" y2="232.5" stroke="#f04040" stroke-width="0.8" stroke-dasharray="1.8,1.2" opacity="0.95"/>
<line x1="176.60" y1="168.5" x2="176.60" y2="232.5" stroke="#40c040" stroke-width="0.8" stroke-dasharray="1.8,1.2" opacity="0.95"/>
<line x1="179.00" y1="168.5" x2="179.00" y2="232.5" stroke="#2040f0" stroke-width="0.8" stroke-dasharray="1.8,1.2" opacity="0.95"/>
<line x1="181.96" y1="168.5" x2="181.96" y2="232.5" stroke="#20a0c0" stroke-width="0.8" stroke-dasharray="1.8,1.2" opacity="0.95"/>
<line x1="184.68" y1="168.5" x2="184.68" y2="232.5" stroke="#f02020" stroke-width="0.8" stroke-dasharray="1.8,1.2" opacity="0.95"/>
<line x1="188.68" y1="168.5" x2="188.68" y2="232.5" stroke="#ff7070" stroke-width="0.8" stroke-dasharray="1.8,1.2" opacity="0.95"/>
<line x1="147.4" y1="195.62" x2="211.4" y2="195.62" stroke="#ff9020" stroke-width="0.8" stroke-dasharray="1.8,1.2" opacity="0.95"/>
<line x1="147.4" y1="200.18" x2="211.4" y2="200.18" stroke="#ffc030" stroke-width="0.8" stroke-dasharray="1.8,1.2" opacity="0.95"/>
<line x1="147.4" y1="205.46" x2="211.4" y2="205.46" stroke="#ff8040" stroke-width="0.8" stroke-dasharray="1.8,1.2" opacity="0.95"/>
<line x1="147.4" y1="205.46" x2="211.4" y2="205.46" stroke="#5060ff" stroke-width="0.8" stroke-dasharray="1.5,1.5" stroke-dashoffset="1.5" opacity="0.95"/>
<circle cx="196.5" cy="190.8" r="0.68" fill="#d50000"/>
<circle cx="178.8" cy="211.9" r="0.68" fill="#930000"/>
<circle cx="174.5" cy="197.3" r="0.68" fill="#d50000"/>
<circle cx="173.4" cy="206.6" r="0.68" fill="#0000e8"/>
<circle cx="186.0" cy="200.8" r="0.68" fill="#39bf85"/>
<circle cx="192.6" cy="189.0" r="0.68" fill="#d50000"/>
<circle cx="183.1" cy="189.7" r="0.68" fill="#d50000"/>
<circle cx="186.8" cy="197.1" r="0.68" fill="#d50000"/>
<circle cx="187.5" cy="196.4" r="0.68" fill="#d50000"/>
<circle cx="185.3" cy="198.1" r="0.68" fill="#d50000"/>
<circle cx="183.0" cy="209.0" r="0.68" fill="#0091d0"/>
<circle cx="180.0" cy="192.5" r="0.68" fill="#0017ed"/>
<circle cx="188.5" cy="206.6" r="0.68" fill="#0045e7"/>
<circle cx="177.2" cy="204.3" r="0.68" fill="#acbf13"/>
<circle cx="193.6" cy="194.6" r="0.68" fill="#d50000"/>
<circle cx="175.9" cy="205.5" r="0.68" fill="#0017ed"/>
<circle cx="176.6" cy="203.9" r="0.68" fill="#c4b100"/>
<circle cx="176.1" cy="219.0" r="0.68" fill="#0017ed"/>
<circle cx="172.0" cy="212.2" r="0.68" fill="#0000e8"/>
<circle cx="175.8" cy="208.9" r="0.68" fill="#0017ed"/>
<circle cx="185.2" cy="205.3" r="0.68" fill="#39bf85"/>
<circle cx="191.2" cy="196.7" r="0.68" fill="#e80000"/>
<circle cx="174.2" cy="202.7" r="0.68" fill="#c4b100"/>
<circle cx="165.5" cy="202.7" r="0.68" fill="#d58400"/>
<circle cx="188.9" cy="199.9" r="0.68" fill="#e80000"/>
<circle cx="175.0" cy="187.3" r="0.68" fill="#0000e8"/>
<circle cx="181.6" cy="192.6" r="0.68" fill="#0017ed"/>
<circle cx="181.6" cy="195.1" r="0.68" fill="#0017ed"/>
<circle cx="186.3" cy="202.4" r="0.68" fill="#39bf85"/>
<circle cx="172.8" cy="194.0" r="0.68" fill="#ed1700"/>
<circle cx="188.1" cy="202.7" r="0.68" fill="#39bf85"/>
<circle cx="185.5" cy="201.9" r="0.68" fill="#39bf85"/>
<circle cx="149.8" cy="196.4" r="0.68" fill="#e74500"/>
<circle cx="177.3" cy="207.0" r="0.68" fill="#930000"/>
<circle cx="174.3" cy="215.0" r="0.68" fill="#0017ed"/>
<circle cx="182.3" cy="209.6" r="0.68" fill="#0091d0"/>
<circle cx="179.0" cy="202.7" r="0.68" fill="#acbf13"/>
<circle cx="173.8" cy="198.8" r="0.68" fill="#d50000"/>
<circle cx="176.8" cy="195.7" r="0.68" fill="#0000af"/>
<circle cx="184.1" cy="210.6" r="0.68" fill="#0091d0"/>
<circle cx="179.7" cy="198.8" r="0.68" fill="#0091d0"/>
<circle cx="177.3" cy="199.8" r="0.68" fill="#0000af"/>
<circle cx="209.3" cy="206.0" r="0.68" fill="#0017ed"/>
<circle cx="164.3" cy="209.7" r="0.68" fill="#0017ed"/>
<circle cx="180.3" cy="206.3" r="0.68" fill="#0000e8"/>
<circle cx="181.9" cy="199.1" r="0.68" fill="#0091d0"/>
<circle cx="171.9" cy="188.7" r="0.68" fill="#ed1700"/>
<circle cx="181.0" cy="204.5" r="0.68" fill="#00b1c4"/>
<circle cx="168.1" cy="182.0" r="0.68" fill="#e74500"/>
<circle cx="184.0" cy="204.7" r="0.68" fill="#22bf9c"/>
<circle cx="184.1" cy="201.3" r="0.68" fill="#22bf9c"/>
<circle cx="187.7" cy="202.8" r="0.68" fill="#39bf85"/>
<circle cx="177.4" cy="198.7" r="0.68" fill="#0000af"/>
<circle cx="175.0" cy="200.6" r="0.68" fill="#c4b100"/>
<circle cx="181.2" cy="201.3" r="0.68" fill="#00b1c4"/>
<circle cx="182.6" cy="207.1" r="0.68" fill="#0091d0"/>
<circle cx="186.3" cy="196.1" r="0.68" fill="#d50000"/>
<circle cx="189.5" cy="199.3" r="0.68" fill="#e80000"/>
<circle cx="185.5" cy="197.8" r="0.68" fill="#d50000"/>
<circle cx="175.1" cy="190.8" r="0.68" fill="#0000e8"/>
<circle cx="179.0" cy="195.8" r="0.68" fill="#0091d0"/>
<circle cx="168.9" cy="197.7" r="0.68" fill="#e74500"/>
<circle cx="189.2" cy="180.0" r="0.68" fill="#d50000"/>
<circle cx="187.4" cy="204.2" r="0.68" fill="#39bf85"/>
<circle cx="188.4" cy="210.8" r="0.68" fill="#0045e7"/>
<circle cx="183.2" cy="203.5" r="0.68" fill="#22bf9c"/>
<circle cx="191.3" cy="208.3" r="0.68" fill="#0017ed"/>
<circle cx="174.3" cy="201.1" r="0.68" fill="#c4b100"/>
<circle cx="184.1" cy="201.4" r="0.68" fill="#22bf9c"/>
<circle cx="177.7" cy="199.8" r="0.68" fill="#0000af"/>
<circle cx="176.6" cy="194.7" r="0.68" fill="#0000c2"/>
<circle cx="155.8" cy="190.2" r="0.68" fill="#e74500"/>
<circle cx="169.5" cy="192.8" r="0.68" fill="#e74500"/>
<circle cx="152.7" cy="196.4" r="0.68" fill="#e74500"/>
<circle cx="175.0" cy="202.3" r="0.68" fill="#c4b100"/>
<circle cx="174.2" cy="203.0" r="0.68" fill="#c4b100"/>
<circle cx="181.1" cy="198.8" r="0.68" fill="#0091d0"/>
<circle cx="165.7" cy="201.3" r="0.68" fill="#d58400"/>
<circle cx="175.4" cy="207.3" r="0.68" fill="#0017ed"/>
<circle cx="175.8" cy="204.1" r="0.68" fill="#c4b100"/>
<circle cx="201.1" cy="198.1" r="0.68" fill="#e80000"/>
<circle cx="182.8" cy="205.6" r="0.68" fill="#0091d0"/>
<circle cx="168.7" cy="195.8" r="0.68" fill="#e74500"/>
<circle cx="193.3" cy="195.0" r="0.68" fill="#d50000"/>
<circle cx="189.3" cy="207.3" r="0.68" fill="#0017ed"/>
<circle cx="176.9" cy="191.3" r="0.68" fill="#0000c2"/>
<circle cx="174.4" cy="200.6" r="0.68" fill="#c4b100"/>
<circle cx="179.4" cy="191.4" r="0.68" fill="#0017ed"/>
<circle cx="171.9" cy="197.6" r="0.68" fill="#ed1700"/>
<circle cx="175.3" cy="190.5" r="0.68" fill="#0000e8"/>
<circle cx="179.7" cy="205.7" r="0.68" fill="#0000e8"/>
<circle cx="180.0" cy="201.1" r="0.68" fill="#00b1c4"/>
<circle cx="189.6" cy="200.1" r="0.68" fill="#e80000"/>
<circle cx="180.5" cy="204.8" r="0.68" fill="#00b1c4"/>
<circle cx="187.7" cy="210.8" r="0.68" fill="#0045e7"/>
<circle cx="191.0" cy="207.4" r="0.68" fill="#0017ed"/>
<circle cx="181.3" cy="196.4" r="0.68" fill="#0091d0"/>
<circle cx="182.1" cy="202.4" r="0.68" fill="#22bf9c"/>
<circle cx="182.3" cy="187.6" r="0.68" fill="#d50000"/>
<circle cx="173.4" cy="181.5" r="0.68" fill="#ed1700"/>
<circle cx="196.4" cy="201.2" r="0.68" fill="#13bfac"/>
<circle cx="185.2" cy="196.3" r="0.68" fill="#d50000"/>
<circle cx="183.5" cy="212.7" r="0.68" fill="#0091d0"/>
<circle cx="186.5" cy="194.6" r="0.68" fill="#e80000"/>
<circle cx="190.5" cy="191.8" r="0.68" fill="#d50000"/>
<circle cx="161.0" cy="208.8" r="0.68" fill="#0017ed"/>
<circle cx="165.5" cy="209.0" r="0.68" fill="#0017ed"/>
<circle cx="181.3" cy="206.3" r="0.68" fill="#0000e8"/>
<circle cx="183.3" cy="194.5" r="0.68" fill="#d50000"/>
<circle cx="170.2" cy="192.3" r="0.68" fill="#ed1700"/>
<circle cx="169.0" cy="206.7" r="0.68" fill="#0017ed"/>
<circle cx="185.2" cy="202.4" r="0.68" fill="#39bf85"/>
<circle cx="184.8" cy="195.9" r="0.68" fill="#d50000"/>
<circle cx="175.4" cy="196.3" r="0.68" fill="#d50000"/>
<circle cx="175.3" cy="202.9" r="0.68" fill="#c4b100"/>
<circle cx="174.5" cy="196.0" r="0.68" fill="#d50000"/>
<circle cx="163.2" cy="210.6" r="0.68" fill="#0017ed"/>
<circle cx="172.6" cy="210.3" r="0.68" fill="#0000e8"/>
<circle cx="180.4" cy="195.3" r="0.68" fill="#0017ed"/>
<circle cx="177.7" cy="194.5" r="0.68" fill="#0000c2"/>
<circle cx="191.9" cy="182.3" r="0.68" fill="#d50000"/>
<circle cx="169.1" cy="201.8" r="0.68" fill="#d58400"/>
<circle cx="166.2" cy="205.6" r="0.68" fill="#0017ed"/>
<circle cx="183.3" cy="199.1" r="0.68" fill="#a60000"/>
<circle cx="165.9" cy="199.9" r="0.68" fill="#e74500"/>
<circle cx="176.6" cy="199.2" r="0.68" fill="#d50000"/>
<circle cx="179.1" cy="200.2" r="0.68" fill="#00b1c4"/>
<circle cx="161.5" cy="182.0" r="0.68" fill="#e74500"/>
<circle cx="167.3" cy="197.4" r="0.68" fill="#e74500"/>
<circle cx="180.9" cy="190.1" r="0.68" fill="#0017ed"/>
<circle cx="158.3" cy="204.6" r="0.68" fill="#d58400"/>
<circle cx="183.5" cy="206.8" r="0.68" fill="#0091d0"/>
<circle cx="154.2" cy="187.3" r="0.68" fill="#e74500"/>
<circle cx="184.8" cy="208.2" r="0.68" fill="#0045e7"/>
<circle cx="182.4" cy="213.6" r="0.68" fill="#0091d0"/>
<circle cx="180.5" cy="207.7" r="0.68" fill="#0000e8"/>
<circle cx="182.4" cy="212.8" r="0.68" fill="#0091d0"/>
<circle cx="179.8" cy="196.4" r="0.68" fill="#0091d0"/>
<circle cx="159.7" cy="177.8" r="0.68" fill="#e74500"/>
<circle cx="189.4" cy="191.9" r="0.68" fill="#d50000"/>
<circle cx="179.7" cy="193.8" r="0.68" fill="#0017ed"/>
<circle cx="182.3" cy="202.2" r="0.68" fill="#22bf9c"/>
<circle cx="177.8" cy="206.6" r="0.68" fill="#930000"/>
<circle cx="176.8" cy="196.0" r="0.68" fill="#0000af"/>
<circle cx="185.7" cy="208.0" r="0.68" fill="#0045e7"/>
<circle cx="185.9" cy="210.7" r="0.68" fill="#0045e7"/>
<circle cx="180.6" cy="206.0" r="0.68" fill="#0000e8"/>
<circle cx="169.7" cy="192.3" r="0.68" fill="#e74500"/>
<circle cx="165.7" cy="194.6" r="0.68" fill="#e74500"/>
<circle cx="171.2" cy="201.7" r="0.68" fill="#e25600"/>
<circle cx="187.3" cy="207.6" r="0.68" fill="#0045e7"/>
<circle cx="185.4" cy="211.6" r="0.68" fill="#0045e7"/>
<circle cx="179.5" cy="197.7" r="0.68" fill="#0091d0"/>
<circle cx="176.8" cy="200.7" r="0.68" fill="#acbf13"/>
<circle cx="168.9" cy="209.6" r="0.68" fill="#0017ed"/>
<circle cx="185.3" cy="191.9" r="0.68" fill="#e80000"/>
<circle cx="171.3" cy="204.8" r="0.68" fill="#e25600"/>
<circle cx="167.6" cy="220.5" r="0.68" fill="#0017ed"/>
<circle cx="185.6" cy="202.0" r="0.68" fill="#39bf85"/>
<circle cx="187.7" cy="186.3" r="0.68" fill="#e80000"/>
<circle cx="178.3" cy="191.0" r="0.68" fill="#0000c2"/>
<circle cx="169.8" cy="193.6" r="0.68" fill="#e74500"/>
<circle cx="169.8" cy="206.1" r="0.68" fill="#0017ed"/>
<circle cx="190.8" cy="194.5" r="0.68" fill="#d50000"/>
<circle cx="182.2" cy="199.4" r="0.68" fill="#a60000"/>
<circle cx="190.7" cy="202.1" r="0.68" fill="#13bfac"/>
<circle cx="175.9" cy="208.6" r="0.68" fill="#0017ed"/>
<circle cx="178.9" cy="191.6" r="0.68" fill="#0000c2"/>
<circle cx="172.4" cy="199.7" r="0.68" fill="#ed1700"/>
<circle cx="201.9" cy="207.4" r="0.68" fill="#0017ed"/>
<circle cx="166.8" cy="195.1" r="0.68" fill="#e74500"/>
<circle cx="184.2" cy="182.3" r="0.68" fill="#d50000"/>
<circle cx="191.7" cy="211.2" r="0.68" fill="#0017ed"/>
<circle cx="172.3" cy="198.6" r="0.68" fill="#ed1700"/>
<circle cx="168.7" cy="187.5" r="0.68" fill="#e74500"/>
<circle cx="171.9" cy="187.4" r="0.68" fill="#ed1700"/>
<circle cx="168.8" cy="208.0" r="0.68" fill="#0017ed"/>
<circle cx="182.2" cy="204.4" r="0.68" fill="#22bf9c"/>
<circle cx="178.4" cy="227.1" r="0.68" fill="#930000"/>
<circle cx="167.3" cy="201.3" r="0.68" fill="#d58400"/>
<circle cx="177.4" cy="212.0" r="0.68" fill="#930000"/>
<circle cx="190.9" cy="208.6" r="0.68" fill="#0017ed"/>
<circle cx="176.2" cy="183.2" r="0.68" fill="#0000e8"/>
<circle cx="176.5" cy="209.7" r="0.68" fill="#0017ed"/>
<circle cx="167.6" cy="201.0" r="0.68" fill="#d58400"/>
<circle cx="176.0" cy="199.4" r="0.68" fill="#d50000"/>
<circle cx="190.6" cy="199.1" r="0.68" fill="#e80000"/>
<circle cx="179.7" cy="192.3" r="0.68" fill="#0017ed"/>
<circle cx="165.0" cy="205.7" r="0.68" fill="#0017ed"/>
<circle cx="167.7" cy="202.4" r="0.68" fill="#d58400"/>
<circle cx="174.4" cy="203.5" r="0.68" fill="#c4b100"/>
<circle cx="183.6" cy="182.3" r="0.68" fill="#d50000"/>
<circle cx="166.8" cy="193.3" r="0.68" fill="#e74500"/>
<circle cx="190.9" cy="200.1" r="0.68" fill="#e80000"/>
<circle cx="188.8" cy="201.6" r="0.68" fill="#13bfac"/>
<circle cx="185.3" cy="200.0" r="0.68" fill="#d50000"/>
<circle cx="173.7" cy="197.9" r="0.68" fill="#d50000"/>
<circle cx="179.5" cy="214.5" r="0.68" fill="#0000e8"/>
<circle cx="183.5" cy="209.7" r="0.68" fill="#0091d0"/>
<circle cx="186.5" cy="206.1" r="0.68" fill="#0045e7"/>
<circle cx="196.5" cy="211.3" r="0.68" fill="#0017ed"/>
<circle cx="149.8" cy="208.7" r="0.68" fill="#0017ed"/>
<circle cx="173.8" cy="204.9" r="0.68" fill="#c4b100"/>
<circle cx="170.4" cy="200.0" r="0.68" fill="#ed1700"/>
<circle cx="176.7" cy="203.0" r="0.68" fill="#acbf13"/>
<circle cx="180.8" cy="198.2" r="0.68" fill="#0091d0"/>
<circle cx="196.7" cy="198.4" r="0.68" fill="#e80000"/>
<circle cx="178.5" cy="201.1" r="0.68" fill="#acbf13"/>
<circle cx="186.1" cy="203.8" r="0.68" fill="#39bf85"/>
<circle cx="180.1" cy="206.2" r="0.68" fill="#0000e8"/>
<circle cx="179.0" cy="195.2" r="0.68" fill="#0000c2"/>
<circle cx="192.5" cy="204.2" r="0.68" fill="#13bfac"/>
<circle cx="170.8" cy="199.4" r="0.68" fill="#ed1700"/>
<circle cx="188.3" cy="191.0" r="0.68" fill="#e80000"/>
<circle cx="195.0" cy="199.5" r="0.68" fill="#e80000"/>
<circle cx="175.3" cy="206.7" r="0.68" fill="#0017ed"/>
<circle cx="166.4" cy="176.3" r="0.68" fill="#e74500"/>
<circle cx="169.7" cy="213.2" r="0.68" fill="#0017ed"/>
<circle cx="176.1" cy="192.4" r="0.68" fill="#0000e8"/>
<circle cx="179.2" cy="209.5" r="0.68" fill="#0000e8"/>
<circle cx="179.3" cy="201.3" r="0.68" fill="#00b1c4"/>
<circle cx="187.8" cy="193.9" r="0.68" fill="#e80000"/>
<circle cx="174.8" cy="215.7" r="0.68" fill="#0017ed"/>
<circle cx="181.6" cy="194.5" r="0.68" fill="#0017ed"/>
<circle cx="166.6" cy="217.9" r="0.68" fill="#0017ed"/>
<circle cx="174.1" cy="203.0" r="0.68" fill="#c4b100"/>
<circle cx="178.0" cy="206.5" r="0.68" fill="#930000"/>
<circle cx="161.1" cy="198.9" r="0.68" fill="#e74500"/>
<circle cx="180.1" cy="196.3" r="0.68" fill="#0091d0"/>
<circle cx="185.9" cy="193.4" r="0.68" fill="#e80000"/>
<circle cx="179.7" cy="193.7" r="0.68" fill="#0017ed"/>
<circle cx="180.8" cy="205.0" r="0.68" fill="#00b1c4"/>
<circle cx="179.1" cy="208.6" r="0.68" fill="#0000e8"/>
<circle cx="170.0" cy="198.9" r="0.68" fill="#ed1700"/>
<circle cx="179.5" cy="206.0" r="0.68" fill="#0000e8"/>
<circle cx="174.9" cy="217.5" r="0.68" fill="#0017ed"/>
<circle cx="179.7" cy="205.4" r="0.68" fill="#00b1c4"/>
<circle cx="180.1" cy="205.3" r="0.68" fill="#00b1c4"/>
<circle cx="169.1" cy="201.8" r="0.68" fill="#d58400"/>
<circle cx="178.7" cy="201.0" r="0.68" fill="#acbf13"/>
<circle cx="191.7" cy="200.2" r="0.68" fill="#13bfac"/>
<circle cx="177.4" cy="210.9" r="0.68" fill="#930000"/>
<circle cx="173.6" cy="199.3" r="0.68" fill="#d50000"/>
<circle cx="186.7" cy="202.7" r="0.68" fill="#39bf85"/>
<circle cx="179.1" cy="191.0" r="0.68" fill="#0017ed"/>
<circle cx="154.6" cy="199.3" r="0.68" fill="#e74500"/>
<circle cx="172.7" cy="211.1" r="0.68" fill="#0000e8"/>
<circle cx="191.9" cy="204.3" r="0.68" fill="#13bfac"/>
<circle cx="166.1" cy="202.2" r="0.68" fill="#d58400"/>
<circle cx="179.5" cy="198.3" r="0.68" fill="#0091d0"/>
<circle cx="173.2" cy="196.8" r="0.68" fill="#ed1700"/>
<circle cx="177.7" cy="215.2" r="0.68" fill="#930000"/>
<circle cx="172.9" cy="217.0" r="0.68" fill="#0000e8"/>
<circle cx="166.5" cy="193.9" r="0.68" fill="#e74500"/>
<circle cx="159.2" cy="202.1" r="0.68" fill="#d58400"/>
<circle cx="177.2" cy="194.3" r="0.68" fill="#0000c2"/>
<circle cx="178.8" cy="196.9" r="0.68" fill="#0000af"/>
<circle cx="177.8" cy="189.6" r="0.68" fill="#0000c2"/>
<circle cx="170.7" cy="197.2" r="0.68" fill="#ed1700"/>
<circle cx="174.1" cy="210.8" r="0.68" fill="#0017ed"/>
<circle cx="208.6" cy="208.5" r="0.68" fill="#0017ed"/>
<circle cx="170.2" cy="197.8" r="0.68" fill="#ed1700"/>
<circle cx="173.8" cy="216.6" r="0.68" fill="#0017ed"/>
<circle cx="161.2" cy="202.6" r="0.68" fill="#d58400"/>
<circle cx="177.0" cy="196.8" r="0.68" fill="#0000af"/>
<circle cx="181.6" cy="188.1" r="0.68" fill="#0017ed"/>
<circle cx="194.9" cy="191.2" r="0.68" fill="#d50000"/>
<circle cx="180.5" cy="212.6" r="0.68" fill="#0000e8"/>
<circle cx="178.8" cy="193.0" r="0.68" fill="#0000c2"/>
<circle cx="181.6" cy="208.1" r="0.68" fill="#0000e8"/>
<circle cx="186.1" cy="201.3" r="0.68" fill="#39bf85"/>
<circle cx="177.9" cy="213.0" r="0.68" fill="#930000"/>
<circle cx="178.7" cy="194.6" r="0.68" fill="#0000c2"/>
<circle cx="188.2" cy="201.8" r="0.68" fill="#39bf85"/>
<circle cx="173.4" cy="199.6" r="0.68" fill="#ed1700"/>
<circle cx="177.3" cy="196.2" r="0.68" fill="#0000af"/>
<circle cx="171.8" cy="201.8" r="0.68" fill="#e25600"/>
<circle cx="171.3" cy="210.0" r="0.68" fill="#0000e8"/>
<circle cx="190.2" cy="190.8" r="0.68" fill="#d50000"/>
<circle cx="168.7" cy="194.0" r="0.68" fill="#e74500"/>
<circle cx="185.3" cy="191.5" r="0.68" fill="#e80000"/>
<circle cx="195.0" cy="213.8" r="0.68" fill="#0017ed"/>
<circle cx="185.5" cy="227.5" r="0.68" fill="#0045e7"/>
<circle cx="177.6" cy="189.0" r="0.68" fill="#0000c2"/>
<circle cx="172.9" cy="195.9" r="0.68" fill="#ed1700"/>
<circle cx="159.4" cy="214.0" r="0.68" fill="#0017ed"/>
<circle cx="171.5" cy="198.2" r="0.68" fill="#ed1700"/>
<circle cx="171.7" cy="200.6" r="0.68" fill="#e25600"/>
<circle cx="186.1" cy="208.4" r="0.68" fill="#0045e7"/>
<circle cx="187.7" cy="207.4" r="0.68" fill="#0045e7"/>
<circle cx="168.8" cy="188.0" r="0.68" fill="#e74500"/>
<circle cx="183.5" cy="206.5" r="0.68" fill="#0091d0"/>
<circle cx="169.4" cy="195.7" r="0.68" fill="#e74500"/>
<circle cx="203.1" cy="212.4" r="0.68" fill="#0017ed"/>
<circle cx="198.5" cy="221.8" r="0.68" fill="#0017ed"/>
<circle cx="175.8" cy="196.4" r="0.68" fill="#d50000"/>
<circle cx="192.4" cy="204.8" r="0.68" fill="#13bfac"/>
<circle cx="190.6" cy="206.8" r="0.68" fill="#0017ed"/>
<circle cx="187.9" cy="203.4" r="0.68" fill="#39bf85"/>
<circle cx="186.3" cy="215.8" r="0.68" fill="#0045e7"/>
<circle cx="175.6" cy="196.5" r="0.68" fill="#d50000"/>
<circle cx="190.0" cy="194.1" r="0.68" fill="#d50000"/>
<circle cx="173.0" cy="204.5" r="0.68" fill="#e25600"/>
<circle cx="190.2" cy="203.0" r="0.68" fill="#13bfac"/>
<circle cx="181.9" cy="219.2" r="0.68" fill="#0000e8"/>
<circle cx="166.8" cy="199.7" r="0.68" fill="#e74500"/>
<circle cx="183.1" cy="215.9" r="0.68" fill="#0091d0"/>
<circle cx="179.0" cy="202.3" r="0.68" fill="#acbf13"/>
<circle cx="174.0" cy="183.6" r="0.68" fill="#0000e8"/>
<circle cx="178.7" cy="203.6" r="0.68" fill="#acbf13"/>
<circle cx="185.3" cy="181.9" r="0.68" fill="#e80000"/>
<circle cx="170.6" cy="209.5" r="0.68" fill="#0000e8"/>
<circle cx="171.1" cy="203.4" r="0.68" fill="#e25600"/>
<circle cx="184.8" cy="201.7" r="0.68" fill="#39bf85"/>
<circle cx="181.7" cy="190.4" r="0.68" fill="#0017ed"/>
<circle cx="166.0" cy="192.8" r="0.68" fill="#e74500"/>
<circle cx="180.7" cy="200.0" r="0.68" fill="#0091d0"/>
<circle cx="166.2" cy="212.4" r="0.68" fill="#0017ed"/>
<circle cx="184.5" cy="191.1" r="0.68" fill="#d50000"/>
<circle cx="181.3" cy="196.7" r="0.68" fill="#0091d0"/>
<circle cx="182.8" cy="195.7" r="0.68" fill="#a60000"/>
<circle cx="167.4" cy="213.0" r="0.68" fill="#0017ed"/>
<circle cx="173.0" cy="198.1" r="0.68" fill="#ed1700"/>
<circle cx="185.5" cy="202.7" r="0.68" fill="#39bf85"/>
<circle cx="168.2" cy="194.6" r="0.68" fill="#e74500"/>
<circle cx="185.5" cy="180.0" r="0.68" fill="#e80000"/>
<circle cx="177.2" cy="207.7" r="0.68" fill="#930000"/>
<circle cx="179.9" cy="202.4" r="0.68" fill="#00b1c4"/>
<circle cx="167.1" cy="202.0" r="0.68" fill="#d58400"/>
<circle cx="183.4" cy="207.2" r="0.68" fill="#0091d0"/>
<circle cx="181.8" cy="197.7" r="0.68" fill="#0091d0"/>
<circle cx="190.0" cy="195.9" r="0.68" fill="#e80000"/>
<circle cx="177.3" cy="207.8" r="0.68" fill="#930000"/>
<circle cx="179.5" cy="199.2" r="0.68" fill="#0091d0"/>
<circle cx="170.9" cy="214.4" r="0.68" fill="#0000e8"/>
<circle cx="192.3" cy="199.4" r="0.68" fill="#e80000"/>
<circle cx="176.3" cy="195.5" r="0.68" fill="#0000e8"/>
<circle cx="184.9" cy="195.5" r="0.68" fill="#e80000"/>
<circle cx="170.4" cy="208.3" r="0.68" fill="#0000e8"/>
<circle cx="177.2" cy="188.7" r="0.68" fill="#0000c2"/>
<circle cx="187.2" cy="175.7" r="0.68" fill="#e80000"/>
<circle cx="182.8" cy="209.5" r="0.68" fill="#0091d0"/>
<circle cx="177.1" cy="189.0" r="0.68" fill="#0000c2"/>
<circle cx="186.1" cy="191.9" r="0.68" fill="#e80000"/>
<circle cx="180.2" cy="194.8" r="0.68" fill="#0017ed"/>
<circle cx="187.4" cy="206.6" r="0.68" fill="#0045e7"/>
<circle cx="176.2" cy="188.6" r="0.68" fill="#0000e8"/>
<circle cx="184.4" cy="208.9" r="0.68" fill="#0091d0"/>
<circle cx="175.9" cy="200.6" r="0.68" fill="#c4b100"/>
<circle cx="197.0" cy="190.6" r="0.68" fill="#d50000"/>
<circle cx="179.5" cy="197.1" r="0.68" fill="#0091d0"/>
<circle cx="180.0" cy="202.7" r="0.68" fill="#00b1c4"/>
<circle cx="171.9" cy="195.9" r="0.68" fill="#ed1700"/>
<circle cx="187.3" cy="201.4" r="0.68" fill="#39bf85"/>
<circle cx="180.8" cy="198.5" r="0.68" fill="#0091d0"/>
<circle cx="177.9" cy="205.9" r="0.68" fill="#930000"/>
<circle cx="197.8" cy="215.3" r="0.68" fill="#0017ed"/>
<circle cx="169.3" cy="207.4" r="0.68" fill="#0017ed"/>
<circle cx="187.1" cy="209.2" r="0.68" fill="#0045e7"/>
<circle cx="191.0" cy="192.3" r="0.68" fill="#d50000"/>
<circle cx="186.4" cy="195.4" r="0.68" fill="#e80000"/>
<circle cx="187.0" cy="185.3" r="0.68" fill="#e80000"/>
<circle cx="182.3" cy="213.6" r="0.68" fill="#0091d0"/>
<circle cx="182.2" cy="201.3" r="0.68" fill="#22bf9c"/>
<circle cx="170.1" cy="208.2" r="0.68" fill="#0000e8"/>
<circle cx="183.2" cy="195.7" r="0.68" fill="#a60000"/>
<circle cx="181.1" cy="199.4" r="0.68" fill="#0091d0"/>
<circle cx="168.1" cy="207.4" r="0.68" fill="#0017ed"/>
<circle cx="176.7" cy="182.2" r="0.68" fill="#0000c2"/>
<circle cx="162.9" cy="200.5" r="0.68" fill="#d58400"/>
<circle cx="180.1" cy="194.7" r="0.68" fill="#0017ed"/>
<circle cx="172.6" cy="193.9" r="0.68" fill="#ed1700"/>
<circle cx="180.1" cy="190.1" r="0.68" fill="#0017ed"/>
<circle cx="168.4" cy="191.2" r="0.68" fill="#e74500"/>
<circle cx="171.8" cy="199.7" r="0.68" fill="#ed1700"/>
<circle cx="176.1" cy="202.0" r="0.68" fill="#c4b100"/>
<circle cx="177.6" cy="205.0" r="0.68" fill="#acbf13"/>
<circle cx="194.5" cy="213.8" r="0.68" fill="#0017ed"/>
<circle cx="195.7" cy="188.2" r="0.68" fill="#d50000"/>
<circle cx="158.4" cy="208.0" r="0.68" fill="#0017ed"/>
<circle cx="185.6" cy="190.8" r="0.68" fill="#e80000"/>
<circle cx="177.1" cy="207.0" r="0.68" fill="#930000"/>
<circle cx="175.2" cy="210.4" r="0.68" fill="#0017ed"/>
<circle cx="176.9" cy="194.2" r="0.68" fill="#0000c2"/>
<circle cx="177.0" cy="203.8" r="0.68" fill="#acbf13"/>
<circle cx="178.6" cy="207.0" r="0.68" fill="#930000"/>
<circle cx="190.5" cy="181.6" r="0.68" fill="#d50000"/>
<circle cx="189.0" cy="210.5" r="0.68" fill="#0017ed"/>
<circle cx="182.0" cy="207.2" r="0.68" fill="#0091d0"/>
<circle cx="179.7" cy="196.8" r="0.68" fill="#0091d0"/>
<circle cx="183.7" cy="190.9" r="0.68" fill="#d50000"/>
<circle cx="184.8" cy="202.7" r="0.68" fill="#39bf85"/>
<circle cx="193.2" cy="207.6" r="0.68" fill="#0017ed"/>
<circle cx="166.5" cy="174.6" r="0.68" fill="#e74500"/>
<circle cx="160.6" cy="202.7" r="0.68" fill="#d58400"/>
<circle cx="175.7" cy="210.8" r="0.68" fill="#0017ed"/>
<circle cx="181.6" cy="201.0" r="0.68" fill="#00b1c4"/>
<circle cx="177.6" cy="193.5" r="0.68" fill="#0000c2"/>
<circle cx="159.6" cy="209.3" r="0.68" fill="#0017ed"/>
<circle cx="173.2" cy="196.8" r="0.68" fill="#ed1700"/>
<circle cx="169.7" cy="196.2" r="0.68" fill="#e74500"/>
<circle cx="168.8" cy="201.5" r="0.68" fill="#d58400"/>
<circle cx="174.3" cy="202.9" r="0.68" fill="#c4b100"/>
<circle cx="177.0" cy="197.7" r="0.68" fill="#0000af"/>
<circle cx="183.4" cy="189.3" r="0.68" fill="#d50000"/>
<circle cx="171.7" cy="205.8" r="0.68" fill="#0000e8"/>
<circle cx="166.1" cy="204.8" r="0.68" fill="#d58400"/>
<circle cx="181.6" cy="196.4" r="0.68" fill="#0091d0"/>
<circle cx="193.0" cy="204.1" r="0.68" fill="#13bfac"/>
<circle cx="179.7" cy="211.1" r="0.68" fill="#0000e8"/>
<circle cx="179.5" cy="203.1" r="0.68" fill="#00b1c4"/>
<circle cx="171.1" cy="209.6" r="0.68" fill="#0000e8"/>
<circle cx="180.1" cy="197.4" r="0.68" fill="#0091d0"/>
<circle cx="190.4" cy="195.5" r="0.68" fill="#d50000"/>
<circle cx="151.5" cy="210.5" r="0.68" fill="#0017ed"/>
<circle cx="186.1" cy="202.5" r="0.68" fill="#39bf85"/>
<circle cx="163.9" cy="199.0" r="0.68" fill="#e74500"/>
<circle cx="189.7" cy="192.6" r="0.68" fill="#d50000"/>
<circle cx="189.1" cy="189.2" r="0.68" fill="#d50000"/>
<circle cx="174.0" cy="198.3" r="0.68" fill="#d50000"/>
<circle cx="182.0" cy="196.9" r="0.68" fill="#0091d0"/>
<circle cx="191.2" cy="191.3" r="0.68" fill="#d50000"/>
<circle cx="170.8" cy="196.1" r="0.68" fill="#ed1700"/>
<circle cx="187.7" cy="197.0" r="0.68" fill="#d50000"/>
<circle cx="186.3" cy="214.2" r="0.68" fill="#0045e7"/>
<circle cx="178.9" cy="199.1" r="0.68" fill="#0000af"/>
<circle cx="189.7" cy="197.3" r="0.68" fill="#e80000"/>
<circle cx="156.6" cy="199.3" r="0.68" fill="#e74500"/>
<circle cx="178.1" cy="207.6" r="0.68" fill="#930000"/>
<circle cx="162.6" cy="223.0" r="0.68" fill="#0017ed"/>
<circle cx="178.6" cy="196.0" r="0.68" fill="#0000af"/>
<circle cx="183.0" cy="195.9" r="0.68" fill="#a60000"/>
<circle cx="167.0" cy="199.3" r="0.68" fill="#e74500"/>
<circle cx="181.1" cy="206.5" r="0.68" fill="#0000e8"/>
<circle cx="181.1" cy="203.5" r="0.68" fill="#00b1c4"/>
<circle cx="170.8" cy="201.0" r="0.68" fill="#e25600"/>
<circle cx="177.6" cy="190.7" r="0.68" fill="#0000c2"/>
<circle cx="187.1" cy="199.5" r="0.68" fill="#d50000"/>
<circle cx="181.4" cy="205.9" r="0.68" fill="#0000e8"/>
<circle cx="191.2" cy="203.7" r="0.68" fill="#13bfac"/>
<circle cx="171.2" cy="208.4" r="0.68" fill="#0000e8"/>
<circle cx="169.6" cy="187.4" r="0.68" fill="#e74500"/>
<circle cx="187.9" cy="205.1" r="0.68" fill="#39bf85"/>
<circle cx="169.0" cy="189.9" r="0.68" fill="#e74500"/>
<circle cx="188.1" cy="198.0" r="0.68" fill="#d50000"/>
<circle cx="178.5" cy="176.5" r="0.68" fill="#0000c2"/>
<circle cx="184.0" cy="207.5" r="0.68" fill="#0091d0"/>
<circle cx="174.1" cy="190.0" r="0.68" fill="#0000e8"/>
<circle cx="186.8" cy="206.2" r="0.68" fill="#0045e7"/>
<circle cx="196.6" cy="210.4" r="0.68" fill="#0017ed"/>
<circle cx="195.0" cy="208.6" r="0.68" fill="#0017ed"/>
<circle cx="182.8" cy="209.2" r="0.68" fill="#0091d0"/>
<circle cx="161.3" cy="210.8" r="0.68" fill="#0017ed"/>
<circle cx="186.4" cy="201.8" r="0.68" fill="#39bf85"/>
<circle cx="180.4" cy="178.9" r="0.68" fill="#0017ed"/>
</g>
<circle cx="179.4" cy="200.5" r="32.0" fill="none" stroke="#666" stroke-width="0.9"/>
<text x="143.90" y="170.30" font-size="5.2" text-anchor="middle" font-weight="normal" font-style="normal" fill="#333" >4</text>
<text x="143.90" y="186.38" font-size="5.2" text-anchor="middle" font-weight="normal" font-style="normal" fill="#333" >2</text>
<text x="143.90" y="202.45" font-size="5.2" text-anchor="middle" font-weight="normal" font-style="normal" fill="#333" >0</text>
<text x="143.90" y="218.53" font-size="5.2" text-anchor="middle" font-weight="normal" font-style="normal" fill="#333" >−2</text>
<text x="143.90" y="234.60" font-size="5.2" text-anchor="middle" font-weight="normal" font-style="normal" fill="#333" >−4</text>
<text x="147.30" y="240.10" font-size="5.2" text-anchor="middle" font-weight="normal" font-style="normal" fill="#333" >−4</text>
<text x="163.35" y="240.10" font-size="5.2" text-anchor="middle" font-weight="normal" font-style="normal" fill="#333" >−2</text>
<text x="179.40" y="240.10" font-size="5.2" text-anchor="middle" font-weight="normal" font-style="normal" fill="#333" >0</text>
<text x="195.45" y="240.10" font-size="5.2" text-anchor="middle" font-weight="normal" font-style="normal" fill="#333" >2</text>
<text x="211.50" y="240.10" font-size="5.2" text-anchor="middle" font-weight="normal" font-style="normal" fill="#333" >4</text>
<text x="180.00" y="165.20" font-size="5.2" text-anchor="middle" font-weight="normal" font-style="normal" fill="#444" textLength="48" lengthAdjust="spacingAndGlyphs"><tspan font-style="italic">π</tspan> Estimate (<tspan font-style="italic">K</tspan> = 32)</text>
<text x="80.0" y="139.0" font-size="6.6" fill="#333" font-style="italic">H</text>
<text x="84.4" y="136.5" font-size="3.7" fill="#444" textLength="10.20" lengthAdjust="spacingAndGlyphs"><tspan font-style="italic">K</tspan>=32</text>
<text x="83.4" y="140.5" font-size="3.7" fill="#444" font-style="italic" textLength="8.5" lengthAdjust="spacingAndGlyphs">RPFS</text>
<text x="95.6" y="139.0" font-size="6.6" fill="#333" textLength="7.8" lengthAdjust="spacingAndGlyphs">(<tspan font-style="italic">X</tspan>)</text>
<text x="105.0" y="139.0" font-size="6.6" fill="#333">≈</text>
<text x="110.3" y="139.0" font-size="6.6" fill="#333" textLength="16.60" lengthAdjust="spacingAndGlyphs">4.9629</text>
<text x="154.4" y="138.5" font-size="6.6" fill="#333" font-style="italic">H</text>
<text x="158.8" y="136.0" font-size="3.7" fill="#444" textLength="10.80" lengthAdjust="spacingAndGlyphs"><tspan font-style="italic">K</tspan>=32</text>
<text x="157.8" y="140.0" font-size="3.7" fill="#444" font-style="italic" textLength="8.5" lengthAdjust="spacingAndGlyphs">RPFS</text>
<text x="170.6" y="138.5" font-size="6.6" fill="#333" textLength="7.8" lengthAdjust="spacingAndGlyphs">(<tspan font-style="italic">X</tspan>)</text>
<text x="179.9" y="138.5" font-size="6.6" fill="#333">≈</text>
<text x="184.8" y="138.5" font-size="6.6" fill="#333" textLength="16.60" lengthAdjust="spacingAndGlyphs">4.2334</text>
<text x="80.8" y="246.3" font-size="6.6" fill="#333" font-style="italic">H</text>
<text x="85.2" y="243.8" font-size="3.7" fill="#444" textLength="9.30" lengthAdjust="spacingAndGlyphs"><tspan font-style="italic">K</tspan>=32</text>
<text x="84.2" y="247.8" font-size="3.7" fill="#444" font-style="italic" textLength="2.6" lengthAdjust="spacingAndGlyphs">π</text>
<text x="95.5" y="246.3" font-size="6.6" fill="#333" textLength="7.8" lengthAdjust="spacingAndGlyphs">(<tspan font-style="italic">X</tspan>)</text>
<text x="105.1" y="246.3" font-size="6.6" fill="#333">≈</text>
<text x="110.8" y="246.3" font-size="6.6" fill="#333" textLength="16.00" lengthAdjust="spacingAndGlyphs">4.9305</text>
<text x="153.7" y="246.0" font-size="6.6" fill="#333" font-style="italic">H</text>
<text x="158.1" y="243.5" font-size="3.7" fill="#444" textLength="9.30" lengthAdjust="spacingAndGlyphs"><tspan font-style="italic">K</tspan>=32</text>
<text x="157.1" y="247.5" font-size="3.7" fill="#444" font-style="italic" textLength="2.6" lengthAdjust="spacingAndGlyphs">π</text>
<text x="168.4" y="246.0" font-size="6.6" fill="#333" textLength="7.8" lengthAdjust="spacingAndGlyphs">(<tspan font-style="italic">X</tspan>)</text>
<text x="178.1" y="246.0" font-size="6.6" fill="#333">≈</text>
<text x="183.1" y="246.0" font-size="6.6" fill="#333" textLength="16.60" lengthAdjust="spacingAndGlyphs">4.1690</text>
<text transform="translate(230.0,246.9) rotate(-90)" font-size="13.0" font-weight="bold" fill="#050505" textLength="182.7" lengthAdjust="spacingAndGlyphs">Mutual Information Estimation</text>
<circle cx="238.1" cy="241.4" r="1.2" fill="#111"/>
<text transform="translate(240.1,235.3) rotate(-90)" font-size="7.2" fill="#2e2e2e" textLength="170.7" lengthAdjust="spacingAndGlyphs">Enables Transient Analysis - Specific Volume Measure</text>
<circle cx="252.0" cy="241.4" r="1.2" fill="#111"/>
<text transform="translate(254.0,235.3) rotate(-90)" font-size="7.2" fill="#2e2e2e" textLength="155.7" lengthAdjust="spacingAndGlyphs">Fast Traditional MI Estimates - Density Measure</text>
<circle cx="264.4" cy="241.4" r="1.2" fill="#111"/>
<text transform="translate(266.4,235.3) rotate(-90)" font-size="7.2" fill="#2e2e2e" textLength="140.7" lengthAdjust="spacingAndGlyphs">Outcomes Can Depend on Initial Conditions</text>
<line x1="286.72" y1="12.90" x2="286.72" y2="73.50" stroke="#eee" stroke-width="0.4"/>
<line x1="297.04" y1="12.90" x2="297.04" y2="73.50" stroke="#eee" stroke-width="0.4"/>
<line x1="307.36" y1="12.90" x2="307.36" y2="73.50" stroke="#eee" stroke-width="0.4"/>
<line x1="317.68" y1="12.90" x2="317.68" y2="73.50" stroke="#eee" stroke-width="0.4"/>
<line x1="328.00" y1="12.90" x2="328.00" y2="73.50" stroke="#eee" stroke-width="0.4"/>
<line x1="338.32" y1="12.90" x2="338.32" y2="73.50" stroke="#eee" stroke-width="0.4"/>
<line x1="348.64" y1="12.90" x2="348.64" y2="73.50" stroke="#eee" stroke-width="0.4"/>
<line x1="358.96" y1="12.90" x2="358.96" y2="73.50" stroke="#eee" stroke-width="0.4"/>
<line x1="369.28" y1="12.90" x2="369.28" y2="73.50" stroke="#eee" stroke-width="0.4"/>
<line x1="276.4" y1="63.40" x2="379.6" y2="63.40" stroke="#eee" stroke-width="0.4"/>
<line x1="276.4" y1="53.30" x2="379.6" y2="53.30" stroke="#eee" stroke-width="0.4"/>
<line x1="276.4" y1="43.20" x2="379.6" y2="43.20" stroke="#eee" stroke-width="0.4"/>
<line x1="276.4" y1="33.10" x2="379.6" y2="33.10" stroke="#eee" stroke-width="0.4"/>
<line x1="276.4" y1="23.00" x2="379.6" y2="23.00" stroke="#eee" stroke-width="0.4"/>
<rect x="276.4" y="12.90" width="103.20" height="60.60" fill="none" stroke="#ccc" stroke-width="0.5"/>
<text x="326.40" y="6.20" font-size="7.0" text-anchor="middle" font-weight="normal" font-style="normal" fill="#222" textLength="112.5" lengthAdjust="spacingAndGlyphs">Symmetric Coupling for Logistic Maps</text>
<text x="272.50" y="76.00" font-size="7.2" text-anchor="middle" font-weight="normal" font-style="normal" fill="#222" >0</text>
<text x="272.50" y="55.80" font-size="7.2" text-anchor="middle" font-weight="normal" font-style="normal" fill="#222" >2</text>
<text x="272.50" y="35.60" font-size="7.2" text-anchor="middle" font-weight="normal" font-style="normal" fill="#222" >4</text>
<text x="272.50" y="15.40" font-size="7.2" text-anchor="middle" font-weight="normal" font-style="normal" fill="#222" >6</text>
<text x="276.40" y="81.50" font-size="7.2" text-anchor="middle" font-weight="normal" font-style="normal" fill="#222" >0</text>
<text x="328.00" y="81.50" font-size="7.2" text-anchor="middle" font-weight="normal" font-style="normal" fill="#222" >0.5</text>
<text x="379.60" y="81.50" font-size="7.2" text-anchor="middle" font-weight="normal" font-style="normal" fill="#222" >1</text>
<text x="327.90" y="89.00" font-size="6.6" text-anchor="middle" font-weight="normal" font-style="italic" fill="#333" >σ</text>
<text transform="translate(266.6,43) rotate(-90)" font-size="6.2" fill="#444" text-anchor="middle" textLength="62" lengthAdjust="spacingAndGlyphs">Mutual Information</text>
<line x1="302.0" y1="12.90" x2="302.0" y2="73.50" stroke="#333" stroke-width="0.8" stroke-dasharray="0.8,2.2"/>
<text x="302.00" y="11.80" font-size="6.0" text-anchor="middle" font-weight="normal" font-style="normal" fill="#222" >A</text>
<line x1="312.6" y1="12.90" x2="312.6" y2="73.50" stroke="#333" stroke-width="0.8" stroke-dasharray="0.8,2.2"/>
<text x="312.60" y="11.80" font-size="6.0" text-anchor="middle" font-weight="normal" font-style="normal" fill="#222" >B</text>
<line x1="327.8" y1="12.90" x2="327.8" y2="73.50" stroke="#333" stroke-width="0.8" stroke-dasharray="0.8,2.2"/>
<text x="327.80" y="11.80" font-size="6.0" text-anchor="middle" font-weight="normal" font-style="normal" fill="#222" >C</text>
<line x1="355.7" y1="12.90" x2="355.7" y2="73.50" stroke="#333" stroke-width="0.8" stroke-dasharray="0.8,2.2"/>
<text x="355.70" y="11.80" font-size="6.0" text-anchor="middle" font-weight="normal" font-style="normal" fill="#222" >D</text>
<path d="M302.00,43.00 L302.87,42.00 L303.73,41.26 L304.60,40.60 L305.47,39.98 L306.33,39.40 L307.20,38.86 L308.07,38.34 L308.93,37.84 L309.80,37.36 L310.67,36.91 L311.53,36.48 L312.40,36.07 L313.27,35.68 L314.13,35.31 L315.00,34.97 L315.87,34.64 L316.73,34.34 L317.60,34.05 L318.47,33.79 L319.33,33.55 L320.20,33.33 L321.07,33.14 L321.93,32.97 L322.80,32.82 L323.67,32.69 L324.53,32.59 L325.40,32.50 L326.27,32.45 L327.13,32.41 L328.00,32.40 L328.87,32.41 L329.73,32.45 L330.60,32.50 L331.47,32.59 L332.33,32.69 L333.20,32.82 L334.07,32.97 L334.93,33.14 L335.80,33.33 L336.67,33.55 L337.53,33.79 L338.40,34.05 L339.27,34.34 L340.13,34.64 L341.00,34.97 L341.87,35.31 L342.73,35.68 L343.60,36.07 L344.47,36.48 L345.33,36.91 L346.20,37.36 L347.07,37.84 L347.93,38.34 L348.80,38.86 L349.67,39.40 L350.53,39.98 L351.40,40.60 L352.27,41.26 L353.13,42.00 L354.00,43.00 L354.00,43.00 L353.13,42.70 L352.27,42.47 L351.40,42.27 L350.53,42.09 L349.67,41.91 L348.80,41.75 L347.93,41.59 L347.07,41.44 L346.20,41.30 L345.33,41.16 L344.47,41.03 L343.60,40.91 L342.73,40.79 L341.87,40.68 L341.00,40.57 L340.13,40.48 L339.27,40.38 L338.40,40.30 L337.53,40.22 L336.67,40.15 L335.80,40.08 L334.93,40.02 L334.07,39.97 L333.20,39.93 L332.33,39.89 L331.47,39.86 L330.60,39.83 L329.73,39.81 L328.87,39.80 L328.00,39.80 L327.13,39.80 L326.27,39.81 L325.40,39.83 L324.53,39.86 L323.67,39.89 L322.80,39.93 L321.93,39.97 L321.07,40.02 L320.20,40.08 L319.33,40.15 L318.47,40.22 L317.60,40.30 L316.73,40.38 L315.87,40.48 L315.00,40.57 L314.13,40.68 L313.27,40.79 L312.40,40.91 L311.53,41.03 L310.67,41.16 L309.80,41.30 L308.93,41.44 L308.07,41.59 L307.20,41.75 L306.33,41.91 L305.47,42.09 L304.60,42.27 L303.73,42.47 L302.87,42.70 L302.00,43.00 Z" fill="#c8c8ff" opacity="0.6"/>
<path d="M302.00,43.00 L302.87,39.02 L303.73,37.37 L304.60,36.12 L305.47,35.07 L306.33,34.15 L307.20,33.33 L308.07,32.58 L308.93,31.90 L309.80,31.28 L310.67,30.70 L311.53,30.16 L312.40,29.66 L313.27,29.20 L314.13,28.77 L315.00,28.37 L315.87,28.00 L316.73,27.66 L317.60,27.35 L318.47,27.07 L319.33,26.81 L320.20,26.58 L321.07,26.37 L321.93,26.19 L322.80,26.03 L323.67,25.90 L324.53,25.79 L325.40,25.71 L326.27,25.65 L327.13,25.61 L328.00,25.60 L328.87,25.61 L329.73,25.65 L330.60,25.71 L331.47,25.79 L332.33,25.90 L333.20,26.03 L334.07,26.19 L334.93,26.37 L335.80,26.58 L336.67,26.81 L337.53,27.07 L338.40,27.35 L339.27,27.66 L340.13,28.00 L341.00,28.37 L341.87,28.77 L342.73,29.20 L343.60,29.66 L344.47,30.16 L345.33,30.70 L346.20,31.28 L347.07,31.90 L347.93,32.58 L348.80,33.33 L349.67,34.15 L350.53,35.07 L351.40,36.12 L352.27,37.37 L353.13,39.02 L354.00,43.00 L354.00,43.00 L353.13,39.43 L352.27,37.96 L351.40,36.83 L350.53,35.89 L349.67,35.06 L348.80,34.33 L347.93,33.66 L347.07,33.05 L346.20,32.49 L345.33,31.97 L344.47,31.49 L343.60,31.04 L342.73,30.62 L341.87,30.24 L341.00,29.88 L340.13,29.55 L339.27,29.25 L338.40,28.97 L337.53,28.71 L336.67,28.48 L335.80,28.27 L334.93,28.09 L334.07,27.93 L333.20,27.79 L332.33,27.67 L331.47,27.57 L330.60,27.50 L329.73,27.44 L328.87,27.41 L328.00,27.40 L327.13,27.41 L326.27,27.44 L325.40,27.50 L324.53,27.57 L323.67,27.67 L322.80,27.79 L321.93,27.93 L321.07,28.09 L320.20,28.27 L319.33,28.48 L318.47,28.71 L317.60,28.97 L316.73,29.25 L315.87,29.55 L315.00,29.88 L314.13,30.24 L313.27,30.62 L312.40,31.04 L311.53,31.49 L310.67,31.97 L309.80,32.49 L308.93,33.05 L308.07,33.66 L307.20,34.33 L306.33,35.06 L305.47,35.89 L304.60,36.83 L303.73,37.96 L302.87,39.43 L302.00,43.00 Z" fill="#f2d6d6" opacity="0.8"/>
<polyline points="302.00,43.00 302.87,39.11 303.73,37.50 304.60,36.28 305.47,35.25 306.33,34.35 307.20,33.55 308.07,32.82 308.93,32.16 309.80,31.55 310.67,30.98 311.53,30.45 312.40,29.97 313.27,29.51 314.13,29.09 315.00,28.70 315.87,28.35 316.73,28.01 317.60,27.71 318.47,27.43 319.33,27.18 320.20,26.95 321.07,26.75 321.93,26.57 322.80,26.42 323.67,26.29 324.53,26.19 325.40,26.10 326.27,26.05 327.13,26.01 328.00,26.00 328.87,26.01 329.73,26.05 330.60,26.10 331.47,26.19 332.33,26.29 333.20,26.42 334.07,26.57 334.93,26.75 335.80,26.95 336.67,27.18 337.53,27.43 338.40,27.71 339.27,28.01 340.13,28.35 341.00,28.70 341.87,29.09 342.73,29.51 343.60,29.97 344.47,30.45 345.33,30.98 346.20,31.55 347.07,32.16 347.93,32.82 348.80,33.55 349.67,34.35 350.53,35.25 351.40,36.28 352.27,37.50 353.13,39.11 354.00,43.00" fill="none" stroke="#e8b8b8" stroke-width="0.6" stroke-linejoin="round" opacity="1"/>
<polyline points="302.00,43.00 302.87,40.23 303.73,39.09 304.60,38.21 305.47,37.48 306.33,36.84 307.20,36.27 308.07,35.76 308.93,35.28 309.80,34.85 310.67,34.44 311.53,34.07 312.40,33.72 313.27,33.40 314.13,33.10 315.00,32.83 315.87,32.57 316.73,32.33 317.60,32.12 318.47,31.92 319.33,31.74 320.20,31.58 321.07,31.43 321.93,31.31 322.80,31.20 323.67,31.11 324.53,31.03 325.40,30.97 326.27,30.93 327.13,30.91 328.00,30.90 328.87,30.91 329.73,30.93 330.60,30.97 331.47,31.03 332.33,31.11 333.20,31.20 334.07,31.31 334.93,31.43 335.80,31.58 336.67,31.74 337.53,31.92 338.40,32.12 339.27,32.33 340.13,32.57 341.00,32.83 341.87,33.10 342.73,33.40 343.60,33.72 344.47,34.07 345.33,34.44 346.20,34.85 347.07,35.28 347.93,35.76 348.80,36.27 349.67,36.84 350.53,37.48 351.40,38.21 352.27,39.09 353.13,40.23 354.00,43.00" fill="none" stroke="#b0b0b0" stroke-width="0.6" stroke-linejoin="round" opacity="1"/>
<polyline points="276.40,70.90 286.50,68.20 289.20,54.40 290.60,70.00 293.70,58.00 295.60,66.00 296.50,63.00 298.50,58.00 302.00,43.00 302.87,42.17 303.73,41.55 304.60,41.00 305.47,40.50 306.33,40.02 307.20,39.56 308.07,39.13 308.93,38.72 309.80,38.32 310.67,37.95 311.53,37.59 312.40,37.25 313.27,36.92 314.13,36.62 315.00,36.33 315.87,36.06 316.73,35.81 317.60,35.57 318.47,35.36 319.33,35.16 320.20,34.98 321.07,34.81 321.93,34.67 322.80,34.55 323.67,34.44 324.53,34.35 325.40,34.29 326.27,34.24 327.13,34.21 328.00,34.20 328.87,34.21 329.73,34.24 330.60,34.29 331.47,34.35 332.33,34.44 333.20,34.55 334.07,34.67 334.93,34.81 335.80,34.98 336.67,35.16 337.53,35.36 338.40,35.57 339.27,35.81 340.13,36.06 341.00,36.33 341.87,36.62 342.73,36.92 343.60,37.25 344.47,37.59 345.33,37.95 346.20,38.32 347.07,38.72 347.93,39.13 348.80,39.56 349.67,40.02 350.53,40.50 351.40,41.00 352.27,41.55 353.13,42.17 354.00,43.00 356.00,52.00 358.00,59.00 361.90,61.40 364.00,72.00 366.50,65.50 368.00,73.00 370.00,69.00 379.60,71.50" fill="none" stroke="#2a2aff" stroke-width="1.0" stroke-linejoin="round" opacity="1"/>
<polyline points="276.40,70.50 286.70,67.80 290.00,66.00 293.00,62.00 296.00,64.00 298.50,57.00 302.00,43.00 302.87,43.07 303.73,43.10 304.60,43.12 305.47,43.14 306.33,43.15 307.20,43.17 308.07,43.18 308.93,43.19 309.80,43.20 310.67,43.21 311.53,43.22 312.40,43.23 313.27,43.24 314.13,43.25 315.00,43.25 315.87,43.26 316.73,43.26 317.60,43.27 318.47,43.27 319.33,43.28 320.20,43.28 321.07,43.29 321.93,43.29 322.80,43.29 323.67,43.29 324.53,43.30 325.40,43.30 326.27,43.30 327.13,43.30 328.00,43.30 328.87,43.30 329.73,43.30 330.60,43.30 331.47,43.30 332.33,43.29 333.20,43.29 334.07,43.29 334.93,43.29 335.80,43.28 336.67,43.28 337.53,43.27 338.40,43.27 339.27,43.26 340.13,43.26 341.00,43.25 341.87,43.25 342.73,43.24 343.60,43.23 344.47,43.22 345.33,43.21 346.20,43.20 347.07,43.19 347.93,43.18 348.80,43.17 349.67,43.15 350.53,43.14 351.40,43.12 352.27,43.10 353.13,43.07 354.00,43.00 356.00,54.00 359.00,60.00 362.00,66.00 366.00,64.00 369.00,68.00 379.60,70.50" fill="none" stroke="#8a8a8a" stroke-width="0.5" stroke-linejoin="round" opacity="1"/>
<polyline points="276.40,70.70 286.10,68.10 290.30,72.40 293.30,60.70 296.00,66.00 298.60,58.00 302.00,43.00 302.87,40.12 303.73,38.78 304.60,37.74 305.47,36.85 306.33,36.06 307.20,35.35 308.07,34.70 308.93,34.10 309.80,33.54 310.67,33.03 311.53,32.55 312.40,32.10 313.27,31.68 314.13,31.29 315.00,30.93 315.87,30.60 316.73,30.29 317.60,30.01 318.47,29.75 319.33,29.51 320.20,29.30 321.07,29.11 321.93,28.94 322.80,28.80 323.67,28.68 324.53,28.58 325.40,28.50 326.27,28.44 327.13,28.41 328.00,28.40 328.87,28.41 329.73,28.44 330.60,28.50 331.47,28.58 332.33,28.68 333.20,28.80 334.07,28.94 334.93,29.11 335.80,29.30 336.67,29.51 337.53,29.75 338.40,30.01 339.27,30.29 340.13,30.60 341.00,30.93 341.87,31.29 342.73,31.68 343.60,32.10 344.47,32.55 345.33,33.03 346.20,33.54 347.07,34.10 347.93,34.70 348.80,35.35 349.67,36.06 350.53,36.85 351.40,37.74 352.27,38.78 353.13,40.12 354.00,43.00 356.00,52.00 358.00,60.00 360.00,62.00 362.00,68.00 364.00,72.00 366.50,66.00 368.00,73.00 370.00,69.00 379.60,71.00" fill="none" stroke="#b03030" stroke-width="1.0" stroke-linejoin="round" opacity="1"/>
<polyline points="276.40,74.30 286.10,68.30 289.40,46.40 290.30,69.50 293.00,66.00 296.00,62.00 300.00,52.00 302.00,43.00 302.65,33.60 303.30,27.89 303.95,24.43 304.60,22.33 305.25,21.06 305.90,20.29 306.55,19.82 307.20,19.54 307.85,19.37 308.50,19.26 309.15,19.20 309.80,19.16 310.45,19.14 311.10,19.12 311.75,19.11 312.40,19.11 313.05,19.10 313.70,19.10 314.35,19.10 315.00,19.10 315.65,19.10 316.30,19.10 316.95,19.10 317.60,19.10 318.25,19.10 318.90,19.10 319.55,19.10 320.20,19.10 320.85,19.10 321.50,19.10 322.15,19.10 322.80,19.10 323.45,19.10 324.10,19.10 324.75,19.10 325.40,19.10 326.05,19.10 326.70,19.10 327.35,19.10 328.00,19.10 328.65,19.10 329.30,19.10 329.95,19.10 330.60,19.10 331.25,19.10 331.90,19.10 332.55,19.10 333.20,19.10 333.85,19.10 334.50,19.10 335.15,19.10 335.80,19.10 336.45,19.10 337.10,19.10 337.75,19.10 338.40,19.10 339.05,19.10 339.70,19.10 340.35,19.10 341.00,19.10 341.65,19.10 342.30,19.10 342.95,19.10 343.60,19.10 344.25,19.10 344.90,19.10 345.55,19.11 346.20,19.11 346.85,19.12 347.50,19.15 348.15,19.19 348.80,19.26 349.45,19.40 350.10,19.66 350.75,20.15 351.40,21.06 352.05,22.77 352.70,25.95 353.35,31.89 354.00,43.00 356.00,56.00 358.00,61.00 360.00,63.00 363.00,72.00 366.70,47.90 369.00,68.00 372.00,71.00 379.60,73.50" fill="none" stroke="#20a020" stroke-width="1.0" stroke-linejoin="round" opacity="1"/>
<rect x="316.6" y="45.4" width="22.6" height="28" fill="#fff" stroke="#ccc" stroke-width="0.4"/>
<line x1="317.8" y1="49.4" x2="326.4" y2="49.4" stroke="#4040ff" stroke-width="1.2"/>
<text x="328.3" y="51.5" font-size="6.0" fill="#333" font-style="italic">I<tspan font-size="3.4" dy="1.2">π</tspan></text>
<line x1="317.8" y1="55.9" x2="326.4" y2="55.9" stroke="#c04040" stroke-width="1.2"/>
<text x="328.3" y="58.0" font-size="6.0" fill="#333" font-style="italic">I<tspan font-size="3.4" dy="1.2">V</tspan></text>
<line x1="317.8" y1="62.4" x2="326.4" y2="62.4" stroke="#999" stroke-width="1.2"/>
<text x="328.3" y="64.5" font-size="6.0" fill="#333" font-style="italic">I<tspan font-size="3.4" dy="1.2">DNE</tspan></text>
<line x1="317.8" y1="68.9" x2="326.4" y2="68.9" stroke="#30b030" stroke-width="1.2"/>
<text x="328.3" y="71.0" font-size="6.0" fill="#333" font-style="italic">I<tspan font-size="3.4" dy="1.2">KSG</tspan></text>
<text x="324.00" y="95.70" font-size="8.0" text-anchor="middle" font-weight="normal" font-style="normal" fill="#111" textLength="62.4" lengthAdjust="spacingAndGlyphs">Sample Trajectories</text>
<rect x="288.4" y="100.0" width="84.2" height="27.4" fill="none" stroke="#d8d8d8" stroke-width="0.5"/>
<text x="285.40" y="102.00" font-size="5.6" text-anchor="middle" font-weight="normal" font-style="normal" fill="#333" >1</text>
<text x="282.40" y="115.70" font-size="5.6" text-anchor="middle" font-weight="normal" font-style="normal" fill="#333" >0.5</text>
<text x="285.40" y="129.40" font-size="5.6" text-anchor="middle" font-weight="normal" font-style="normal" fill="#333" >0</text>
<text transform="translate(275.2,114.7) rotate(-90)" font-size="5.6" fill="#444" text-anchor="middle" font-style="italic">x<tspan font-size="3.6" dy="1.3">n</tspan></text>
<text x="376.30" y="115.90" font-size="6.0" text-anchor="middle" font-weight="normal" font-style="normal" fill="#222" >A</text>
<path d="M288.40,122.74 C288.69,119.96 289.55,109.32 290.12,106.03 C290.69,102.74 291.26,101.83 291.84,103.01 C292.41,104.20 292.98,113.15 293.56,113.15 C294.13,113.15 294.70,102.05 295.27,103.01 C295.85,103.97 296.42,119.04 296.99,118.91 C297.56,118.77 298.14,102.69 298.71,102.19 C299.28,101.69 299.86,115.48 300.43,115.89 C301.00,116.30 301.57,104.66 302.15,104.66 C302.72,104.66 303.29,116.44 303.87,115.89 C304.44,115.34 305.01,100.09 305.58,101.37 C306.16,102.65 306.73,121.51 307.30,123.56 C307.87,125.62 308.45,117.40 309.02,113.70 C309.59,110.00 310.17,99.59 310.74,101.37 C311.31,103.15 311.88,121.65 312.46,124.39 C313.03,127.13 313.60,120.60 314.18,117.81 C314.75,115.02 315.32,109.50 315.89,107.67 C316.47,105.85 317.04,107.12 317.61,106.85 C318.19,106.58 318.76,105.62 319.33,106.03 C319.90,106.44 320.48,109.96 321.05,109.32 C321.62,108.68 322.19,100.59 322.77,102.19 C323.34,103.79 323.91,118.40 324.49,118.91 C325.06,119.41 325.63,106.53 326.20,105.21 C326.78,103.88 327.35,111.65 327.92,110.96 C328.50,110.28 329.07,98.58 329.64,101.10 C330.21,103.61 330.79,122.10 331.36,126.03 C331.93,129.96 332.50,126.49 333.08,124.66 C333.65,122.83 334.22,119.00 334.80,115.07 C335.37,111.14 335.94,99.13 336.51,101.10 C337.09,103.06 337.66,122.70 338.23,126.85 C338.81,131.01 339.38,126.85 339.95,126.03 C340.52,125.21 341.10,124.43 341.67,121.92 C342.24,119.41 342.81,114.43 343.39,110.96 C343.96,107.49 344.53,98.58 345.11,101.10 C345.68,103.61 346.25,122.33 346.82,126.03 C347.40,129.73 347.97,125.57 348.54,123.29 C349.12,121.01 349.69,115.85 350.26,112.33 C350.83,108.81 351.41,100.59 351.98,102.19 C352.55,103.79 353.13,120.46 353.70,121.92 C354.27,123.38 354.84,114.25 355.42,110.96 C355.99,107.67 356.56,99.95 357.13,102.19 C357.71,104.43 358.28,122.01 358.85,124.39 C359.43,126.76 360.00,120.14 360.57,116.44 C361.14,112.74 361.72,101.55 362.29,102.19 C362.86,102.83 363.44,119.27 364.01,120.28 C364.58,121.28 365.15,110.73 365.73,108.22 C366.30,105.71 366.87,105.16 367.44,105.21 C368.02,105.25 368.59,108.86 369.16,108.49 C369.74,108.13 370.31,101.96 370.88,103.01 C371.45,104.06 372.31,112.83 372.60,114.80" fill="none" stroke="#c88484" stroke-width="0.55" opacity="0.85"/>
<rect x="287.85" y="122.19" width="1.1" height="1.1" fill="#b04848" opacity="0.45"/>
<rect x="289.57" y="105.48" width="1.1" height="1.1" fill="#b04848" opacity="0.45"/>
<rect x="291.29" y="102.46" width="1.1" height="1.1" fill="#b04848" opacity="0.45"/>
<rect x="293.01" y="112.60" width="1.1" height="1.1" fill="#b04848" opacity="0.45"/>
<rect x="294.72" y="102.46" width="1.1" height="1.1" fill="#b04848" opacity="0.45"/>
<rect x="296.44" y="118.36" width="1.1" height="1.1" fill="#b04848" opacity="0.45"/>
<rect x="298.16" y="101.64" width="1.1" height="1.1" fill="#b04848" opacity="0.45"/>
<rect x="299.88" y="115.34" width="1.1" height="1.1" fill="#b04848" opacity="0.45"/>
<rect x="301.60" y="104.11" width="1.1" height="1.1" fill="#b04848" opacity="0.45"/>
<rect x="303.32" y="115.34" width="1.1" height="1.1" fill="#b04848" opacity="0.45"/>
<rect x="305.03" y="100.82" width="1.1" height="1.1" fill="#b04848" opacity="0.45"/>
<rect x="306.75" y="123.01" width="1.1" height="1.1" fill="#b04848" opacity="0.45"/>
<rect x="308.47" y="113.15" width="1.1" height="1.1" fill="#b04848" opacity="0.45"/>
<rect x="310.19" y="100.82" width="1.1" height="1.1" fill="#b04848" opacity="0.45"/>
<rect x="311.91" y="123.84" width="1.1" height="1.1" fill="#b04848" opacity="0.45"/>
<rect x="313.63" y="117.26" width="1.1" height="1.1" fill="#b04848" opacity="0.45"/>
<rect x="315.34" y="107.12" width="1.1" height="1.1" fill="#b04848" opacity="0.45"/>
<rect x="317.06" y="106.30" width="1.1" height="1.1" fill="#b04848" opacity="0.45"/>
<rect x="318.78" y="105.48" width="1.1" height="1.1" fill="#b04848" opacity="0.45"/>
<rect x="320.50" y="108.77" width="1.1" height="1.1" fill="#b04848" opacity="0.45"/>
<rect x="322.22" y="101.64" width="1.1" height="1.1" fill="#b04848" opacity="0.45"/>
<rect x="323.94" y="118.36" width="1.1" height="1.1" fill="#b04848" opacity="0.45"/>
<rect x="325.65" y="104.66" width="1.1" height="1.1" fill="#b04848" opacity="0.45"/>
<rect x="327.37" y="110.41" width="1.1" height="1.1" fill="#b04848" opacity="0.45"/>
<rect x="329.09" y="100.55" width="1.1" height="1.1" fill="#b04848" opacity="0.45"/>
<rect x="330.81" y="125.48" width="1.1" height="1.1" fill="#b04848" opacity="0.45"/>
<rect x="332.53" y="124.11" width="1.1" height="1.1" fill="#b04848" opacity="0.45"/>
<rect x="334.25" y="114.52" width="1.1" height="1.1" fill="#b04848" opacity="0.45"/>
<rect x="335.96" y="100.55" width="1.1" height="1.1" fill="#b04848" opacity="0.45"/>
<rect x="337.68" y="126.30" width="1.1" height="1.1" fill="#b04848" opacity="0.45"/>
<rect x="339.40" y="125.48" width="1.1" height="1.1" fill="#b04848" opacity="0.45"/>
<rect x="341.12" y="121.37" width="1.1" height="1.1" fill="#b04848" opacity="0.45"/>
<rect x="342.84" y="110.41" width="1.1" height="1.1" fill="#b04848" opacity="0.45"/>
<rect x="344.56" y="100.55" width="1.1" height="1.1" fill="#b04848" opacity="0.45"/>
<rect x="346.27" y="125.48" width="1.1" height="1.1" fill="#b04848" opacity="0.45"/>
<rect x="347.99" y="122.74" width="1.1" height="1.1" fill="#b04848" opacity="0.45"/>
<rect x="349.71" y="111.78" width="1.1" height="1.1" fill="#b04848" opacity="0.45"/>
<rect x="351.43" y="101.64" width="1.1" height="1.1" fill="#b04848" opacity="0.45"/>
<rect x="353.15" y="121.37" width="1.1" height="1.1" fill="#b04848" opacity="0.45"/>
<rect x="354.87" y="110.41" width="1.1" height="1.1" fill="#b04848" opacity="0.45"/>
<rect x="356.58" y="101.64" width="1.1" height="1.1" fill="#b04848" opacity="0.45"/>
<rect x="358.30" y="123.84" width="1.1" height="1.1" fill="#b04848" opacity="0.45"/>
<rect x="360.02" y="115.89" width="1.1" height="1.1" fill="#b04848" opacity="0.45"/>
<rect x="361.74" y="101.64" width="1.1" height="1.1" fill="#b04848" opacity="0.45"/>
<rect x="363.46" y="119.73" width="1.1" height="1.1" fill="#b04848" opacity="0.45"/>
<rect x="365.18" y="107.67" width="1.1" height="1.1" fill="#b04848" opacity="0.45"/>
<rect x="366.89" y="104.66" width="1.1" height="1.1" fill="#b04848" opacity="0.45"/>
<rect x="368.61" y="107.94" width="1.1" height="1.1" fill="#b04848" opacity="0.45"/>
<rect x="370.33" y="102.46" width="1.1" height="1.1" fill="#b04848" opacity="0.45"/>
<rect x="372.05" y="114.25" width="1.1" height="1.1" fill="#b04848" opacity="0.45"/>
<path d="M288.40,113.97 C288.69,112.65 289.55,107.08 290.12,106.03 C290.69,104.98 291.26,107.67 291.84,107.67 C292.41,107.67 292.98,106.80 293.56,106.03 C294.13,105.25 294.70,101.69 295.27,103.01 C295.85,104.34 296.42,114.11 296.99,113.97 C297.56,113.84 298.14,101.37 298.71,102.19 C299.28,103.01 299.86,118.50 300.43,118.91 C301.00,119.32 301.57,105.75 302.15,104.66 C302.72,103.56 303.29,112.88 303.87,112.33 C304.44,111.78 305.01,99.50 305.58,101.37 C306.16,103.24 306.73,121.51 307.30,123.56 C307.87,125.62 308.45,117.40 309.02,113.70 C309.59,110.00 310.17,99.59 310.74,101.37 C311.31,103.15 311.88,121.65 312.46,124.39 C313.03,127.13 313.60,120.60 314.18,117.81 C314.75,115.02 315.32,109.50 315.89,107.67 C316.47,105.85 317.04,107.12 317.61,106.85 C318.19,106.58 318.76,105.62 319.33,106.03 C319.90,106.44 320.48,109.96 321.05,109.32 C321.62,108.68 322.19,100.59 322.77,102.19 C323.34,103.79 323.91,118.40 324.49,118.91 C325.06,119.41 325.63,106.53 326.20,105.21 C326.78,103.88 327.35,111.65 327.92,110.96 C328.50,110.28 329.07,98.58 329.64,101.10 C330.21,103.61 330.79,122.10 331.36,126.03 C331.93,129.96 332.50,126.49 333.08,124.66 C333.65,122.83 334.22,119.00 334.80,115.07 C335.37,111.14 335.94,99.13 336.51,101.10 C337.09,103.06 337.66,122.70 338.23,126.85 C338.81,131.01 339.38,126.85 339.95,126.03 C340.52,125.21 341.10,124.43 341.67,121.92 C342.24,119.41 342.81,114.43 343.39,110.96 C343.96,107.49 344.53,98.58 345.11,101.10 C345.68,103.61 346.25,122.33 346.82,126.03 C347.40,129.73 347.97,125.57 348.54,123.29 C349.12,121.01 349.69,115.85 350.26,112.33 C350.83,108.81 351.41,100.59 351.98,102.19 C352.55,103.79 353.13,120.46 353.70,121.92 C354.27,123.38 354.84,114.25 355.42,110.96 C355.99,107.67 356.56,99.95 357.13,102.19 C357.71,104.43 358.28,122.01 358.85,124.39 C359.43,126.76 360.00,120.14 360.57,116.44 C361.14,112.74 361.72,101.55 362.29,102.19 C362.86,102.83 363.44,119.27 364.01,120.28 C364.58,121.28 365.15,110.73 365.73,108.22 C366.30,105.71 366.87,105.16 367.44,105.21 C368.02,105.25 368.59,108.86 369.16,108.49 C369.74,108.13 370.31,101.96 370.88,103.01 C371.45,104.06 372.31,112.83 372.60,114.80" fill="none" stroke="#7f7fff" stroke-width="0.55" opacity="0.85"/>
<rect x="287.85" y="113.42" width="1.1" height="1.1" fill="#3a3aff" opacity="0.45"/>
<rect x="289.57" y="105.48" width="1.1" height="1.1" fill="#3a3aff" opacity="0.45"/>
<rect x="291.29" y="107.12" width="1.1" height="1.1" fill="#3a3aff" opacity="0.45"/>
<rect x="293.01" y="105.48" width="1.1" height="1.1" fill="#3a3aff" opacity="0.45"/>
<rect x="294.72" y="102.46" width="1.1" height="1.1" fill="#3a3aff" opacity="0.45"/>
<rect x="296.44" y="113.42" width="1.1" height="1.1" fill="#3a3aff" opacity="0.45"/>
<rect x="298.16" y="101.64" width="1.1" height="1.1" fill="#3a3aff" opacity="0.45"/>
<rect x="299.88" y="118.36" width="1.1" height="1.1" fill="#3a3aff" opacity="0.45"/>
<rect x="301.60" y="104.11" width="1.1" height="1.1" fill="#3a3aff" opacity="0.45"/>
<rect x="303.32" y="111.78" width="1.1" height="1.1" fill="#3a3aff" opacity="0.45"/>
<rect x="305.03" y="100.82" width="1.1" height="1.1" fill="#3a3aff" opacity="0.45"/>
<rect x="306.75" y="123.01" width="1.1" height="1.1" fill="#3a3aff" opacity="0.45"/>
<rect x="308.47" y="113.15" width="1.1" height="1.1" fill="#3a3aff" opacity="0.45"/>
<rect x="310.19" y="100.82" width="1.1" height="1.1" fill="#3a3aff" opacity="0.45"/>
<rect x="311.91" y="123.84" width="1.1" height="1.1" fill="#3a3aff" opacity="0.45"/>
<rect x="313.63" y="117.26" width="1.1" height="1.1" fill="#3a3aff" opacity="0.45"/>
<rect x="315.34" y="107.12" width="1.1" height="1.1" fill="#3a3aff" opacity="0.45"/>
<rect x="317.06" y="106.30" width="1.1" height="1.1" fill="#3a3aff" opacity="0.45"/>
<rect x="318.78" y="105.48" width="1.1" height="1.1" fill="#3a3aff" opacity="0.45"/>
<rect x="320.50" y="108.77" width="1.1" height="1.1" fill="#3a3aff" opacity="0.45"/>
<rect x="322.22" y="101.64" width="1.1" height="1.1" fill="#3a3aff" opacity="0.45"/>
<rect x="323.94" y="118.36" width="1.1" height="1.1" fill="#3a3aff" opacity="0.45"/>
<rect x="325.65" y="104.66" width="1.1" height="1.1" fill="#3a3aff" opacity="0.45"/>
<rect x="327.37" y="110.41" width="1.1" height="1.1" fill="#3a3aff" opacity="0.45"/>
<rect x="329.09" y="100.55" width="1.1" height="1.1" fill="#3a3aff" opacity="0.45"/>
<rect x="330.81" y="125.48" width="1.1" height="1.1" fill="#3a3aff" opacity="0.45"/>
<rect x="332.53" y="124.11" width="1.1" height="1.1" fill="#3a3aff" opacity="0.45"/>
<rect x="334.25" y="114.52" width="1.1" height="1.1" fill="#3a3aff" opacity="0.45"/>
<rect x="335.96" y="100.55" width="1.1" height="1.1" fill="#3a3aff" opacity="0.45"/>
<rect x="337.68" y="126.30" width="1.1" height="1.1" fill="#3a3aff" opacity="0.45"/>
<rect x="339.40" y="125.48" width="1.1" height="1.1" fill="#3a3aff" opacity="0.45"/>
<rect x="341.12" y="121.37" width="1.1" height="1.1" fill="#3a3aff" opacity="0.45"/>
<rect x="342.84" y="110.41" width="1.1" height="1.1" fill="#3a3aff" opacity="0.45"/>
<rect x="344.56" y="100.55" width="1.1" height="1.1" fill="#3a3aff" opacity="0.45"/>
<rect x="346.27" y="125.48" width="1.1" height="1.1" fill="#3a3aff" opacity="0.45"/>
<rect x="347.99" y="122.74" width="1.1" height="1.1" fill="#3a3aff" opacity="0.45"/>
<rect x="349.71" y="111.78" width="1.1" height="1.1" fill="#3a3aff" opacity="0.45"/>
<rect x="351.43" y="101.64" width="1.1" height="1.1" fill="#3a3aff" opacity="0.45"/>
<rect x="353.15" y="121.37" width="1.1" height="1.1" fill="#3a3aff" opacity="0.45"/>
<rect x="354.87" y="110.41" width="1.1" height="1.1" fill="#3a3aff" opacity="0.45"/>
<rect x="356.58" y="101.64" width="1.1" height="1.1" fill="#3a3aff" opacity="0.45"/>
<rect x="358.30" y="123.84" width="1.1" height="1.1" fill="#3a3aff" opacity="0.45"/>
<rect x="360.02" y="115.89" width="1.1" height="1.1" fill="#3a3aff" opacity="0.45"/>
<rect x="361.74" y="101.64" width="1.1" height="1.1" fill="#3a3aff" opacity="0.45"/>
<rect x="363.46" y="119.73" width="1.1" height="1.1" fill="#3a3aff" opacity="0.45"/>
<rect x="365.18" y="107.67" width="1.1" height="1.1" fill="#3a3aff" opacity="0.45"/>
<rect x="366.89" y="104.66" width="1.1" height="1.1" fill="#3a3aff" opacity="0.45"/>
<rect x="368.61" y="107.94" width="1.1" height="1.1" fill="#3a3aff" opacity="0.45"/>
<rect x="370.33" y="102.46" width="1.1" height="1.1" fill="#3a3aff" opacity="0.45"/>
<rect x="372.05" y="114.25" width="1.1" height="1.1" fill="#3a3aff" opacity="0.45"/>
<rect x="288.4" y="135.7" width="84.2" height="27.4" fill="none" stroke="#d8d8d8" stroke-width="0.5"/>
<text x="285.40" y="137.70" font-size="5.6" text-anchor="middle" font-weight="normal" font-style="normal" fill="#333" >1</text>
<text x="282.40" y="151.40" font-size="5.6" text-anchor="middle" font-weight="normal" font-style="normal" fill="#333" >0.5</text>
<text x="285.40" y="165.10" font-size="5.6" text-anchor="middle" font-weight="normal" font-style="normal" fill="#333" >0</text>
<text transform="translate(275.2,150.39999999999998) rotate(-90)" font-size="5.6" fill="#444" text-anchor="middle" font-style="italic">x<tspan font-size="3.6" dy="1.3">n</tspan></text>
<text x="376.30" y="151.60" font-size="6.0" text-anchor="middle" font-weight="normal" font-style="normal" fill="#222" >B</text>
<path d="M288.40,149.95 C288.69,148.62 289.55,143.60 290.12,142.00 C290.69,140.40 291.26,139.58 291.84,140.36 C292.41,141.13 293.27,145.61 293.56,146.66" fill="none" stroke="#8080ff" stroke-width="0.7"/>
<rect x="287.85" y="149.40" width="1.1" height="1.1" fill="#3a3aff" opacity="0.55"/>
<rect x="289.57" y="141.45" width="1.1" height="1.1" fill="#3a3aff" opacity="0.55"/>
<rect x="291.29" y="139.81" width="1.1" height="1.1" fill="#3a3aff" opacity="0.55"/>
<rect x="293.01" y="146.11" width="1.1" height="1.1" fill="#3a3aff" opacity="0.55"/>
<path d="M288.40,157.89 C288.69,155.11 289.55,144.10 290.12,141.18 C290.69,138.26 291.26,139.44 291.84,140.36 C292.41,141.27 292.98,147.39 293.56,146.66 C294.13,145.93 294.70,133.42 295.27,135.97 C295.85,138.53 296.42,157.94 296.99,162.00 C297.56,166.07 298.14,162.00 298.71,160.36 C299.28,158.72 299.86,155.34 300.43,152.14 C301.00,148.94 301.57,142.50 302.15,141.18 C302.72,139.86 303.29,144.79 303.87,144.19 C304.44,143.60 305.01,135.88 305.58,137.62 C306.16,139.35 306.73,153.65 307.30,154.61 C307.87,155.56 308.45,145.34 309.02,143.37 C309.59,141.41 310.17,143.46 310.74,142.82 C311.31,142.18 311.88,138.49 312.46,139.54 C313.03,140.59 313.60,149.72 314.18,149.13 C314.75,148.53 315.32,133.87 315.89,135.97 C316.47,138.07 317.04,157.30 317.61,161.73 C318.19,166.16 318.76,163.01 319.33,162.55 C319.90,162.10 320.48,161.41 321.05,158.99 C321.62,156.57 322.19,151.82 322.77,148.03 C323.34,144.24 323.91,133.96 324.49,136.25 C325.06,138.53 325.63,157.39 326.20,161.73 C326.78,166.07 327.35,163.42 327.92,162.28 C328.50,161.14 329.07,159.22 329.64,154.88 C330.21,150.54 330.79,135.01 331.36,136.25 C331.93,137.48 332.50,157.80 333.08,162.28 C333.65,166.75 334.22,163.05 334.80,163.10 C335.37,163.15 335.94,164.38 336.51,162.55 C337.09,160.73 337.66,155.84 338.23,152.14 C338.81,148.44 339.38,141.13 339.95,140.36 C340.52,139.58 341.10,148.21 341.67,147.48 C342.24,146.75 342.81,133.46 343.39,135.97 C343.96,138.49 344.53,158.03 345.11,162.55 C345.68,167.07 346.25,163.10 346.82,163.10 C347.40,163.10 347.97,163.24 348.54,162.55 C349.12,161.87 349.69,161.18 350.26,158.99 C350.83,156.80 351.41,152.37 351.98,149.40 C352.55,146.43 353.13,142.05 353.70,141.18 C354.27,140.31 354.84,144.74 355.42,144.19 C355.99,143.65 356.56,136.02 357.13,137.89 C357.71,139.76 358.28,154.79 358.85,155.43 C359.43,156.07 360.00,144.24 360.57,141.73 C361.14,139.22 361.72,139.54 362.29,140.36 C362.86,141.18 363.44,147.39 364.01,146.66 C364.58,145.93 365.15,133.37 365.73,135.97 C366.30,138.58 366.87,158.21 367.44,162.28 C368.02,166.34 368.59,162.28 369.16,160.36 C369.74,158.44 370.31,154.38 370.88,150.77 C371.45,147.16 372.31,140.72 372.60,138.71" fill="none" stroke="#c47c7c" stroke-width="0.6"/>
<rect x="287.85" y="157.34" width="1.1" height="1.1" fill="#b04848" opacity="0.45"/>
<rect x="289.57" y="140.63" width="1.1" height="1.1" fill="#b04848" opacity="0.45"/>
<rect x="291.29" y="139.81" width="1.1" height="1.1" fill="#b04848" opacity="0.45"/>
<rect x="293.01" y="146.11" width="1.1" height="1.1" fill="#b04848" opacity="0.45"/>
<rect x="294.72" y="135.42" width="1.1" height="1.1" fill="#b04848" opacity="0.45"/>
<rect x="296.44" y="161.45" width="1.1" height="1.1" fill="#b04848" opacity="0.45"/>
<rect x="298.16" y="159.81" width="1.1" height="1.1" fill="#b04848" opacity="0.45"/>
<rect x="299.88" y="151.59" width="1.1" height="1.1" fill="#b04848" opacity="0.45"/>
<rect x="301.60" y="140.63" width="1.1" height="1.1" fill="#b04848" opacity="0.45"/>
<rect x="303.32" y="143.64" width="1.1" height="1.1" fill="#b04848" opacity="0.45"/>
<rect x="305.03" y="137.07" width="1.1" height="1.1" fill="#b04848" opacity="0.45"/>
<rect x="306.75" y="154.06" width="1.1" height="1.1" fill="#b04848" opacity="0.45"/>
<rect x="308.47" y="142.82" width="1.1" height="1.1" fill="#b04848" opacity="0.45"/>
<rect x="310.19" y="142.27" width="1.1" height="1.1" fill="#b04848" opacity="0.45"/>
<rect x="311.91" y="138.99" width="1.1" height="1.1" fill="#b04848" opacity="0.45"/>
<rect x="313.63" y="148.58" width="1.1" height="1.1" fill="#b04848" opacity="0.45"/>
<rect x="315.34" y="135.42" width="1.1" height="1.1" fill="#b04848" opacity="0.45"/>
<rect x="317.06" y="161.18" width="1.1" height="1.1" fill="#b04848" opacity="0.45"/>
<rect x="318.78" y="162.00" width="1.1" height="1.1" fill="#b04848" opacity="0.45"/>
<rect x="320.50" y="158.44" width="1.1" height="1.1" fill="#b04848" opacity="0.45"/>
<rect x="322.22" y="147.48" width="1.1" height="1.1" fill="#b04848" opacity="0.45"/>
<rect x="323.94" y="135.70" width="1.1" height="1.1" fill="#b04848" opacity="0.45"/>
<rect x="325.65" y="161.18" width="1.1" height="1.1" fill="#b04848" opacity="0.45"/>
<rect x="327.37" y="161.73" width="1.1" height="1.1" fill="#b04848" opacity="0.45"/>
<rect x="329.09" y="154.33" width="1.1" height="1.1" fill="#b04848" opacity="0.45"/>
<rect x="330.81" y="135.70" width="1.1" height="1.1" fill="#b04848" opacity="0.45"/>
<rect x="332.53" y="161.73" width="1.1" height="1.1" fill="#b04848" opacity="0.45"/>
<rect x="334.25" y="162.55" width="1.1" height="1.1" fill="#b04848" opacity="0.45"/>
<rect x="335.96" y="162.00" width="1.1" height="1.1" fill="#b04848" opacity="0.45"/>
<rect x="337.68" y="151.59" width="1.1" height="1.1" fill="#b04848" opacity="0.45"/>
<rect x="339.40" y="139.81" width="1.1" height="1.1" fill="#b04848" opacity="0.45"/>
<rect x="341.12" y="146.93" width="1.1" height="1.1" fill="#b04848" opacity="0.45"/>
<rect x="342.84" y="135.42" width="1.1" height="1.1" fill="#b04848" opacity="0.45"/>
<rect x="344.56" y="162.00" width="1.1" height="1.1" fill="#b04848" opacity="0.45"/>
<rect x="346.27" y="162.55" width="1.1" height="1.1" fill="#b04848" opacity="0.45"/>
<rect x="347.99" y="162.00" width="1.1" height="1.1" fill="#b04848" opacity="0.45"/>
<rect x="349.71" y="158.44" width="1.1" height="1.1" fill="#b04848" opacity="0.45"/>
<rect x="351.43" y="148.85" width="1.1" height="1.1" fill="#b04848" opacity="0.45"/>
<rect x="353.15" y="140.63" width="1.1" height="1.1" fill="#b04848" opacity="0.45"/>
<rect x="354.87" y="143.64" width="1.1" height="1.1" fill="#b04848" opacity="0.45"/>
<rect x="356.58" y="137.34" width="1.1" height="1.1" fill="#b04848" opacity="0.45"/>
<rect x="358.30" y="154.88" width="1.1" height="1.1" fill="#b04848" opacity="0.45"/>
<rect x="360.02" y="141.18" width="1.1" height="1.1" fill="#b04848" opacity="0.45"/>
<rect x="361.74" y="139.81" width="1.1" height="1.1" fill="#b04848" opacity="0.45"/>
<rect x="363.46" y="146.11" width="1.1" height="1.1" fill="#b04848" opacity="0.45"/>
<rect x="365.18" y="135.42" width="1.1" height="1.1" fill="#b04848" opacity="0.45"/>
<rect x="366.89" y="161.73" width="1.1" height="1.1" fill="#b04848" opacity="0.45"/>
<rect x="368.61" y="159.81" width="1.1" height="1.1" fill="#b04848" opacity="0.45"/>
<rect x="370.33" y="150.22" width="1.1" height="1.1" fill="#b04848" opacity="0.45"/>
<rect x="372.05" y="138.16" width="1.1" height="1.1" fill="#b04848" opacity="0.45"/>
<rect x="288.4" y="171.4" width="84.2" height="27.1" fill="none" stroke="#d8d8d8" stroke-width="0.5"/>
<text x="285.40" y="173.40" font-size="5.6" text-anchor="middle" font-weight="normal" font-style="normal" fill="#333" >1</text>
<text x="282.40" y="186.95" font-size="5.6" text-anchor="middle" font-weight="normal" font-style="normal" fill="#333" >0.5</text>
<text x="285.40" y="200.50" font-size="5.6" text-anchor="middle" font-weight="normal" font-style="normal" fill="#333" >0</text>
<text transform="translate(275.2,185.95) rotate(-90)" font-size="5.6" fill="#444" text-anchor="middle" font-style="italic">x<tspan font-size="3.6" dy="1.3">n</tspan></text>
<text x="376.30" y="187.15" font-size="6.0" text-anchor="middle" font-weight="normal" font-style="normal" fill="#222" >C</text>
<path d="M288.40,185.76 C288.69,185.13 289.55,183.64 290.12,181.97 C290.69,180.30 291.26,176.41 291.84,175.74 C292.41,175.06 293.27,177.54 293.56,177.90" fill="none" stroke="#8080ff" stroke-width="0.7"/>
<rect x="287.85" y="185.21" width="1.1" height="1.1" fill="#3a3aff" opacity="0.55"/>
<rect x="289.57" y="181.42" width="1.1" height="1.1" fill="#3a3aff" opacity="0.55"/>
<rect x="291.29" y="175.19" width="1.1" height="1.1" fill="#3a3aff" opacity="0.55"/>
<rect x="293.01" y="177.35" width="1.1" height="1.1" fill="#3a3aff" opacity="0.55"/>
<path d="M288.40,193.08 C288.69,191.23 289.55,184.86 290.12,181.97 C290.69,179.08 291.26,176.41 291.84,175.74 C292.41,175.06 292.98,178.40 293.56,177.90 C294.13,177.41 294.70,169.73 295.27,172.75 C295.85,175.78 296.42,192.90 296.99,196.06 C297.56,199.22 298.14,194.03 298.71,191.72 C299.28,189.42 299.86,184.95 300.43,182.24 C301.00,179.53 301.57,174.88 302.15,175.47 C302.72,176.05 303.29,186.21 303.87,185.76 C304.44,185.31 305.01,171.17 305.58,172.75 C306.16,174.34 306.73,192.76 307.30,195.25 C307.87,197.73 308.45,190.96 309.02,187.66 C309.59,184.36 310.17,175.78 310.74,175.47 C311.31,175.15 311.88,186.21 312.46,185.76 C313.03,185.31 313.60,171.04 314.18,172.75 C314.75,174.47 315.32,193.13 315.89,196.06 C316.47,199.00 317.04,192.72 317.61,190.37 C318.19,188.02 318.76,184.18 319.33,181.97 C319.90,179.76 320.48,177.36 321.05,177.09 C321.62,176.82 322.19,180.75 322.77,180.34 C323.34,179.94 323.91,173.61 324.49,174.65 C325.06,175.69 325.63,186.58 326.20,186.58 C326.78,186.58 327.35,174.25 327.92,174.65 C328.50,175.06 329.07,188.83 329.64,189.02 C330.21,189.20 330.79,176.68 331.36,175.74 C331.93,174.79 332.50,183.82 333.08,183.32 C333.65,182.83 334.22,170.36 334.80,172.75 C335.37,175.15 335.94,193.40 336.51,197.69 C337.09,201.98 337.66,198.36 338.23,198.50 C338.81,198.64 339.38,199.18 339.95,198.50 C340.52,197.82 341.10,196.47 341.67,194.44 C342.24,192.40 342.81,189.02 343.39,186.31 C343.96,183.59 344.53,180.12 345.11,178.18 C345.68,176.23 346.25,173.12 346.82,174.65 C347.40,176.19 347.97,187.39 348.54,187.39 C349.12,187.39 349.69,174.38 350.26,174.65 C350.83,174.92 351.41,188.83 351.98,189.02 C352.55,189.20 353.13,176.28 353.70,175.74 C354.27,175.19 354.84,186.21 355.42,185.76 C355.99,185.31 356.56,171.17 357.13,173.03 C357.71,174.88 358.28,193.98 358.85,196.87 C359.43,199.76 360.00,193.03 360.57,190.37 C361.14,187.71 361.72,183.50 362.29,180.88 C362.86,178.27 363.44,173.30 364.01,174.65 C364.58,176.01 365.15,188.61 365.73,189.02 C366.30,189.42 366.87,178.27 367.44,177.09 C368.02,175.92 368.59,182.69 369.16,181.97 C369.74,181.25 370.31,170.90 370.88,172.75 C371.45,174.61 372.31,189.69 372.60,193.08" fill="none" stroke="#c47c7c" stroke-width="0.6"/>
<rect x="287.85" y="192.53" width="1.1" height="1.1" fill="#b04848" opacity="0.45"/>
<rect x="289.57" y="181.42" width="1.1" height="1.1" fill="#b04848" opacity="0.45"/>
<rect x="291.29" y="175.19" width="1.1" height="1.1" fill="#b04848" opacity="0.45"/>
<rect x="293.01" y="177.35" width="1.1" height="1.1" fill="#b04848" opacity="0.45"/>
<rect x="294.72" y="172.20" width="1.1" height="1.1" fill="#b04848" opacity="0.45"/>
<rect x="296.44" y="195.51" width="1.1" height="1.1" fill="#b04848" opacity="0.45"/>
<rect x="298.16" y="191.17" width="1.1" height="1.1" fill="#b04848" opacity="0.45"/>
<rect x="299.88" y="181.69" width="1.1" height="1.1" fill="#b04848" opacity="0.45"/>
<rect x="301.60" y="174.91" width="1.1" height="1.1" fill="#b04848" opacity="0.45"/>
<rect x="303.32" y="185.21" width="1.1" height="1.1" fill="#b04848" opacity="0.45"/>
<rect x="305.03" y="172.20" width="1.1" height="1.1" fill="#b04848" opacity="0.45"/>
<rect x="306.75" y="194.70" width="1.1" height="1.1" fill="#b04848" opacity="0.45"/>
<rect x="308.47" y="187.11" width="1.1" height="1.1" fill="#b04848" opacity="0.45"/>
<rect x="310.19" y="174.91" width="1.1" height="1.1" fill="#b04848" opacity="0.45"/>
<rect x="311.91" y="185.21" width="1.1" height="1.1" fill="#b04848" opacity="0.45"/>
<rect x="313.63" y="172.20" width="1.1" height="1.1" fill="#b04848" opacity="0.45"/>
<rect x="315.34" y="195.51" width="1.1" height="1.1" fill="#b04848" opacity="0.45"/>
<rect x="317.06" y="189.82" width="1.1" height="1.1" fill="#b04848" opacity="0.45"/>
<rect x="318.78" y="181.42" width="1.1" height="1.1" fill="#b04848" opacity="0.45"/>
<rect x="320.50" y="176.54" width="1.1" height="1.1" fill="#b04848" opacity="0.45"/>
<rect x="322.22" y="179.79" width="1.1" height="1.1" fill="#b04848" opacity="0.45"/>
<rect x="323.94" y="174.10" width="1.1" height="1.1" fill="#b04848" opacity="0.45"/>
<rect x="325.65" y="186.03" width="1.1" height="1.1" fill="#b04848" opacity="0.45"/>
<rect x="327.37" y="174.10" width="1.1" height="1.1" fill="#b04848" opacity="0.45"/>
<rect x="329.09" y="188.47" width="1.1" height="1.1" fill="#b04848" opacity="0.45"/>
<rect x="330.81" y="175.19" width="1.1" height="1.1" fill="#b04848" opacity="0.45"/>
<rect x="332.53" y="182.77" width="1.1" height="1.1" fill="#b04848" opacity="0.45"/>
<rect x="334.25" y="172.20" width="1.1" height="1.1" fill="#b04848" opacity="0.45"/>
<rect x="335.96" y="197.14" width="1.1" height="1.1" fill="#b04848" opacity="0.45"/>
<rect x="337.68" y="197.95" width="1.1" height="1.1" fill="#b04848" opacity="0.45"/>
<rect x="339.40" y="197.95" width="1.1" height="1.1" fill="#b04848" opacity="0.45"/>
<rect x="341.12" y="193.88" width="1.1" height="1.1" fill="#b04848" opacity="0.45"/>
<rect x="342.84" y="185.75" width="1.1" height="1.1" fill="#b04848" opacity="0.45"/>
<rect x="344.56" y="177.62" width="1.1" height="1.1" fill="#b04848" opacity="0.45"/>
<rect x="346.27" y="174.10" width="1.1" height="1.1" fill="#b04848" opacity="0.45"/>
<rect x="347.99" y="186.84" width="1.1" height="1.1" fill="#b04848" opacity="0.45"/>
<rect x="349.71" y="174.10" width="1.1" height="1.1" fill="#b04848" opacity="0.45"/>
<rect x="351.43" y="188.47" width="1.1" height="1.1" fill="#b04848" opacity="0.45"/>
<rect x="353.15" y="175.19" width="1.1" height="1.1" fill="#b04848" opacity="0.45"/>
<rect x="354.87" y="185.21" width="1.1" height="1.1" fill="#b04848" opacity="0.45"/>
<rect x="356.58" y="172.48" width="1.1" height="1.1" fill="#b04848" opacity="0.45"/>
<rect x="358.30" y="196.32" width="1.1" height="1.1" fill="#b04848" opacity="0.45"/>
<rect x="360.02" y="189.82" width="1.1" height="1.1" fill="#b04848" opacity="0.45"/>
<rect x="361.74" y="180.33" width="1.1" height="1.1" fill="#b04848" opacity="0.45"/>
<rect x="363.46" y="174.10" width="1.1" height="1.1" fill="#b04848" opacity="0.45"/>
<rect x="365.18" y="188.47" width="1.1" height="1.1" fill="#b04848" opacity="0.45"/>
<rect x="366.89" y="176.54" width="1.1" height="1.1" fill="#b04848" opacity="0.45"/>
<rect x="368.61" y="181.42" width="1.1" height="1.1" fill="#b04848" opacity="0.45"/>
<rect x="370.33" y="172.20" width="1.1" height="1.1" fill="#b04848" opacity="0.45"/>
<rect x="372.05" y="192.53" width="1.1" height="1.1" fill="#b04848" opacity="0.45"/>
<rect x="288.4" y="207.6" width="84.2" height="26.6" fill="none" stroke="#d8d8d8" stroke-width="0.5"/>
<text x="285.40" y="209.60" font-size="5.6" text-anchor="middle" font-weight="normal" font-style="normal" fill="#333" >1</text>
<text x="282.40" y="222.90" font-size="5.6" text-anchor="middle" font-weight="normal" font-style="normal" fill="#333" >0.5</text>
<text x="285.40" y="236.20" font-size="5.6" text-anchor="middle" font-weight="normal" font-style="normal" fill="#333" >0</text>
<text transform="translate(275.2,221.89999999999998) rotate(-90)" font-size="5.6" fill="#444" text-anchor="middle" font-style="italic">x<tspan font-size="3.6" dy="1.3">n</tspan></text>
<text x="376.30" y="223.10" font-size="6.0" text-anchor="middle" font-weight="normal" font-style="normal" fill="#222" >D</text>
<path d="M288.40,224.09 C288.69,223.34 289.55,220.72 290.12,219.57 C290.69,218.42 291.26,217.18 291.84,217.18 C292.41,217.18 292.98,219.97 293.56,219.57 C294.13,219.17 294.70,214.03 295.27,214.78 C295.85,215.54 296.42,225.02 296.99,224.09 C297.56,223.16 298.14,208.53 298.71,209.20 C299.28,209.86 299.86,227.15 300.43,228.08 C301.00,229.01 301.57,217.26 302.15,214.78 C302.72,212.30 303.29,212.39 303.87,213.19 C304.44,213.98 305.01,220.32 305.58,219.57 C306.16,218.82 306.73,206.31 307.30,208.66 C307.87,211.01 308.45,229.94 309.02,233.67 C309.59,237.39 310.17,233.14 310.74,231.01 C311.31,228.88 311.88,224.67 312.46,220.90 C313.03,217.13 313.60,206.27 314.18,208.40 C314.75,210.53 315.32,230.25 315.89,233.67 C316.47,237.08 317.04,230.79 317.61,228.88 C318.19,226.97 318.76,225.24 319.33,222.23 C319.90,219.22 320.48,210.22 321.05,210.79 C321.62,211.37 322.19,225.69 322.77,225.69 C323.34,225.69 323.91,211.01 324.49,210.79 C325.06,210.57 325.63,224.62 326.20,224.36 C326.78,224.09 327.35,208.44 327.92,209.20 C328.50,209.95 329.07,226.93 329.64,228.88 C330.21,230.83 330.79,223.78 331.36,220.90 C331.93,218.02 332.50,211.55 333.08,211.59 C333.65,211.63 334.22,221.70 334.80,221.17 C335.37,220.63 335.94,206.67 336.51,208.40 C337.09,210.13 337.66,229.01 338.23,231.54 C338.81,234.07 339.38,226.75 339.95,223.56 C340.52,220.37 341.10,213.32 341.67,212.39 C342.24,211.46 342.81,218.37 343.39,217.97 C343.96,217.57 344.53,208.31 345.11,209.99 C345.68,211.68 346.25,227.15 346.82,228.08 C347.40,229.01 347.97,217.75 348.54,215.58 C349.12,213.41 349.69,215.71 350.26,215.05 C350.83,214.38 351.41,212.57 351.98,211.59 C352.55,210.61 353.13,206.58 353.70,209.20 C354.27,211.81 354.84,226.35 355.42,227.28 C355.99,228.21 356.56,217.13 357.13,214.78 C357.71,212.43 358.28,211.86 358.85,213.19 C359.43,214.52 360.00,223.56 360.57,222.76 C361.14,221.96 361.72,206.94 362.29,208.40 C362.86,209.86 363.44,229.01 364.01,231.54 C364.58,234.07 365.15,227.02 365.73,223.56 C366.30,220.10 366.87,210.44 367.44,210.79 C368.02,211.15 368.59,225.42 369.16,225.69 C369.74,225.95 370.31,213.41 370.88,212.39 C371.45,211.37 372.31,218.37 372.60,219.57" fill="none" stroke="#7f7fff" stroke-width="0.55" opacity="0.85"/>
<rect x="287.85" y="223.54" width="1.1" height="1.1" fill="#3a3aff" opacity="0.45"/>
<rect x="289.57" y="219.02" width="1.1" height="1.1" fill="#3a3aff" opacity="0.45"/>
<rect x="291.29" y="216.63" width="1.1" height="1.1" fill="#3a3aff" opacity="0.45"/>
<rect x="293.01" y="219.02" width="1.1" height="1.1" fill="#3a3aff" opacity="0.45"/>
<rect x="294.72" y="214.23" width="1.1" height="1.1" fill="#3a3aff" opacity="0.45"/>
<rect x="296.44" y="223.54" width="1.1" height="1.1" fill="#3a3aff" opacity="0.45"/>
<rect x="298.16" y="208.65" width="1.1" height="1.1" fill="#3a3aff" opacity="0.45"/>
<rect x="299.88" y="227.53" width="1.1" height="1.1" fill="#3a3aff" opacity="0.45"/>
<rect x="301.60" y="214.23" width="1.1" height="1.1" fill="#3a3aff" opacity="0.45"/>
<rect x="303.32" y="212.64" width="1.1" height="1.1" fill="#3a3aff" opacity="0.45"/>
<rect x="305.03" y="219.02" width="1.1" height="1.1" fill="#3a3aff" opacity="0.45"/>
<rect x="306.75" y="208.11" width="1.1" height="1.1" fill="#3a3aff" opacity="0.45"/>
<rect x="308.47" y="233.12" width="1.1" height="1.1" fill="#3a3aff" opacity="0.45"/>
<rect x="310.19" y="230.46" width="1.1" height="1.1" fill="#3a3aff" opacity="0.45"/>
<rect x="311.91" y="220.35" width="1.1" height="1.1" fill="#3a3aff" opacity="0.45"/>
<rect x="313.63" y="207.85" width="1.1" height="1.1" fill="#3a3aff" opacity="0.45"/>
<rect x="315.34" y="233.12" width="1.1" height="1.1" fill="#3a3aff" opacity="0.45"/>
<rect x="317.06" y="228.33" width="1.1" height="1.1" fill="#3a3aff" opacity="0.45"/>
<rect x="318.78" y="221.68" width="1.1" height="1.1" fill="#3a3aff" opacity="0.45"/>
<rect x="320.50" y="210.24" width="1.1" height="1.1" fill="#3a3aff" opacity="0.45"/>
<rect x="322.22" y="225.14" width="1.1" height="1.1" fill="#3a3aff" opacity="0.45"/>
<rect x="323.94" y="210.24" width="1.1" height="1.1" fill="#3a3aff" opacity="0.45"/>
<rect x="325.65" y="223.81" width="1.1" height="1.1" fill="#3a3aff" opacity="0.45"/>
<rect x="327.37" y="208.65" width="1.1" height="1.1" fill="#3a3aff" opacity="0.45"/>
<rect x="329.09" y="228.33" width="1.1" height="1.1" fill="#3a3aff" opacity="0.45"/>
<rect x="330.81" y="220.35" width="1.1" height="1.1" fill="#3a3aff" opacity="0.45"/>
<rect x="332.53" y="211.04" width="1.1" height="1.1" fill="#3a3aff" opacity="0.45"/>
<rect x="334.25" y="220.62" width="1.1" height="1.1" fill="#3a3aff" opacity="0.45"/>
<rect x="335.96" y="207.85" width="1.1" height="1.1" fill="#3a3aff" opacity="0.45"/>
<rect x="337.68" y="230.99" width="1.1" height="1.1" fill="#3a3aff" opacity="0.45"/>
<rect x="339.40" y="223.01" width="1.1" height="1.1" fill="#3a3aff" opacity="0.45"/>
<rect x="341.12" y="211.84" width="1.1" height="1.1" fill="#3a3aff" opacity="0.45"/>
<rect x="342.84" y="217.42" width="1.1" height="1.1" fill="#3a3aff" opacity="0.45"/>
<rect x="344.56" y="209.44" width="1.1" height="1.1" fill="#3a3aff" opacity="0.45"/>
<rect x="346.27" y="227.53" width="1.1" height="1.1" fill="#3a3aff" opacity="0.45"/>
<rect x="347.99" y="215.03" width="1.1" height="1.1" fill="#3a3aff" opacity="0.45"/>
<rect x="349.71" y="214.50" width="1.1" height="1.1" fill="#3a3aff" opacity="0.45"/>
<rect x="351.43" y="211.04" width="1.1" height="1.1" fill="#3a3aff" opacity="0.45"/>
<rect x="353.15" y="208.65" width="1.1" height="1.1" fill="#3a3aff" opacity="0.45"/>
<rect x="354.87" y="226.73" width="1.1" height="1.1" fill="#3a3aff" opacity="0.45"/>
<rect x="356.58" y="214.23" width="1.1" height="1.1" fill="#3a3aff" opacity="0.45"/>
<rect x="358.30" y="212.64" width="1.1" height="1.1" fill="#3a3aff" opacity="0.45"/>
<rect x="360.02" y="222.21" width="1.1" height="1.1" fill="#3a3aff" opacity="0.45"/>
<rect x="361.74" y="207.85" width="1.1" height="1.1" fill="#3a3aff" opacity="0.45"/>
<rect x="363.46" y="230.99" width="1.1" height="1.1" fill="#3a3aff" opacity="0.45"/>
<rect x="365.18" y="223.01" width="1.1" height="1.1" fill="#3a3aff" opacity="0.45"/>
<rect x="366.89" y="210.24" width="1.1" height="1.1" fill="#3a3aff" opacity="0.45"/>
<rect x="368.61" y="225.14" width="1.1" height="1.1" fill="#3a3aff" opacity="0.45"/>
<rect x="370.33" y="211.84" width="1.1" height="1.1" fill="#3a3aff" opacity="0.45"/>
<rect x="372.05" y="219.02" width="1.1" height="1.1" fill="#3a3aff" opacity="0.45"/>
<path d="M288.40,232.07 C288.69,228.66 289.55,215.40 290.12,211.59 C290.69,207.78 291.26,209.33 291.84,209.20 C292.41,209.06 292.98,210.66 293.56,210.79 C294.13,210.93 294.70,208.80 295.27,209.99 C295.85,211.19 296.42,218.11 296.99,217.97 C297.56,217.84 298.14,207.82 298.71,209.20 C299.28,210.57 299.86,225.60 300.43,226.22 C301.00,226.84 301.57,214.69 302.15,212.92 C302.72,211.15 303.29,215.36 303.87,215.58 C304.44,215.80 305.01,215.40 305.58,214.25 C306.16,213.10 306.73,205.43 307.30,208.66 C307.87,211.90 308.45,229.94 309.02,233.67 C309.59,237.39 310.17,233.14 310.74,231.01 C311.31,228.88 311.88,224.67 312.46,220.90 C313.03,217.13 313.60,206.27 314.18,208.40 C314.75,210.53 315.32,230.25 315.89,233.67 C316.47,237.08 317.04,230.79 317.61,228.88 C318.19,226.97 318.76,225.24 319.33,222.23 C319.90,219.22 320.48,210.22 321.05,210.79 C321.62,211.37 322.19,225.69 322.77,225.69 C323.34,225.69 323.91,211.01 324.49,210.79 C325.06,210.57 325.63,224.62 326.20,224.36 C326.78,224.09 327.35,208.44 327.92,209.20 C328.50,209.95 329.07,226.93 329.64,228.88 C330.21,230.83 330.79,223.56 331.36,220.90 C331.93,218.24 332.50,213.14 333.08,212.92 C333.65,212.70 334.22,220.32 334.80,219.57 C335.37,218.82 335.94,206.40 336.51,208.40 C337.09,210.39 337.66,229.01 338.23,231.54 C338.81,234.07 339.38,226.44 339.95,223.56 C340.52,220.68 341.10,214.69 341.67,214.25 C342.24,213.81 342.81,221.61 343.39,220.90 C343.96,220.19 344.53,208.80 345.11,209.99 C345.68,211.19 346.25,226.71 346.82,228.08 C347.40,229.46 347.97,220.77 348.54,218.24 C349.12,215.71 349.69,214.03 350.26,212.92 C350.83,211.81 351.41,212.21 351.98,211.59 C352.55,210.97 353.13,206.85 353.70,209.20 C354.27,211.55 354.84,224.76 355.42,225.69 C355.99,226.62 356.56,217.13 357.13,214.78 C357.71,212.43 358.28,209.91 358.85,211.59 C359.43,213.27 360.00,225.42 360.57,224.89 C361.14,224.36 361.72,207.29 362.29,208.40 C362.86,209.51 363.44,229.46 364.01,231.54 C364.58,233.62 365.15,224.36 365.73,220.90 C366.30,217.44 366.87,209.82 367.44,210.79 C368.02,211.77 368.59,226.49 369.16,226.75 C369.74,227.02 370.31,213.59 370.88,212.39 C371.45,211.19 372.31,218.37 372.60,219.57" fill="none" stroke="#c88484" stroke-width="0.55" opacity="0.85"/>
<rect x="287.85" y="231.52" width="1.1" height="1.1" fill="#b04848" opacity="0.45"/>
<rect x="289.57" y="211.04" width="1.1" height="1.1" fill="#b04848" opacity="0.45"/>
<rect x="291.29" y="208.65" width="1.1" height="1.1" fill="#b04848" opacity="0.45"/>
<rect x="293.01" y="210.24" width="1.1" height="1.1" fill="#b04848" opacity="0.45"/>
<rect x="294.72" y="209.44" width="1.1" height="1.1" fill="#b04848" opacity="0.45"/>
<rect x="296.44" y="217.42" width="1.1" height="1.1" fill="#b04848" opacity="0.45"/>
<rect x="298.16" y="208.65" width="1.1" height="1.1" fill="#b04848" opacity="0.45"/>
<rect x="299.88" y="225.67" width="1.1" height="1.1" fill="#b04848" opacity="0.45"/>
<rect x="301.60" y="212.37" width="1.1" height="1.1" fill="#b04848" opacity="0.45"/>
<rect x="303.32" y="215.03" width="1.1" height="1.1" fill="#b04848" opacity="0.45"/>
<rect x="305.03" y="213.70" width="1.1" height="1.1" fill="#b04848" opacity="0.45"/>
<rect x="306.75" y="208.11" width="1.1" height="1.1" fill="#b04848" opacity="0.45"/>
<rect x="308.47" y="233.12" width="1.1" height="1.1" fill="#b04848" opacity="0.45"/>
<rect x="310.19" y="230.46" width="1.1" height="1.1" fill="#b04848" opacity="0.45"/>
<rect x="311.91" y="220.35" width="1.1" height="1.1" fill="#b04848" opacity="0.45"/>
<rect x="313.63" y="207.85" width="1.1" height="1.1" fill="#b04848" opacity="0.45"/>
<rect x="315.34" y="233.12" width="1.1" height="1.1" fill="#b04848" opacity="0.45"/>
<rect x="317.06" y="228.33" width="1.1" height="1.1" fill="#b04848" opacity="0.45"/>
<rect x="318.78" y="221.68" width="1.1" height="1.1" fill="#b04848" opacity="0.45"/>
<rect x="320.50" y="210.24" width="1.1" height="1.1" fill="#b04848" opacity="0.45"/>
<rect x="322.22" y="225.14" width="1.1" height="1.1" fill="#b04848" opacity="0.45"/>
<rect x="323.94" y="210.24" width="1.1" height="1.1" fill="#b04848" opacity="0.45"/>
<rect x="325.65" y="223.81" width="1.1" height="1.1" fill="#b04848" opacity="0.45"/>
<rect x="327.37" y="208.65" width="1.1" height="1.1" fill="#b04848" opacity="0.45"/>
<rect x="329.09" y="228.33" width="1.1" height="1.1" fill="#b04848" opacity="0.45"/>
<rect x="330.81" y="220.35" width="1.1" height="1.1" fill="#b04848" opacity="0.45"/>
<rect x="332.53" y="212.37" width="1.1" height="1.1" fill="#b04848" opacity="0.45"/>
<rect x="334.25" y="219.02" width="1.1" height="1.1" fill="#b04848" opacity="0.45"/>
<rect x="335.96" y="207.85" width="1.1" height="1.1" fill="#b04848" opacity="0.45"/>
<rect x="337.68" y="230.99" width="1.1" height="1.1" fill="#b04848" opacity="0.45"/>
<rect x="339.40" y="223.01" width="1.1" height="1.1" fill="#b04848" opacity="0.45"/>
<rect x="341.12" y="213.70" width="1.1" height="1.1" fill="#b04848" opacity="0.45"/>
<rect x="342.84" y="220.35" width="1.1" height="1.1" fill="#b04848" opacity="0.45"/>
<rect x="344.56" y="209.44" width="1.1" height="1.1" fill="#b04848" opacity="0.45"/>
<rect x="346.27" y="227.53" width="1.1" height="1.1" fill="#b04848" opacity="0.45"/>
<rect x="347.99" y="217.69" width="1.1" height="1.1" fill="#b04848" opacity="0.45"/>
<rect x="349.71" y="212.37" width="1.1" height="1.1" fill="#b04848" opacity="0.45"/>
<rect x="351.43" y="211.04" width="1.1" height="1.1" fill="#b04848" opacity="0.45"/>
<rect x="353.15" y="208.65" width="1.1" height="1.1" fill="#b04848" opacity="0.45"/>
<rect x="354.87" y="225.14" width="1.1" height="1.1" fill="#b04848" opacity="0.45"/>
<rect x="356.58" y="214.23" width="1.1" height="1.1" fill="#b04848" opacity="0.45"/>
<rect x="358.30" y="211.04" width="1.1" height="1.1" fill="#b04848" opacity="0.45"/>
<rect x="360.02" y="224.34" width="1.1" height="1.1" fill="#b04848" opacity="0.45"/>
<rect x="361.74" y="207.85" width="1.1" height="1.1" fill="#b04848" opacity="0.45"/>
<rect x="363.46" y="230.99" width="1.1" height="1.1" fill="#b04848" opacity="0.45"/>
<rect x="365.18" y="220.35" width="1.1" height="1.1" fill="#b04848" opacity="0.45"/>
<rect x="366.89" y="210.24" width="1.1" height="1.1" fill="#b04848" opacity="0.45"/>
<rect x="368.61" y="226.20" width="1.1" height="1.1" fill="#b04848" opacity="0.45"/>
<rect x="370.33" y="211.84" width="1.1" height="1.1" fill="#b04848" opacity="0.45"/>
<rect x="372.05" y="219.02" width="1.1" height="1.1" fill="#b04848" opacity="0.45"/>
<text x="303.87" y="242.40" font-size="6.2" text-anchor="middle" font-weight="normal" font-style="normal" fill="#333" >10</text>
<text x="321.05" y="242.40" font-size="6.2" text-anchor="middle" font-weight="normal" font-style="normal" fill="#333" >20</text>
<text x="338.23" y="242.40" font-size="6.2" text-anchor="middle" font-weight="normal" font-style="normal" fill="#333" >30</text>
<text x="355.42" y="242.40" font-size="6.2" text-anchor="middle" font-weight="normal" font-style="normal" fill="#333" >40</text>
<text x="372.60" y="242.40" font-size="6.2" text-anchor="middle" font-weight="normal" font-style="normal" fill="#333" >50</text>
<text x="330.60" y="249.60" font-size="7.0" text-anchor="middle" font-weight="normal" font-style="italic" fill="#333" >n</text>
</svg>
</body></html>
